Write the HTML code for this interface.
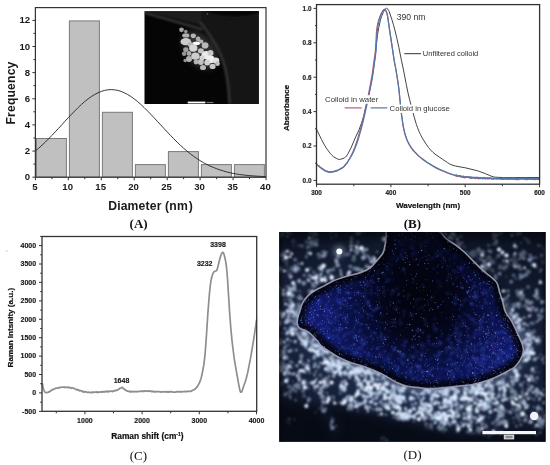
<!DOCTYPE html>
<html><head><meta charset="utf-8"><title>Figure</title>
<style>
html,body{margin:0;padding:0;background:#fff;width:550px;height:465px;overflow:hidden}
svg{display:block}
filter{color-interpolation-filters:sRGB}
.ta{font-family:'Liberation Sans', Arial, sans-serif;font-weight:bold;font-size:9.6px;fill:#1a1a1a}
.tA{font-family:'Liberation Sans', Arial, sans-serif;font-weight:bold;font-size:12.2px;fill:#1a1a1a;letter-spacing:0.15px}
.tb{font-family:'Liberation Sans', Arial, sans-serif;font-weight:bold;font-size:6.4px;fill:#222;stroke:#222;stroke-width:0.15px}
.tB{font-family:'Liberation Sans', Arial, sans-serif;font-weight:bold;font-size:8px;fill:#111;stroke:#111;stroke-width:0.2px}
.tl{font-family:'Liberation Sans', Arial, sans-serif;fill:#333}
.tc{font-family:'Liberation Sans', Arial, sans-serif;font-weight:bold;font-size:7px;fill:#1a1a1a;stroke:#1a1a1a;stroke-width:0.15px}
.tC{font-family:'Liberation Sans', Arial, sans-serif;font-weight:bold;font-size:7.5px;fill:#111;stroke:#111;stroke-width:0.2px}
.lab{font-family:'Liberation Serif', 'Times New Roman', serif;font-size:13px;fill:#111}
</style></head><body>
<svg width="550" height="465" viewBox="0 0 550 465">
<defs>
<filter id="b05" x="-20%" y="-20%" width="140%" height="140%"><feGaussianBlur stdDeviation="0.5"/></filter>
<filter id="b1" x="-20%" y="-20%" width="140%" height="140%"><feGaussianBlur stdDeviation="1"/></filter>
<filter id="b3" x="-50%" y="-50%" width="200%" height="200%"><feGaussianBlur stdDeviation="3"/></filter>
</defs>
<rect width="550" height="465" fill="#fff"/>
<g id="pa">
<rect x="36.4" y="138.5" width="30" height="38.7" fill="#c0c0c0" stroke="#7a7a7a" stroke-width="1"/>
<rect x="69.4" y="20.9" width="30" height="156.3" fill="#c0c0c0" stroke="#7a7a7a" stroke-width="1"/>
<rect x="102.4" y="112.3" width="30" height="64.8" fill="#c0c0c0" stroke="#7a7a7a" stroke-width="1"/>
<rect x="135.4" y="164.6" width="30" height="12.6" fill="#c0c0c0" stroke="#7a7a7a" stroke-width="1"/>
<rect x="168.4" y="151.6" width="30" height="25.6" fill="#c0c0c0" stroke="#7a7a7a" stroke-width="1"/>
<rect x="201.4" y="164.6" width="30" height="12.6" fill="#c0c0c0" stroke="#7a7a7a" stroke-width="1"/>
<rect x="234.4" y="164.6" width="30" height="12.6" fill="#c0c0c0" stroke="#7a7a7a" stroke-width="1"/>
<polyline points="35.4,151 38.7,148.2 42,145.2 45.3,142.1 48.6,138.8 51.9,135.4 55.2,131.9 58.5,128.4 61.8,124.8 65,121.2 68.3,117.7 71.6,114.2 74.9,110.8 78.2,107.5 81.5,104.4 84.8,101.5 88.1,98.9 91.4,96.5 94.7,94.5 98,92.8 101.3,91.4 104.6,90.4 107.9,89.8 111.2,89.6 114.5,89.8 117.8,90.4 121.1,91.4 124.3,92.8 127.6,94.5 130.9,96.5 134.2,98.9 137.5,101.5 140.8,104.4 144.1,107.5 147.4,110.8 150.7,114.2 154,117.7 157.3,121.2 160.6,124.8 163.9,128.4 167.2,131.9 170.5,135.4 173.8,138.8 177.1,142.1 180.3,145.2 183.6,148.2 186.9,151 190.2,153.7 193.5,156.2 196.8,158.5 200.1,160.6 203.4,162.6 206.7,164.4 210,166 213.3,167.4 216.6,168.7 219.9,169.9 223.2,170.9 226.5,171.9 229.8,172.7 233.1,173.4 236.4,174 239.6,174.5 242.9,174.9 246.2,175.3 249.5,175.6 252.8,175.9 256.1,176.1 259.4,176.3 262.7,176.5 266,176.6" fill="none" stroke="#222" stroke-width="0.9"/>
<rect x="35.4" y="7.6" width="230.6" height="169.6" fill="none" stroke="#333" stroke-width="1.2"/>
<line x1="32.4" y1="177.2" x2="35.4" y2="177.2" stroke="#333" stroke-width="1"/>
<text x="30.2" y="180.2" text-anchor="end" class="ta">0</text>
<line x1="33.4" y1="164.1" x2="35.4" y2="164.1" stroke="#333" stroke-width="1"/>
<line x1="32.4" y1="151.1" x2="35.4" y2="151.1" stroke="#333" stroke-width="1"/>
<text x="30.2" y="154.1" text-anchor="end" class="ta">2</text>
<line x1="33.4" y1="138" x2="35.4" y2="138" stroke="#333" stroke-width="1"/>
<line x1="32.4" y1="124.9" x2="35.4" y2="124.9" stroke="#333" stroke-width="1"/>
<text x="30.2" y="127.9" text-anchor="end" class="ta">4</text>
<line x1="33.4" y1="111.8" x2="35.4" y2="111.8" stroke="#333" stroke-width="1"/>
<line x1="32.4" y1="98.8" x2="35.4" y2="98.8" stroke="#333" stroke-width="1"/>
<text x="30.2" y="101.8" text-anchor="end" class="ta">6</text>
<line x1="33.4" y1="85.7" x2="35.4" y2="85.7" stroke="#333" stroke-width="1"/>
<line x1="32.4" y1="72.6" x2="35.4" y2="72.6" stroke="#333" stroke-width="1"/>
<text x="30.2" y="75.6" text-anchor="end" class="ta">8</text>
<line x1="33.4" y1="59.6" x2="35.4" y2="59.6" stroke="#333" stroke-width="1"/>
<line x1="32.4" y1="46.5" x2="35.4" y2="46.5" stroke="#333" stroke-width="1"/>
<text x="30.2" y="49.5" text-anchor="end" class="ta">10</text>
<line x1="33.4" y1="33.4" x2="35.4" y2="33.4" stroke="#333" stroke-width="1"/>
<line x1="32.4" y1="20.4" x2="35.4" y2="20.4" stroke="#333" stroke-width="1"/>
<text x="30.2" y="23.4" text-anchor="end" class="ta">12</text>
<line x1="35.4" y1="177.2" x2="35.4" y2="180.2" stroke="#333" stroke-width="1"/>
<text x="34.8" y="189.9" text-anchor="middle" class="ta">5</text>
<line x1="51.9" y1="177.2" x2="51.9" y2="179.2" stroke="#333" stroke-width="1"/>
<line x1="68.3" y1="177.2" x2="68.3" y2="180.2" stroke="#333" stroke-width="1"/>
<text x="67.7" y="189.9" text-anchor="middle" class="ta">10</text>
<line x1="84.8" y1="177.2" x2="84.8" y2="179.2" stroke="#333" stroke-width="1"/>
<line x1="101.3" y1="177.2" x2="101.3" y2="180.2" stroke="#333" stroke-width="1"/>
<text x="100.7" y="189.9" text-anchor="middle" class="ta">15</text>
<line x1="117.8" y1="177.2" x2="117.8" y2="179.2" stroke="#333" stroke-width="1"/>
<line x1="134.2" y1="177.2" x2="134.2" y2="180.2" stroke="#333" stroke-width="1"/>
<text x="133.6" y="189.9" text-anchor="middle" class="ta">20</text>
<line x1="150.7" y1="177.2" x2="150.7" y2="179.2" stroke="#333" stroke-width="1"/>
<line x1="167.2" y1="177.2" x2="167.2" y2="180.2" stroke="#333" stroke-width="1"/>
<text x="166.6" y="189.9" text-anchor="middle" class="ta">25</text>
<line x1="183.6" y1="177.2" x2="183.6" y2="179.2" stroke="#333" stroke-width="1"/>
<line x1="200.1" y1="177.2" x2="200.1" y2="180.2" stroke="#333" stroke-width="1"/>
<text x="199.5" y="189.9" text-anchor="middle" class="ta">30</text>
<line x1="216.6" y1="177.2" x2="216.6" y2="179.2" stroke="#333" stroke-width="1"/>
<line x1="233.1" y1="177.2" x2="233.1" y2="180.2" stroke="#333" stroke-width="1"/>
<text x="232.5" y="189.9" text-anchor="middle" class="ta">35</text>
<line x1="249.5" y1="177.2" x2="249.5" y2="179.2" stroke="#333" stroke-width="1"/>
<line x1="266" y1="177.2" x2="266" y2="180.2" stroke="#333" stroke-width="1"/>
<text x="265.4" y="189.9" text-anchor="middle" class="ta">40</text>
<text x="108.2" y="210" class="tA">Diameter (nm<tspan dx="0.8">)</tspan></text>
<text transform="translate(15,93) rotate(-90)" text-anchor="middle" class="tA">Frequency</text>
<text x="138.6" y="227.8" text-anchor="middle" class="lab" font-weight="bold">(A)</text>
</g>
<g id="inset">
<rect x="144.5" y="11.2" width="114.3" height="92.8" fill="#050505"/>
<clipPath id="ic"><rect x="144.5" y="11.2" width="114.3" height="92.8"/></clipPath>
<g clip-path="url(#ic)">
<path d="M144.5,11 L210,11 L203,26 Z" fill="#1e1e1e" filter="url(#b1)"/>
<path d="M144.5,12.6 L203,29.5" fill="none" stroke="#383838" stroke-width="2.4" filter="url(#b1)"/>
<path d="M201,11 L258.8,11 L258.8,104 L229.5,104 C229,90 227.5,77 224.5,66 C221.5,55 214,40 201,23 Z" fill="#151515"/>
<path d="M200,22 C214,40 221.5,55 224.5,66 C227.5,77 229,90 229.5,104" fill="none" stroke="#363636" stroke-width="2.6" filter="url(#b1)"/>
<ellipse cx="233" cy="11" rx="27" ry="7" fill="#060606" filter="url(#b1)"/>
<path d="M206,12.5 C220,19 244,19 258.8,14" fill="none" stroke="#222" stroke-width="1.5" filter="url(#b1)"/>
<circle cx="207.5" cy="14" r="0.8" fill="#666"/>
<g filter="url(#b05)"><ellipse cx="200" cy="50" rx="14" ry="22" transform="rotate(-40 200 50)" fill="#303030" filter="url(#b3)"/><ellipse cx="181.5" cy="29.8" rx="2.4" ry="2.4" fill="rgb(160,160,160)"/><ellipse cx="185.8" cy="31.5" rx="1.8" ry="1.8" fill="rgb(150,150,150)"/><ellipse cx="185.8" cy="35.4" rx="3.6" ry="2.2" fill="rgb(175,175,175)"/><ellipse cx="193.3" cy="35.8" rx="2.6" ry="2.4" fill="rgb(180,180,180)"/><ellipse cx="198.1" cy="39" rx="2.4" ry="2.4" fill="rgb(170,170,170)"/><ellipse cx="185.8" cy="41.7" rx="5.4" ry="3.6" fill="rgb(205,205,205)"/><ellipse cx="190.5" cy="44.5" rx="3" ry="2.4" fill="rgb(180,180,180)"/><ellipse cx="196.5" cy="43.3" rx="3.6" ry="1.9" fill="rgb(255,255,255)"/><ellipse cx="201" cy="41.5" rx="2.4" ry="1.9" fill="rgb(180,180,180)"/><ellipse cx="205.1" cy="45.4" rx="3.4" ry="3.1" fill="rgb(185,185,185)"/><ellipse cx="193.3" cy="48.1" rx="4.2" ry="3.6" fill="rgb(215,215,215)"/><ellipse cx="185.8" cy="49.7" rx="2.6" ry="2.4" fill="rgb(160,160,160)"/><ellipse cx="200.8" cy="50.8" rx="3" ry="2.6" fill="rgb(195,195,195)"/><ellipse cx="184.1" cy="53.8" rx="2.2" ry="2.2" fill="rgb(150,150,150)"/><ellipse cx="189" cy="53.5" rx="2.4" ry="2.4" fill="rgb(170,170,170)"/><ellipse cx="195.4" cy="56.2" rx="4.2" ry="3.6" fill="rgb(205,205,205)"/><ellipse cx="206.2" cy="55.1" rx="4.8" ry="4.2" fill="rgb(235,235,235)"/><ellipse cx="210.5" cy="53" rx="3" ry="3" fill="rgb(200,200,200)"/><ellipse cx="189" cy="58.9" rx="3" ry="3" fill="rgb(180,180,180)"/><ellipse cx="185.2" cy="60.5" rx="1.8" ry="1.8" fill="rgb(150,150,150)"/><ellipse cx="210.5" cy="59.4" rx="4.2" ry="3.8" fill="rgb(240,240,240)"/><ellipse cx="215.9" cy="60.5" rx="3.4" ry="3.1" fill="rgb(225,225,225)"/><ellipse cx="200.8" cy="62.1" rx="3" ry="3" fill="rgb(195,195,195)"/><ellipse cx="207.3" cy="62.6" rx="3" ry="3" fill="rgb(210,210,210)"/><ellipse cx="203" cy="67.5" rx="3" ry="2.6" fill="rgb(185,185,185)"/><ellipse cx="212.6" cy="66.4" rx="3" ry="2.6" fill="rgb(200,200,200)"/><ellipse cx="217.5" cy="63.7" rx="2.4" ry="2.4" fill="rgb(190,190,190)"/><ellipse cx="202" cy="58" rx="2.6" ry="2.4" fill="rgb(210,210,210)"/><ellipse cx="196" cy="62" rx="2.4" ry="2.4" fill="rgb(180,180,180)"/></g>
<rect x="187.7" y="101.6" width="17.7" height="1.8" fill="#fff"/>
<rect x="206.5" y="101.9" width="7" height="1.2" fill="#777"/>
</g></g>
<g id="pb">
<polyline points="316.6,129.3 321.5,139.5 324,144.2 326,147.6 327.5,149.8 330.5,153.7 332,155.3 333.5,156.7 336.2,158.3 337.8,159.1 338.9,159.4 339.4,159.4 340.9,159.2 343,158.5 344.5,157.8 345.5,157.1 346.5,156 348,153.7 351,147.9 355.2,138 359,129.8 361.5,123.1 362.5,120 363.6,116.2 369.3,92.5 370.9,84.5 372,78.3 374.2,64.3 374.8,60 376.2,45.2 376.7,40.8 377.8,33.2 378.8,27.4 380.4,20.3 381.5,16.6 382.1,15.1 383.3,12.3 383.9,11.1 385.1,9.3 385.7,8.6 386.3,8.3 386.9,8.4 388,9.3 388.6,10.2 389.2,11.6 391.9,19.6 393.4,24.6 394.9,30.1 396.9,38.4 398.9,47.6 401.4,60.2 403.5,70 406.3,84.6 407.9,92.4 409.5,99.2 411.7,107.7 414.3,117.4 416.4,124.5 417.5,127.6 419,131.4 420.5,134.6 422,137.5 424,140.9 426.5,144.7 428.5,147.5 430.5,149.9 433,152.4 436.1,154.9 442.3,159.1 447.4,162.6 449.5,163.9 451,164.6 453,165.3 455.5,166 459,166.7 465.3,167.8 476.8,170.6 479.9,171.6 485.5,173.7 490.7,175.9 493.3,176.8 495.4,177.2 503.5,177.6 539.4,177.5" fill="none" stroke="#3a3a3a" stroke-width="0.95" stroke-linejoin="round"/>
<polyline points="316.4,164.2 316.9,164.9 317.5,165.2 318.1,165.8 318.7,166.3 319.3,166.2 319.8,166.6 320.4,167.7 320.9,167.5 321.4,167.9 321.9,169 322.4,168.9 322.9,169.6 323.4,169.6 323.9,170.1 324.4,169.9 325,170.6 325.5,171.1 326,171 326.5,171.4 327,171.6 327.5,171.2 328.1,172 328.6,172 329.6,171.6 330.1,172.3 330.6,171.9 331.7,172.2 332.2,171.9 332.7,172 333.2,171.4 333.7,171.7 334.3,171.3 334.8,171.6 335.3,171.4 335.8,170.6 336.3,170.5 336.8,170.4 337.3,170.9 337.9,170.2 338.4,170.1 338.9,169.6 339.4,169.6 340.5,168.9 341,168.7 341.6,168.4 342.2,168.2 342.7,167.6 343.3,167.3 344.4,166.3 345.5,164.4 346,164.3 346.5,163.7 347,162.9 347.6,161.7 348.1,161 348.6,159.7 349.2,159.4 351.9,154 353.1,151.6 355.2,146.2 357.3,140 359,134.2 361.8,124.1 363.4,117.6 365.6,107.6 367.8,97.7 370.4,84.4 372.1,75 374.1,60 375.3,52 376.6,30.1 377.7,23.7 378.9,19.4 380,16.4 381.1,13.8 382.3,11.8 383.4,10.3 383.9,9.6 384.4,9.3 385.1,9.7 385.8,10.5 386.3,11.5 387.4,15.1 387.9,18 389.6,30.1 391.9,45.2 393.6,56.7 394.1,60.2 396,70 398,82.5 399,90 400.5,105.5 401.5,114.6 402.6,122.5 403.6,128.5 404.7,133 405.8,136.8 406.9,139.8 408,142.3 409.6,145.2 411.1,147.7 412.7,149.8 414.8,152.2 418.4,155.9 422,158.9 424.5,160.7 427.5,162.8 433,166.2 436,167.9 439,169.4 448,173.2 451.5,174.4 455,175.5 456,175.1 456.5,176.3 457,176.6 457.5,175.5 458,176.6 458.5,176.1 459,175.8 459.5,176.1 460,176.8 460.5,177 461,176 461.5,176.8 462,176.1 462.5,177.1 463,176.6 463.5,177.5 464,177.7 464.5,177.1 465,177.8 465.5,176.9 466,176.6 466.5,177.4 467,176.7 468.5,177.7 469,177.1 469.5,177 470,178.2 470.5,177.4 471,178.4 471.5,178.3 472,177.7 473.5,178.1 474.5,178.1 475,178.2 475.5,178.7 476,178.1 476.5,178 477,178.5 477.5,177.8 478,177.9 478.5,178.9 479,178.3 479.5,178.3 480,177.6 480.5,178.2 481,178.4 481.5,177.7 482,178.5 482.5,178.6 483,177.8 483.5,178.6 484,178.4 484.5,178.7 485,178.3 485.5,178.8 486,178.8 486.5,177.8 487,177.9 487.5,178.8 488,179.2 488.5,178.2 489.5,178.7 490,178.3 490.5,178.4 491,178.3 491.5,178.4 492,178.8 492.5,178.4 493,178.5 493.5,179 494,178 494.5,178.8 495,179 495.5,178.4 496,178.3 496.5,179.1 497,178.4 497.5,178.3 498.5,179 499,178.2 499.5,178.5 500,178.5 500.5,179.3 501,178.7 501.5,179.3 502,178.3 502.5,178.6 503.5,179.4 504,178.8 504.5,178.5 505,178.3 505.5,178.9 506,178.4 506.5,179.3 507,179.3 507.5,178.4 508,178.6 508.5,179.3 509,179.1 509.5,179.3 510,178.7 510.5,178.4 511,178.6 511.5,179.3 512,178.6 513,178.8 514.1,178.8 514.6,179.5 515.1,178.5 515.6,178.3 516.1,179.6 516.6,179.5 517.1,179.6 517.6,178.9 518.1,179.6 518.6,179.6 519.1,178.6 519.6,179.3 520.1,179.5 521.7,178.7 522.2,178.8 523.2,178.4 523.7,179.1 524.2,178.7 524.7,179.4 525.2,178.4 525.7,179.6 526.2,179.3 526.7,179.6 527.7,179.6 528.2,179.1 528.8,178.4 529.3,179.4 529.8,178.6 530.3,178.8 530.8,179.3 531.8,178.9 532.3,179.7 533.3,178.8 533.8,178.7 534.3,179.6 534.8,179 535.3,179.5 535.9,178.9 536.4,178.7 537.4,179.5 537.9,178.6 538.4,179.5 538.9,179.7 539.4,179.5" fill="none" stroke="#b85a78" stroke-width="1.2" stroke-linejoin="round"/>
<polyline points="316.6,164.2 317.2,164.5 317.7,165.2 318.9,165.8 320,167.4 321,168 321.5,167.9 322,168.6 322.5,168.7 323.5,169.3 324,169.7 324.5,170.6 326,171.2 326.5,170.9 327,171.2 327.6,171.7 328.6,172.2 329.1,172.3 329.6,171.6 330.1,172.1 330.6,172.1 331.2,171.9 331.7,171.5 332.2,171.7 332.7,171.3 333.2,171.9 333.8,171.8 334.8,171 335.3,171.4 335.8,171 336.4,171.1 336.9,170.9 337.4,170.4 337.9,170.2 338.4,170.1 339.5,169.2 340,169.1 340.5,169.3 341,168.3 341.5,168 342,168.2 342.6,167.5 343.1,167.3 344.1,166.2 344.6,166.3 345.2,165.1 345.7,164.6 346.2,163.7 346.8,163.4 347.4,162.3 347.9,161.5 348.4,161.1 349,159.8 349.5,159.2 352.1,154.7 354.2,150.4 356.4,144.8 358.6,138.2 360.9,130 363,122.1 365.2,112.7 367.4,102.6 371.7,81.5 372.8,75 374.8,60 376,52 377.3,30.1 378.3,23.8 379.3,19.5 380.4,16.5 381.4,13.8 381.9,12.7 382.9,11 383.7,9.9 384.4,9.3 385.1,9.7 385.8,10.5 386.3,11.5 387.4,15.1 387.9,18 389.6,30.1 391.9,45.2 393.6,56.7 394.1,60.2 396,70 398,82.5 399,90 400.5,105.3 401.5,114.3 402.6,122.2 403.6,128.2 404.7,132.7 405.8,136.5 406.9,139.5 408,142 409.6,144.9 411.1,147.4 412.7,149.5 414.8,151.9 418.4,155.6 422,158.6 427,162.2 432.5,165.6 436,167.6 439.5,169.3 448.5,173 452,174.3 455,175.2 455.5,175.9 456,174.9 456.5,174.9 457,175.3 457.5,176.1 458,176 458.5,175.6 459,175.8 459.5,175.6 460,176.1 460.5,175.6 461,176.6 461.5,176.9 462,177.1 462.5,176.8 463,177.2 463.5,176 464,176.4 464.5,177.4 465,177.2 465.5,176.7 466,177.6 466.5,177.2 467,177.5 467.5,176.8 468,176.7 468.5,177.1 469,176.7 469.5,177.1 470,178 470.5,177.2 471,176.8 472,177.1 472.5,178 473,177.4 473.5,177.4 474,177.1 474.5,178.4 475,177.6 476,177.2 476.5,177.2 477,177.4 477.5,178.1 478,177.4 478.5,177.3 479,177.9 479.5,177.6 480,178.7 480.5,177.5 481,178.1 481.5,178.4 482,177.9 482.5,178.8 483,178.1 483.5,177.8 484,178 484.5,177.5 485,178 485.5,177.8 486,178.7 486.5,178.7 487,178.2 487.5,177.6 488,177.9 489.5,177.9 490,178.8 490.5,177.8 491,177.7 491.5,178.9 492,178.4 492.5,179 493,178.2 493.5,178.9 494,178.6 494.5,178.8 495,178.7 495.5,178.4 496,177.8 496.5,178 497,179 498,179 498.5,178.2 499,178.7 499.5,178.9 500,178.7 500.5,178.9 501,178.5 501.5,178.7 502,178.8 502.5,178.2 503,179.1 503.5,179.2 504,177.9 504.5,179.2 505,179.2 505.5,178.8 506,177.9 506.5,179.1 507,178 507.5,179.2 508,178.8 508.5,178 509,178.1 509.5,178.8 510,178.7 511,179.2 511.5,178.2 512,177.9 512.5,179.2 513,177.9 513.5,179.2 514.1,178.1 514.6,179.1 515.1,179 515.6,179.2 516.1,178.7 516.6,179.2 517.1,178.2 517.6,178.9 518.1,178.4 518.6,179.2 519.1,179.1 519.6,178.6 520.1,178.7 520.6,178 521.2,178 521.7,178.8 522.2,178.7 522.7,179.2 523.2,178.9 523.7,178.2 524.2,178.5 524.7,179.1 525.2,178.7 525.7,178 526.2,179.2 526.7,179.2 527.2,178.1 527.7,178.8 528.2,178.6 528.8,179.1 529.3,178.5 529.8,178.4 530.3,178.7 530.8,179.4 531.3,178.2 531.8,178.2 532.3,178.9 532.8,179.3 533.3,178.8 533.8,178.7 534.3,179.3 534.8,179.2 535.3,178.2 535.9,179.3 536.4,178.4 536.9,178.5 537.4,179.3 537.9,178.7 538.4,179.2 538.9,178.3 539.4,179.3" fill="none" stroke="#4a7aaa" stroke-width="1.2" stroke-linejoin="round"/>
<rect x="316.5" y="4.6" width="223.1" height="179.6" fill="none" stroke="#333" stroke-width="1.3"/>
<line x1="313.5" y1="180.4" x2="316.5" y2="180.4" stroke="#333" stroke-width="1"/>
<text x="311.5" y="182.7" text-anchor="end" class="tb">0.0</text>
<line x1="315" y1="163.2" x2="316.5" y2="163.2" stroke="#333" stroke-width="1"/>
<line x1="313.5" y1="146" x2="316.5" y2="146" stroke="#333" stroke-width="1"/>
<text x="311.5" y="148.3" text-anchor="end" class="tb">0.2</text>
<line x1="315" y1="128.8" x2="316.5" y2="128.8" stroke="#333" stroke-width="1"/>
<line x1="313.5" y1="111.6" x2="316.5" y2="111.6" stroke="#333" stroke-width="1"/>
<text x="311.5" y="113.9" text-anchor="end" class="tb">0.4</text>
<line x1="315" y1="94.4" x2="316.5" y2="94.4" stroke="#333" stroke-width="1"/>
<line x1="313.5" y1="77.2" x2="316.5" y2="77.2" stroke="#333" stroke-width="1"/>
<text x="311.5" y="79.5" text-anchor="end" class="tb">0.6</text>
<line x1="315" y1="60" x2="316.5" y2="60" stroke="#333" stroke-width="1"/>
<line x1="313.5" y1="42.8" x2="316.5" y2="42.8" stroke="#333" stroke-width="1"/>
<text x="311.5" y="45.1" text-anchor="end" class="tb">0.8</text>
<line x1="315" y1="25.6" x2="316.5" y2="25.6" stroke="#333" stroke-width="1"/>
<line x1="313.5" y1="8.4" x2="316.5" y2="8.4" stroke="#333" stroke-width="1"/>
<text x="311.5" y="10.7" text-anchor="end" class="tb">1.0</text>
<line x1="316.6" y1="184.2" x2="316.6" y2="187.2" stroke="#333" stroke-width="1"/>
<text x="316.6" y="194.8" text-anchor="middle" class="tb">300</text>
<line x1="353.8" y1="184.2" x2="353.8" y2="186.2" stroke="#333" stroke-width="1"/>
<line x1="390.9" y1="184.2" x2="390.9" y2="187.2" stroke="#333" stroke-width="1"/>
<text x="390.9" y="194.8" text-anchor="middle" class="tb">400</text>
<line x1="428.1" y1="184.2" x2="428.1" y2="186.2" stroke="#333" stroke-width="1"/>
<line x1="465.2" y1="184.2" x2="465.2" y2="187.2" stroke="#333" stroke-width="1"/>
<text x="465.2" y="194.8" text-anchor="middle" class="tb">500</text>
<line x1="502.4" y1="184.2" x2="502.4" y2="186.2" stroke="#333" stroke-width="1"/>
<line x1="539.5" y1="184.2" x2="539.5" y2="187.2" stroke="#333" stroke-width="1"/>
<text x="539.5" y="194.8" text-anchor="middle" class="tb">600</text>
<text x="428" y="208" text-anchor="middle" class="tB">Wavelength (nm)</text>
<text transform="translate(288.6,108) rotate(-90)" text-anchor="middle" class="tB">Absorbance</text>
<text x="396.8" y="19.6" class="tl" font-size="8.6">390 nm</text>
<line x1="404.4" y1="53.7" x2="421" y2="53.7" stroke="#333" stroke-width="1"/>
<text x="422.8" y="56.4" class="tl" font-size="7.5">Unfiltered colloid</text>
<rect x="324.5" y="95.2" width="55" height="8.6" fill="#fff"/>
<rect x="369.8" y="104.6" width="81" height="8.4" fill="#fff"/>
<text x="325" y="101.8" class="tl" font-size="7.8">Colloid in water</text>
<line x1="344.6" y1="107.9" x2="361.6" y2="107.9" stroke="#b85a78" stroke-width="1.2"/>
<line x1="370.6" y1="107.9" x2="387.2" y2="107.9" stroke="#4a7aaa" stroke-width="1.2"/>
<text x="389.6" y="111.2" class="tl" font-size="7.7">Colloid in glucose</text>
<text x="412.3" y="227.8" text-anchor="middle" class="lab" font-weight="bold">(B)</text>
</g>
<g id="pc">
<polyline points="42.3,383.1 42.9,386.4 43.5,389 44.1,390.6 44.7,391.8 45.3,392.4 45.9,392.6 46.5,392.7 47.5,392.5 48.5,391.9 49,392.2 49.6,391.3 50.7,391.2 51.2,390.2 51.8,390.2 52.3,390 52.8,389.4 53.8,389.4 54.3,389 54.8,388.9 55.3,388.3 56.3,388 57.3,388.3 57.8,388 58.3,388 58.8,387.6 59.3,387.8 59.8,387.3 60.3,387.3 60.8,387.5 61.3,387.5 62.3,387 62.8,387.1 63.8,387 64.3,387.4 64.8,387 65.3,387.5 65.9,387.5 66.4,387 66.9,387.3 67.4,387.4 67.9,387.1 68.9,387.9 69.4,387.4 70,387.8 70.5,387.6 71.5,388.3 72,387.9 72.5,387.9 73,388 73.5,388.5 74,388.3 74.5,388.5 75.5,389.5 76,389.3 76.5,389.4 77,389.8 77.5,389.6 78,390.1 78.5,389.9 79.5,390.8 80,390.3 80.5,390.8 81,391 81.5,390.8 82,391.1 82.5,391.7 83,391.8 83.5,391.3 84,391.9 84.5,392.1 85,391.7 85.5,392 86,391.7 87,392.3 87.5,392.3 88,392.5 88.5,392 89,392.3 89.5,392.6 90,392.5 91,392.3 91.5,392.7 92.5,392 93,392.6 93.5,392.2 94,392.3 94.5,392.1 95,392.2 96,392 96.5,392.3 97,391.9 97.5,392.4 98,391.8 98.5,392.3 99,392.3 99.5,392.1 100,392.2 100.5,391.8 101,392.1 102,391.7 102.5,392.2 103,391.7 103.5,391.7 104,392 104.5,391.6 105,391.8 105.5,391.4 106,391.8 106.5,391.4 107,391.2 107.5,391.8 108,391.2 108.5,391.7 109,391.8 109.5,391.5 110,391 111.5,391.2 112.5,391.6 113,391.1 113.5,390.9 114,391.1 114.5,390.7 115,390.6 115.5,390.7 116,390.7 116.5,390.1 117,390.2 117.5,390.1 118,389.8 118.5,389.2 119,389.2 119.5,388.4 120,388.4 121,388 121.5,387.6 122,387.4 122.5,387.6 123,388.3 123.5,388.4 124,389.1 124.5,389.1 125,390.1 125.5,390.1 126,390.3 127,391 127.5,391.2 128.5,391.2 129.5,391.8 130,391.6 130.5,391.8 131,391.2 131.5,391.9 132,391.8 132.5,391.6 133,391.6 133.5,391.6 134,391.9 134.5,391.3 135,391.7 136,391.5 136.5,391.8 137,391.7 137.5,391.3 138,391.7 138.5,391.5 139.5,391.5 140,391.1 140.5,391.4 141,391.2 141.5,391.5 142,391 142.5,391.4 143.5,391.2 144,391.4 144.5,390.8 145,391.2 146,391.2 147,390.8 147.5,390.9 148,391.3 148.5,391 149,390.9 149.5,391.2 150.5,391.3 151,391 151.5,391.6 152,391.3 152.5,391.6 153,391.1 153.5,391.8 154,391.6 154.5,391.9 155,391.9 155.5,391.8 156,391.4 156.5,391.6 157,391.5 157.5,391.9 158,391.5 159.5,391.5 160,392.1 160.5,392.1 161,391.7 161.5,392 162,391.8 162.5,391.9 163,391.8 163.5,391.9 164,391.7 164.5,391.7 165,391.9 165.5,391.7 166,391.8 166.5,392.2 167,391.6 167.5,391.6 168,392.1 168.5,391.6 169,391.7 169.5,392.1 170.5,391.7 171,391.6 171.5,391.7 172,391.8 172.5,392.1 173,392.2 173.5,392.1 176,392.2 176.5,391.6 177,391.7 177.5,391.7 178,391.9 179,391.7 179.5,392 180,391.7 180.5,391.6 182,391.8 183,391.7 183.5,391.5 184,391.6 185,391.4 185.5,391.7 186,391.4 186.5,391.7 187,391.6 187.6,391.2 188.1,391.5 188.6,391.3 190.7,391.4 191.2,391.2 191.7,390.7 192.3,390.7 193.4,389.8 193.9,389.8 194.5,389.4 195,389.3 195.5,388.5 196,388.1 197,386.9 198,385.5 199,383.7 200,381.4 201,378.4 201.5,376.5 202.5,372 203.6,365.9 204.2,362 204.8,356.6 205.4,350 206.4,336 207.9,312.7 209.4,294 210.4,284.5 210.9,280.9 211.5,278.2 212.2,275.5 212.9,273.6 214,271.7 214.5,271.3 215.8,271 216.8,270.5 217.4,268.6 219.4,260.5 220.7,255.8 221.4,254 222,252.9 222.6,252.3 223.1,252.6 223.6,253.3 224.1,254.6 224.6,256.5 225.6,261 226.5,267 227.5,278.7 229.6,312 230.8,328 232,340.6 233.2,350.5 234.2,358.4 235.3,365.1 238.6,383.8 239.9,390.4 240.6,392.2 241.6,392 242.1,391.1 243.2,387.5 245.3,381.5 246.3,378.2 247.8,372.1 250.4,358.9 252.1,349 254.3,335.5 256.6,319.5" fill="none" stroke="#8e8e8e" stroke-width="1.7" stroke-linejoin="round"/>
<rect x="42" y="236.5" width="214.7" height="174.8" fill="none" stroke="#333" stroke-width="1.3"/>
<line x1="39" y1="411.4" x2="42" y2="411.4" stroke="#333" stroke-width="1"/>
<text x="36.1" y="413.7" text-anchor="end" class="tc">-500</text>
<line x1="40.2" y1="402.2" x2="42" y2="402.2" stroke="#333" stroke-width="1"/>
<line x1="39" y1="392.9" x2="42" y2="392.9" stroke="#333" stroke-width="1"/>
<text x="36.1" y="395.2" text-anchor="end" class="tc">0</text>
<line x1="40.2" y1="383.7" x2="42" y2="383.7" stroke="#333" stroke-width="1"/>
<line x1="39" y1="374.5" x2="42" y2="374.5" stroke="#333" stroke-width="1"/>
<text x="36.1" y="376.8" text-anchor="end" class="tc">500</text>
<line x1="40.2" y1="365.3" x2="42" y2="365.3" stroke="#333" stroke-width="1"/>
<line x1="39" y1="356.1" x2="42" y2="356.1" stroke="#333" stroke-width="1"/>
<text x="36.1" y="358.4" text-anchor="end" class="tc">1000</text>
<line x1="40.2" y1="346.9" x2="42" y2="346.9" stroke="#333" stroke-width="1"/>
<line x1="39" y1="337.7" x2="42" y2="337.7" stroke="#333" stroke-width="1"/>
<text x="36.1" y="340" text-anchor="end" class="tc">1500</text>
<line x1="40.2" y1="328.5" x2="42" y2="328.5" stroke="#333" stroke-width="1"/>
<line x1="39" y1="319.3" x2="42" y2="319.3" stroke="#333" stroke-width="1"/>
<text x="36.1" y="321.6" text-anchor="end" class="tc">2000</text>
<line x1="40.2" y1="310.1" x2="42" y2="310.1" stroke="#333" stroke-width="1"/>
<line x1="39" y1="300.9" x2="42" y2="300.9" stroke="#333" stroke-width="1"/>
<text x="36.1" y="303.2" text-anchor="end" class="tc">2500</text>
<line x1="40.2" y1="291.6" x2="42" y2="291.6" stroke="#333" stroke-width="1"/>
<line x1="39" y1="282.4" x2="42" y2="282.4" stroke="#333" stroke-width="1"/>
<text x="36.1" y="284.7" text-anchor="end" class="tc">3000</text>
<line x1="40.2" y1="273.2" x2="42" y2="273.2" stroke="#333" stroke-width="1"/>
<line x1="39" y1="264" x2="42" y2="264" stroke="#333" stroke-width="1"/>
<text x="36.1" y="266.3" text-anchor="end" class="tc">3500</text>
<line x1="40.2" y1="254.8" x2="42" y2="254.8" stroke="#333" stroke-width="1"/>
<line x1="39" y1="245.6" x2="42" y2="245.6" stroke="#333" stroke-width="1"/>
<text x="36.1" y="247.9" text-anchor="end" class="tc">4000</text>
<line x1="40.2" y1="236.4" x2="42" y2="236.4" stroke="#333" stroke-width="1"/>
<line x1="56.3" y1="411.3" x2="56.3" y2="413.3" stroke="#333" stroke-width="1"/>
<line x1="84.9" y1="411.3" x2="84.9" y2="414.3" stroke="#333" stroke-width="1"/>
<text x="84.9" y="422.6" text-anchor="middle" class="tc">1000</text>
<line x1="113.5" y1="411.3" x2="113.5" y2="413.3" stroke="#333" stroke-width="1"/>
<line x1="142.1" y1="411.3" x2="142.1" y2="414.3" stroke="#333" stroke-width="1"/>
<text x="142.1" y="422.6" text-anchor="middle" class="tc">2000</text>
<line x1="170.7" y1="411.3" x2="170.7" y2="413.3" stroke="#333" stroke-width="1"/>
<line x1="199.3" y1="411.3" x2="199.3" y2="414.3" stroke="#333" stroke-width="1"/>
<text x="199.3" y="422.6" text-anchor="middle" class="tc">3000</text>
<line x1="227.9" y1="411.3" x2="227.9" y2="413.3" stroke="#333" stroke-width="1"/>
<line x1="256.5" y1="411.3" x2="256.5" y2="414.3" stroke="#333" stroke-width="1"/>
<text x="256.5" y="422.6" text-anchor="middle" class="tc">4000</text>
<text x="147.4" y="439" text-anchor="middle" class="tC" style="font-size:8.4px">Raman shift (cm<tspan dy="-3" font-size="5">-1</tspan><tspan dy="3">)</tspan></text>
<text transform="translate(13.3,327.6) rotate(-90)" text-anchor="middle" class="tC" style="font-size:8.1px">Raman Intsnity (a.u.)</text>
<text x="121.5" y="383.3" text-anchor="middle" class="tc">1648</text>
<text x="218" y="247.4" text-anchor="middle" class="tc">3398</text>
<text x="204.7" y="265.8" text-anchor="middle" class="tc">3232</text>
<rect x="6.4" y="250.6" width="1" height="1" fill="#999"/>
<text x="138.4" y="459.6" text-anchor="middle" class="lab">(C)</text>
</g>
<g id="pd"><clipPath id="dc"><rect x="279.3" y="232" width="266.2" height="209.8"/></clipPath><filter id="bd1" x="-5%" y="-5%" width="110%" height="110%"><feGaussianBlur stdDeviation="0.95"/></filter><filter id="bd3" x="-10%" y="-10%" width="120%" height="120%"><feGaussianBlur stdDeviation="5"/></filter><filter id="bd04" x="-50%" y="-50%" width="200%" height="200%"><feGaussianBlur stdDeviation="0.45"/></filter><filter id="bd08"><feGaussianBlur stdDeviation="0.8"/></filter><filter id="bd25"><feGaussianBlur stdDeviation="2.5"/></filter><filter id="bd2" x="-100%" y="-100%" width="300%" height="300%"><feGaussianBlur stdDeviation="3"/></filter><radialGradient id="ng" cx="420" cy="298" r="122" gradientUnits="userSpaceOnUse"><stop offset="0" stop-color="#020309"/><stop offset="0.33" stop-color="#04061a"/><stop offset="0.6" stop-color="#0a1148"/><stop offset="0.82" stop-color="#0f1866"/><stop offset="1" stop-color="#131e74"/></radialGradient><linearGradient id="tg" x1="0" y1="0" x2="0" y2="1"><stop offset="0" stop-color="#02030a" stop-opacity="0.75"/><stop offset="0.4" stop-color="#02030a" stop-opacity="0.45"/><stop offset="1" stop-color="#02030a" stop-opacity="0"/></linearGradient><linearGradient id="tg2" x1="0" y1="0" x2="0" y2="1"><stop offset="0" stop-color="#03050c" stop-opacity="0.65"/><stop offset="1" stop-color="#03050c" stop-opacity="0"/></linearGradient><linearGradient id="tg3" x1="0" y1="0" x2="1" y2="0"><stop offset="0" stop-color="#03050c" stop-opacity="0"/><stop offset="1" stop-color="#03050c" stop-opacity="0.8"/></linearGradient><linearGradient id="tg4" x1="1" y1="0" x2="0" y2="0"><stop offset="0" stop-color="#03050c" stop-opacity="0"/><stop offset="1" stop-color="#03050c" stop-opacity="0.7"/></linearGradient><g clip-path="url(#dc)"><rect x="279.3" y="232" width="266.2" height="209.8" fill="#060911"/><g filter="url(#bd3)"><path d="M315.3 412h8v8h-8zM331.3 412h8v8h-8zM339.3 412h8v8h-8zM307.3 420h8v8h-8zM315.3 420h8v8h-8zM339.3 420h8v8h-8zM307.3 428h8v8h-8zM315.3 428h8v8h-8zM323.3 428h8v8h-8zM339.3 428h8v8h-8zM307.3 436h8v8h-8zM315.3 436h8v8h-8zM323.3 436h8v8h-8zM331.3 436h8v8h-8zM339.3 436h8v8h-8zM307.3 444h8v8h-8zM315.3 444h8v8h-8zM323.3 444h8v8h-8zM331.3 444h8v8h-8zM339.3 444h8v8h-8z" fill="#060a14"/><path d="M267.3 404h8v8h-8zM275.3 404h8v8h-8zM283.3 404h8v8h-8zM291.3 404h8v8h-8zM299.3 404h8v8h-8zM307.3 404h8v8h-8zM267.3 412h8v8h-8zM275.3 412h8v8h-8zM283.3 412h8v8h-8zM291.3 412h8v8h-8zM299.3 412h8v8h-8zM307.3 412h8v8h-8zM347.3 412h8v8h-8zM355.3 412h8v8h-8zM363.3 412h8v8h-8zM267.3 420h8v8h-8zM275.3 420h8v8h-8zM283.3 420h8v8h-8zM291.3 420h8v8h-8zM299.3 420h8v8h-8zM347.3 420h8v8h-8zM355.3 420h8v8h-8zM363.3 420h8v8h-8zM371.3 420h8v8h-8zM379.3 420h8v8h-8zM387.3 420h8v8h-8zM395.3 420h8v8h-8zM403.3 420h8v8h-8zM267.3 428h8v8h-8zM275.3 428h8v8h-8zM283.3 428h8v8h-8zM291.3 428h8v8h-8zM299.3 428h8v8h-8zM347.3 428h8v8h-8zM355.3 428h8v8h-8zM363.3 428h8v8h-8zM371.3 428h8v8h-8zM379.3 428h8v8h-8zM387.3 428h8v8h-8zM395.3 428h8v8h-8zM403.3 428h8v8h-8zM411.3 428h8v8h-8zM419.3 428h8v8h-8zM427.3 428h8v8h-8zM435.3 428h8v8h-8zM267.3 436h8v8h-8zM275.3 436h8v8h-8zM283.3 436h8v8h-8zM291.3 436h8v8h-8zM299.3 436h8v8h-8zM347.3 436h8v8h-8zM355.3 436h8v8h-8zM363.3 436h8v8h-8zM371.3 436h8v8h-8zM379.3 436h8v8h-8zM387.3 436h8v8h-8zM395.3 436h8v8h-8zM403.3 436h8v8h-8zM411.3 436h8v8h-8zM419.3 436h8v8h-8zM427.3 436h8v8h-8zM435.3 436h8v8h-8zM443.3 436h8v8h-8zM451.3 436h8v8h-8zM459.3 436h8v8h-8zM467.3 436h8v8h-8zM475.3 436h8v8h-8zM483.3 436h8v8h-8zM491.3 436h8v8h-8zM499.3 436h8v8h-8zM507.3 436h8v8h-8zM515.3 436h8v8h-8zM523.3 436h8v8h-8zM531.3 436h8v8h-8zM539.3 436h8v8h-8zM547.3 436h8v8h-8zM267.3 444h8v8h-8zM275.3 444h8v8h-8zM283.3 444h8v8h-8zM291.3 444h8v8h-8zM299.3 444h8v8h-8zM347.3 444h8v8h-8zM355.3 444h8v8h-8zM363.3 444h8v8h-8zM371.3 444h8v8h-8zM379.3 444h8v8h-8zM387.3 444h8v8h-8zM395.3 444h8v8h-8zM403.3 444h8v8h-8zM411.3 444h8v8h-8zM419.3 444h8v8h-8zM427.3 444h8v8h-8zM435.3 444h8v8h-8zM443.3 444h8v8h-8zM451.3 444h8v8h-8zM459.3 444h8v8h-8zM467.3 444h8v8h-8zM475.3 444h8v8h-8zM483.3 444h8v8h-8zM491.3 444h8v8h-8zM499.3 444h8v8h-8zM507.3 444h8v8h-8zM515.3 444h8v8h-8zM523.3 444h8v8h-8zM531.3 444h8v8h-8zM539.3 444h8v8h-8zM547.3 444h8v8h-8z" fill="#070b16"/><path d="M323.3 404h8v8h-8zM323.3 420h8v8h-8z" fill="#080d19"/><path d="M371.3 412h8v8h-8z" fill="#090f1c"/><path d="M267.3 396h8v8h-8zM275.3 396h8v8h-8zM331.3 404h8v8h-8zM443.3 428h8v8h-8zM507.3 428h8v8h-8zM515.3 428h8v8h-8zM523.3 428h8v8h-8z" fill="#0b101f"/><path d="M267.3 220h8v8h-8zM275.3 220h8v8h-8zM283.3 220h8v8h-8zM459.3 220h8v8h-8zM467.3 220h8v8h-8zM523.3 220h8v8h-8zM531.3 220h8v8h-8zM539.3 220h8v8h-8zM547.3 220h8v8h-8zM267.3 228h8v8h-8zM275.3 228h8v8h-8zM283.3 228h8v8h-8zM459.3 228h8v8h-8zM467.3 228h8v8h-8zM523.3 228h8v8h-8zM531.3 228h8v8h-8zM539.3 228h8v8h-8zM547.3 228h8v8h-8zM267.3 236h8v8h-8zM275.3 236h8v8h-8zM283.3 236h8v8h-8zM523.3 236h8v8h-8zM531.3 236h8v8h-8zM539.3 236h8v8h-8zM547.3 236h8v8h-8zM283.3 396h8v8h-8zM499.3 428h8v8h-8zM531.3 428h8v8h-8zM539.3 428h8v8h-8zM547.3 428h8v8h-8z" fill="#0c1221"/><path d="M291.3 220h8v8h-8zM299.3 220h8v8h-8zM307.3 220h8v8h-8zM315.3 220h8v8h-8zM451.3 220h8v8h-8zM475.3 220h8v8h-8zM483.3 220h8v8h-8zM491.3 220h8v8h-8zM499.3 220h8v8h-8zM507.3 220h8v8h-8zM515.3 220h8v8h-8zM291.3 228h8v8h-8zM299.3 228h8v8h-8zM307.3 228h8v8h-8zM315.3 228h8v8h-8zM451.3 228h8v8h-8zM475.3 228h8v8h-8zM483.3 228h8v8h-8zM491.3 228h8v8h-8zM499.3 228h8v8h-8zM507.3 228h8v8h-8zM515.3 228h8v8h-8zM291.3 236h8v8h-8zM299.3 236h8v8h-8zM307.3 236h8v8h-8zM467.3 236h8v8h-8zM475.3 236h8v8h-8zM483.3 236h8v8h-8zM491.3 236h8v8h-8zM507.3 236h8v8h-8zM515.3 236h8v8h-8zM267.3 244h8v8h-8zM275.3 244h8v8h-8zM283.3 244h8v8h-8zM483.3 244h8v8h-8zM515.3 244h8v8h-8zM523.3 244h8v8h-8zM531.3 244h8v8h-8zM539.3 244h8v8h-8zM547.3 244h8v8h-8zM291.3 396h8v8h-8zM331.3 420h8v8h-8zM411.3 420h8v8h-8zM459.3 428h8v8h-8zM467.3 428h8v8h-8zM475.3 428h8v8h-8zM483.3 428h8v8h-8zM491.3 428h8v8h-8z" fill="#0d1424"/><path d="M323.3 220h8v8h-8zM331.3 220h8v8h-8zM339.3 220h8v8h-8zM347.3 220h8v8h-8zM355.3 220h8v8h-8zM363.3 220h8v8h-8zM403.3 220h8v8h-8zM411.3 220h8v8h-8zM419.3 220h8v8h-8zM427.3 220h8v8h-8zM443.3 220h8v8h-8zM323.3 228h8v8h-8zM331.3 228h8v8h-8zM339.3 228h8v8h-8zM347.3 228h8v8h-8zM355.3 228h8v8h-8zM363.3 228h8v8h-8zM443.3 228h8v8h-8zM315.3 236h8v8h-8zM323.3 236h8v8h-8zM331.3 236h8v8h-8zM339.3 236h8v8h-8zM363.3 236h8v8h-8zM459.3 236h8v8h-8zM499.3 236h8v8h-8zM291.3 244h8v8h-8zM299.3 244h8v8h-8zM307.3 244h8v8h-8zM475.3 244h8v8h-8zM491.3 244h8v8h-8zM499.3 244h8v8h-8zM507.3 244h8v8h-8zM483.3 252h8v8h-8zM491.3 252h8v8h-8zM499.3 252h8v8h-8zM507.3 252h8v8h-8zM515.3 252h8v8h-8zM523.3 252h8v8h-8zM531.3 252h8v8h-8zM539.3 252h8v8h-8zM547.3 252h8v8h-8zM499.3 260h8v8h-8zM523.3 260h8v8h-8zM531.3 260h8v8h-8zM539.3 260h8v8h-8zM547.3 260h8v8h-8zM531.3 268h8v8h-8zM539.3 268h8v8h-8zM547.3 268h8v8h-8zM315.3 404h8v8h-8zM339.3 404h8v8h-8zM379.3 412h8v8h-8zM451.3 428h8v8h-8z" fill="#0e1527"/><path d="M371.3 220h8v8h-8zM395.3 220h8v8h-8zM435.3 220h8v8h-8zM371.3 228h8v8h-8zM347.3 236h8v8h-8zM355.3 236h8v8h-8zM371.3 236h8v8h-8zM451.3 236h8v8h-8zM315.3 244h8v8h-8zM459.3 244h8v8h-8zM467.3 244h8v8h-8zM267.3 252h8v8h-8zM275.3 252h8v8h-8zM475.3 252h8v8h-8zM491.3 260h8v8h-8zM507.3 260h8v8h-8zM515.3 260h8v8h-8zM507.3 268h8v8h-8zM515.3 268h8v8h-8zM523.3 268h8v8h-8zM507.3 276h8v8h-8zM515.3 276h8v8h-8zM523.3 276h8v8h-8zM531.3 276h8v8h-8zM539.3 276h8v8h-8zM547.3 276h8v8h-8zM539.3 284h8v8h-8zM547.3 284h8v8h-8zM331.3 428h8v8h-8z" fill="#10172a"/><path d="M323.3 244h8v8h-8zM331.3 244h8v8h-8zM347.3 244h8v8h-8zM355.3 244h8v8h-8zM363.3 244h8v8h-8zM283.3 252h8v8h-8zM291.3 252h8v8h-8zM299.3 252h8v8h-8zM307.3 252h8v8h-8zM467.3 252h8v8h-8zM267.3 260h8v8h-8zM275.3 260h8v8h-8zM283.3 260h8v8h-8zM291.3 260h8v8h-8zM475.3 260h8v8h-8zM483.3 260h8v8h-8zM491.3 268h8v8h-8zM499.3 268h8v8h-8zM507.3 284h8v8h-8zM515.3 284h8v8h-8zM523.3 284h8v8h-8zM531.3 284h8v8h-8zM515.3 292h8v8h-8zM523.3 292h8v8h-8zM531.3 292h8v8h-8zM539.3 292h8v8h-8zM547.3 292h8v8h-8zM523.3 300h8v8h-8zM283.3 380h8v8h-8zM267.3 388h8v8h-8zM275.3 388h8v8h-8zM283.3 388h8v8h-8zM291.3 388h8v8h-8zM299.3 396h8v8h-8z" fill="#11192c"/><path d="M379.3 220h8v8h-8zM387.3 220h8v8h-8zM379.3 228h8v8h-8zM379.3 236h8v8h-8zM339.3 244h8v8h-8zM371.3 244h8v8h-8zM315.3 252h8v8h-8zM323.3 252h8v8h-8zM331.3 252h8v8h-8zM339.3 252h8v8h-8zM347.3 252h8v8h-8zM355.3 252h8v8h-8zM299.3 260h8v8h-8zM307.3 260h8v8h-8zM315.3 260h8v8h-8zM323.3 260h8v8h-8zM267.3 268h8v8h-8zM275.3 268h8v8h-8zM283.3 268h8v8h-8zM291.3 268h8v8h-8zM483.3 268h8v8h-8zM499.3 276h8v8h-8zM507.3 292h8v8h-8zM515.3 300h8v8h-8zM531.3 300h8v8h-8zM539.3 300h8v8h-8zM547.3 300h8v8h-8zM267.3 380h8v8h-8zM275.3 380h8v8h-8zM291.3 380h8v8h-8zM347.3 404h8v8h-8zM507.3 412h8v8h-8zM515.3 412h8v8h-8zM523.3 412h8v8h-8zM419.3 420h8v8h-8zM507.3 420h8v8h-8zM515.3 420h8v8h-8zM523.3 420h8v8h-8z" fill="#121b2f"/><path d="M379.3 244h8v8h-8zM363.3 252h8v8h-8zM331.3 260h8v8h-8zM339.3 260h8v8h-8zM347.3 260h8v8h-8zM355.3 260h8v8h-8zM299.3 268h8v8h-8zM307.3 268h8v8h-8zM315.3 268h8v8h-8zM491.3 276h8v8h-8zM499.3 284h8v8h-8zM523.3 308h8v8h-8zM531.3 308h8v8h-8zM539.3 308h8v8h-8zM547.3 308h8v8h-8zM531.3 316h8v8h-8zM539.3 316h8v8h-8zM547.3 316h8v8h-8zM531.3 324h8v8h-8zM539.3 324h8v8h-8zM547.3 324h8v8h-8zM515.3 404h8v8h-8zM523.3 404h8v8h-8zM323.3 412h8v8h-8zM387.3 412h8v8h-8zM531.3 412h8v8h-8zM499.3 420h8v8h-8zM531.3 420h8v8h-8zM539.3 420h8v8h-8zM547.3 420h8v8h-8z" fill="#131c32"/><path d="M371.3 252h8v8h-8zM363.3 260h8v8h-8zM267.3 276h8v8h-8zM275.3 276h8v8h-8zM283.3 276h8v8h-8zM291.3 276h8v8h-8zM299.3 276h8v8h-8zM267.3 284h8v8h-8zM275.3 284h8v8h-8zM283.3 284h8v8h-8zM267.3 292h8v8h-8zM275.3 292h8v8h-8zM283.3 292h8v8h-8zM499.3 292h8v8h-8zM267.3 300h8v8h-8zM275.3 300h8v8h-8zM267.3 308h8v8h-8zM275.3 308h8v8h-8zM267.3 316h8v8h-8zM275.3 316h8v8h-8zM523.3 316h8v8h-8zM539.3 332h8v8h-8zM547.3 332h8v8h-8zM539.3 340h8v8h-8zM547.3 340h8v8h-8zM539.3 348h8v8h-8zM547.3 348h8v8h-8zM539.3 356h8v8h-8zM547.3 356h8v8h-8zM267.3 364h8v8h-8zM275.3 364h8v8h-8zM283.3 364h8v8h-8zM531.3 364h8v8h-8zM539.3 364h8v8h-8zM547.3 364h8v8h-8zM267.3 372h8v8h-8zM275.3 372h8v8h-8zM283.3 372h8v8h-8zM291.3 372h8v8h-8zM531.3 372h8v8h-8zM539.3 372h8v8h-8zM547.3 372h8v8h-8zM523.3 380h8v8h-8zM531.3 380h8v8h-8zM539.3 380h8v8h-8zM547.3 380h8v8h-8zM523.3 388h8v8h-8zM531.3 388h8v8h-8zM539.3 388h8v8h-8zM547.3 388h8v8h-8zM307.3 396h8v8h-8zM523.3 396h8v8h-8zM531.3 396h8v8h-8zM539.3 396h8v8h-8zM547.3 396h8v8h-8zM507.3 404h8v8h-8zM531.3 404h8v8h-8zM539.3 404h8v8h-8zM547.3 404h8v8h-8zM499.3 412h8v8h-8zM539.3 412h8v8h-8zM547.3 412h8v8h-8z" fill="#151e35"/><path d="M323.3 268h8v8h-8zM339.3 268h8v8h-8zM347.3 268h8v8h-8zM355.3 268h8v8h-8zM307.3 276h8v8h-8zM315.3 276h8v8h-8zM291.3 284h8v8h-8zM299.3 284h8v8h-8zM507.3 300h8v8h-8zM515.3 308h8v8h-8zM267.3 324h8v8h-8zM275.3 324h8v8h-8zM267.3 332h8v8h-8zM275.3 332h8v8h-8zM531.3 332h8v8h-8zM267.3 340h8v8h-8zM275.3 340h8v8h-8zM283.3 340h8v8h-8zM267.3 348h8v8h-8zM275.3 348h8v8h-8zM283.3 348h8v8h-8zM267.3 356h8v8h-8zM275.3 356h8v8h-8zM283.3 356h8v8h-8zM291.3 356h8v8h-8zM291.3 364h8v8h-8zM299.3 372h8v8h-8zM523.3 372h8v8h-8zM299.3 380h8v8h-8zM307.3 380h8v8h-8zM299.3 388h8v8h-8zM307.3 388h8v8h-8zM315.3 388h8v8h-8zM323.3 388h8v8h-8zM331.3 388h8v8h-8zM315.3 396h8v8h-8zM323.3 396h8v8h-8zM331.3 396h8v8h-8zM515.3 396h8v8h-8zM499.3 404h8v8h-8zM475.3 412h8v8h-8zM491.3 420h8v8h-8z" fill="#162037"/><path d="M331.3 268h8v8h-8zM323.3 276h8v8h-8zM307.3 284h8v8h-8zM291.3 292h8v8h-8zM283.3 300h8v8h-8zM283.3 308h8v8h-8zM523.3 324h8v8h-8zM531.3 340h8v8h-8zM291.3 348h8v8h-8zM531.3 348h8v8h-8zM531.3 356h8v8h-8zM299.3 364h8v8h-8zM307.3 372h8v8h-8zM315.3 380h8v8h-8zM323.3 380h8v8h-8zM515.3 380h8v8h-8zM499.3 388h8v8h-8zM507.3 388h8v8h-8zM515.3 388h8v8h-8zM339.3 396h8v8h-8zM499.3 396h8v8h-8zM507.3 396h8v8h-8zM475.3 404h8v8h-8zM467.3 412h8v8h-8zM483.3 412h8v8h-8zM491.3 412h8v8h-8zM427.3 420h8v8h-8zM467.3 420h8v8h-8zM475.3 420h8v8h-8zM483.3 420h8v8h-8z" fill="#17213a"/><path d="M331.3 276h8v8h-8zM315.3 284h8v8h-8zM299.3 292h8v8h-8zM507.3 308h8v8h-8zM283.3 316h8v8h-8zM515.3 316h8v8h-8zM283.3 332h8v8h-8zM291.3 340h8v8h-8zM299.3 356h8v8h-8zM523.3 364h8v8h-8zM339.3 388h8v8h-8zM491.3 396h8v8h-8zM355.3 404h8v8h-8zM467.3 404h8v8h-8zM483.3 404h8v8h-8zM491.3 404h8v8h-8zM459.3 412h8v8h-8zM459.3 420h8v8h-8z" fill="#18233d"/><path d="M499.3 300h8v8h-8zM283.3 324h8v8h-8zM299.3 348h8v8h-8zM307.3 356h8v8h-8zM307.3 364h8v8h-8zM315.3 372h8v8h-8zM515.3 372h8v8h-8zM331.3 380h8v8h-8zM507.3 380h8v8h-8zM347.3 396h8v8h-8zM435.3 404h8v8h-8zM395.3 412h8v8h-8zM427.3 412h8v8h-8zM435.3 412h8v8h-8zM443.3 412h8v8h-8zM451.3 412h8v8h-8zM435.3 420h8v8h-8zM443.3 420h8v8h-8zM451.3 420h8v8h-8z" fill="#1a2540"/><path d="M291.3 300h8v8h-8zM507.3 316h8v8h-8zM523.3 332h8v8h-8zM315.3 364h8v8h-8zM323.3 372h8v8h-8zM339.3 380h8v8h-8zM491.3 388h8v8h-8zM483.3 396h8v8h-8zM387.3 404h8v8h-8zM395.3 404h8v8h-8zM403.3 404h8v8h-8zM427.3 404h8v8h-8zM443.3 404h8v8h-8zM459.3 404h8v8h-8zM403.3 412h8v8h-8zM419.3 412h8v8h-8z" fill="#1b2742"/><path d="M291.3 308h8v8h-8zM291.3 332h8v8h-8zM299.3 340h8v8h-8zM307.3 348h8v8h-8zM323.3 364h8v8h-8zM331.3 372h8v8h-8zM347.3 380h8v8h-8zM499.3 380h8v8h-8zM347.3 388h8v8h-8zM355.3 396h8v8h-8zM363.3 396h8v8h-8zM475.3 396h8v8h-8zM363.3 404h8v8h-8zM371.3 404h8v8h-8zM451.3 404h8v8h-8zM411.3 412h8v8h-8z" fill="#1c2845"/><path d="M291.3 316h8v8h-8zM315.3 356h8v8h-8zM523.3 356h8v8h-8zM339.3 372h8v8h-8zM355.3 380h8v8h-8zM355.3 388h8v8h-8zM363.3 388h8v8h-8zM371.3 388h8v8h-8zM371.3 396h8v8h-8zM395.3 396h8v8h-8zM459.3 396h8v8h-8zM467.3 396h8v8h-8zM379.3 404h8v8h-8zM411.3 404h8v8h-8zM419.3 404h8v8h-8z" fill="#1d2a48"/><path d="M515.3 324h8v8h-8zM523.3 340h8v8h-8zM331.3 364h8v8h-8zM347.3 372h8v8h-8zM363.3 380h8v8h-8zM483.3 388h8v8h-8zM379.3 396h8v8h-8zM387.3 396h8v8h-8zM403.3 396h8v8h-8zM435.3 396h8v8h-8zM451.3 396h8v8h-8z" fill="#1f2c4b"/><path d="M523.3 348h8v8h-8zM515.3 364h8v8h-8zM507.3 372h8v8h-8zM371.3 380h8v8h-8zM379.3 388h8v8h-8zM411.3 396h8v8h-8zM427.3 396h8v8h-8zM443.3 396h8v8h-8z" fill="#202d4d"/><path d="M299.3 332h8v8h-8zM307.3 340h8v8h-8zM323.3 356h8v8h-8zM355.3 372h8v8h-8zM491.3 380h8v8h-8zM387.3 388h8v8h-8zM475.3 388h8v8h-8zM419.3 396h8v8h-8z" fill="#212f50"/><path d="M291.3 324h8v8h-8zM315.3 348h8v8h-8zM339.3 364h8v8h-8z" fill="#223153"/><path d="M307.3 332h8v8h-8zM515.3 332h8v8h-8zM315.3 340h8v8h-8zM323.3 348h8v8h-8zM331.3 356h8v8h-8zM339.3 356h8v8h-8zM347.3 364h8v8h-8zM355.3 364h8v8h-8zM363.3 364h8v8h-8zM363.3 372h8v8h-8zM371.3 372h8v8h-8zM379.3 372h8v8h-8zM499.3 372h8v8h-8zM379.3 380h8v8h-8zM387.3 380h8v8h-8zM395.3 380h8v8h-8zM475.3 380h8v8h-8zM483.3 380h8v8h-8zM395.3 388h8v8h-8zM403.3 388h8v8h-8zM411.3 388h8v8h-8zM419.3 388h8v8h-8zM427.3 388h8v8h-8zM435.3 388h8v8h-8zM443.3 388h8v8h-8zM451.3 388h8v8h-8zM459.3 388h8v8h-8zM467.3 388h8v8h-8z" fill="#243356"/></g><g filter="url(#bd1)" fill="none" stroke-linecap="round"><path d="M286.4 421.7h0M543.8 436h0" stroke="#28323c" stroke-width="2" stroke-opacity="0.6"/><path d="M536.7 433.4h0" stroke="#46505a" stroke-width="2" stroke-opacity="0.8"/><path d="M542 246.5h0" stroke="#465064" stroke-width="2" stroke-opacity="0.6"/><path d="M468.6 433h0M443.1 430.8h0" stroke="#465064" stroke-width="2" stroke-opacity="0.8"/><path d="M293.7 245.9h0" stroke="#465a6e" stroke-width="2" stroke-opacity="0.6"/><path d="M495.7 258.8h0" stroke="#465a6e" stroke-width="2" stroke-opacity="0.8"/><path d="M521.6 229.4h0" stroke="#465a6e" stroke-width="2"/><path d="M532.1 262.2h0" stroke="#505064" stroke-width="2" stroke-opacity="0.6"/><path d="M285.5 262.4h0" stroke="#505064" stroke-width="2" stroke-opacity="0.8"/><path d="M485.5 255.9h0M276.2 255.2h0" stroke="#505a6e" stroke-width="2" stroke-opacity="0.6"/><path d="M492.6 233.4h0M494.6 237.9h0M537.2 267.8h0M544.3 284h0" stroke="#505a6e" stroke-width="2" stroke-opacity="0.8"/><path d="M336.3 236h0" stroke="#505a6e" stroke-width="2"/><path d="M312.7 240.9h0M519 231.2h0" stroke="#505a78" stroke-width="2" stroke-opacity="0.8"/><path d="M457.4 432h0" stroke="#505a78" stroke-width="2"/><path d="M478.1 248.5h0" stroke="#506478" stroke-width="2" stroke-opacity="0.6"/><path d="M520.5 289.7h0" stroke="#506478" stroke-width="2" stroke-opacity="0.8"/><path d="M312.7 236.1h0" stroke="#506478" stroke-width="2"/><path d="M314 271.3h0" stroke="#5a5a78" stroke-width="2" stroke-opacity="0.6"/><path d="M539.8 432.4h0" stroke="#5a6478" stroke-width="2" stroke-opacity="0.6"/><path d="M485.5 269.4h0M521 242.8h0" stroke="#5a6478" stroke-width="2" stroke-opacity="0.8"/><path d="M477.7 257.8h0M480.9 259.4h0M515.9 417.2h0M497.8 429.5h0" stroke="#5a6482" stroke-width="2" stroke-opacity="0.6"/><path d="M514.5 227.7h0" stroke="#5a6482" stroke-width="2"/><path d="M336.1 426.1h0M501.1 422.4h0M485.3 261.2h0" stroke="#5a6e82" stroke-width="2" stroke-opacity="0.8"/><path d="M332.7 401.3h0" stroke="#5a6e8c" stroke-width="2" stroke-opacity="0.8"/><path d="M285.9 299.9h0M518.3 415.7h0" stroke="#646482" stroke-width="2" stroke-opacity="0.8"/><path d="M484.7 265.3h0M530.7 389.3h0M496.1 418.9h0" stroke="#646e82" stroke-width="2" stroke-opacity="0.6"/><path d="M514.2 243h0M539.1 417.7h0" stroke="#646e82" stroke-width="2" stroke-opacity="0.8"/><path d="M514.4 304.6h0M311.2 243.1h0M506.3 276.7h0M530.1 254.3h0M503.5 420.9h0" stroke="#646e8c" stroke-width="2" stroke-opacity="0.6"/><path d="M500.7 416.4h0M334.2 399.2h0M503.5 255.5h0" stroke="#646e8c" stroke-width="2" stroke-opacity="0.8"/><path d="M500.5 411.1h0M385.4 232.2h0M484.5 416h0M481.1 428.9h0M334.2 397.5h0M303.9 388.4h0M498.8 418.3h0" stroke="#64788c" stroke-width="2" stroke-opacity="0.6"/><path d="M539.4 426.2h0M499.2 255.2h0" stroke="#64788c" stroke-width="2" stroke-opacity="0.8"/><path d="M526.2 421.1h0" stroke="#647896" stroke-width="2" stroke-opacity="0.8"/><path d="M284 299.5h0M310.2 251.8h0" stroke="#6e788c" stroke-width="2" stroke-opacity="0.6"/><path d="M385.3 238.4h0M487 427h0" stroke="#6e788c" stroke-width="2" stroke-opacity="0.8"/><path d="M292.9 381h0M342.1 393.5h0M532.3 422.8h0M490.8 398.7h0M543.2 336.5h0M360.4 226.9h0" stroke="#6e7896" stroke-width="2" stroke-opacity="0.6"/><path d="M305.7 368.7h0M489 417h0" stroke="#6e7896" stroke-width="2" stroke-opacity="0.8"/><path d="M505 409h0" stroke="#6e7896" stroke-width="2"/><path d="M484.9 416.6h0M522.3 400.1h0M330.8 273.9h0" stroke="#6e8296" stroke-width="2" stroke-opacity="0.6"/><path d="M521.5 395.4h0M278.8 268.4h0" stroke="#6e8296" stroke-width="2" stroke-opacity="0.8"/><path d="M324 386.5h0M476.5 430.5h0M320.7 267.8h0" stroke="#6e82a0" stroke-width="2" stroke-opacity="0.6"/><path d="M468.6 430.5h0" stroke="#788296" stroke-width="2" stroke-opacity="0.6"/><path d="M278 351.7h0M320.2 397.5h0" stroke="#7882a0" stroke-width="2" stroke-opacity="0.6"/><path d="M526.6 270.5h0" stroke="#7882a0" stroke-width="2" stroke-opacity="0.8"/><path d="M519.1 401h0" stroke="#7882a0" stroke-width="2"/><path d="M528.2 317.2h0" stroke="#788ca0" stroke-width="2" stroke-opacity="0.6"/><path d="M512.6 403.3h0" stroke="#788ca0" stroke-width="2" stroke-opacity="0.8"/><path d="M283 315h0M524.1 382.1h0" stroke="#788ca0" stroke-width="2"/><path d="M528.7 325.9h0" stroke="#788caa" stroke-width="2" stroke-opacity="0.6"/><path d="M285 315.3h0M290.2 393.3h0" stroke="#788caa" stroke-width="2" stroke-opacity="0.8"/><path d="M372.6 260.8h0" stroke="#828ca0" stroke-width="2" stroke-opacity="0.6"/><path d="M525.2 376.4h0" stroke="#828ca0" stroke-width="2" stroke-opacity="0.8"/><path d="M517.5 394.4h0" stroke="#828ca0" stroke-width="2"/><path d="M283.4 348.5h0M334.3 267h0M375.7 403.9h0" stroke="#828caa" stroke-width="2" stroke-opacity="0.6"/><path d="M356.3 253.5h0M398.4 416.7h0M363 252.3h0M293.9 288.7h0M540.7 354.4h0M306.2 381.1h0M532.1 301.7h0M286.9 393.3h0" stroke="#828caa" stroke-width="2" stroke-opacity="0.8"/><path d="M374.1 394.5h0" stroke="#828caa" stroke-width="2"/><path d="M534.3 338.8h0M326.2 270.7h0M315.2 371.7h0" stroke="#8296aa" stroke-width="2" stroke-opacity="0.6"/><path d="M468.2 427.5h0M363.5 256.4h0M458.8 413.1h0M313.5 367.1h0M328 272.7h0" stroke="#8296aa" stroke-width="2" stroke-opacity="0.8"/><path d="M505.2 290.9h0" stroke="#8296b4" stroke-width="2" stroke-opacity="0.8"/><path d="M535 415.2h0" stroke="#8c8caa" stroke-width="2" stroke-opacity="0.6"/><path d="M461.5 422.6h0" stroke="#8c96aa" stroke-width="2" stroke-opacity="0.8"/><path d="M337.1 276.7h0M324.2 251.8h0" stroke="#8c96b4" stroke-width="2" stroke-opacity="0.6"/><path d="M431.5 415.4h0M288.5 274.7h0M460.9 422.2h0M380.6 408h0M371.9 260.2h0M291.7 293.5h0M345.1 403.7h0" stroke="#8c96b4" stroke-width="2" stroke-opacity="0.8"/><path d="M524.6 406.1h0M325.3 363.3h0M327.1 378.2h0" stroke="#8ca0b4" stroke-width="2" stroke-opacity="0.8"/><path d="M495.9 399.6h0" stroke="#8ca0b4" stroke-width="2"/><path d="M281.8 333.3h0M285.1 290.1h0M467.7 423.9h0M330.8 383.9h0" stroke="#8ca0be" stroke-width="2" stroke-opacity="0.6"/><path d="M287.4 365.4h0M339.1 374.5h0M330.9 275.5h0" stroke="#8ca0be" stroke-width="2" stroke-opacity="0.8"/><path d="M292.3 270.8h0" stroke="#9696b4" stroke-width="2" stroke-opacity="0.6"/><path d="M523.6 410.6h0" stroke="#96a0be" stroke-width="2" stroke-opacity="0.6"/><path d="M495.9 405.1h0M545.4 383.5h0M336.2 403.3h0M483.2 407.5h0M499 383h0M316.5 370.9h0" stroke="#96a0be" stroke-width="2" stroke-opacity="0.8"/><path d="M435 415.4h0" stroke="#96aac8" stroke-width="2" stroke-opacity="0.6"/><path d="M320.6 391.4h0M392.5 393.3h0" stroke="#96aac8" stroke-width="2" stroke-opacity="0.8"/><path d="M276.6 373.4h0" stroke="#96b4c8" stroke-width="2" stroke-opacity="0.8"/><path d="M536.3 417.9h0" stroke="#a0a0be" stroke-width="2" stroke-opacity="0.6"/><path d="M288 318.8h0M377.3 251.8h0M517.2 305.6h0M516.7 381.7h0M518.3 318.5h0M468.2 390.8h0" stroke="#a0aac8" stroke-width="2" stroke-opacity="0.8"/><path d="M363.2 376.6h0" stroke="#a0b4c8" stroke-width="2" stroke-opacity="0.6"/><path d="M530.3 343.3h0M366.3 391.1h0M327.9 273.4h0" stroke="#a0b4c8" stroke-width="2" stroke-opacity="0.8"/><path d="M430.4 401.9h0" stroke="#a0b4c8" stroke-width="2"/><path d="M507.6 382h0M505.9 305.3h0" stroke="#a0b4d2" stroke-width="2" stroke-opacity="0.6"/><path d="M500 421.2h0" stroke="#a0bedc" stroke-width="2" stroke-opacity="0.6"/><path d="M398.5 401.6h0" stroke="#aaaac8" stroke-width="2" stroke-opacity="0.6"/><path d="M522.8 388.6h0" stroke="#aab4c8" stroke-width="2" stroke-opacity="0.6"/><path d="M291 341.1h0" stroke="#aab4c8" stroke-width="2" stroke-opacity="0.8"/><path d="M504.1 420.3h0" stroke="#aab4c8" stroke-width="2"/><path d="M524.7 334.4h0M532.8 348.6h0M506.6 421.8h0M426.4 409.1h0M490 391.4h0M406.3 411.4h0M480.6 400.6h0" stroke="#aab4d2" stroke-width="2" stroke-opacity="0.6"/><path d="M505.7 387.1h0" stroke="#aab4d2" stroke-width="2" stroke-opacity="0.8"/><path d="M301.8 335.5h0" stroke="#aab4d2" stroke-width="2"/><path d="M498.2 396.1h0" stroke="#aabedc" stroke-width="2" stroke-opacity="0.6"/><path d="M501.8 420.4h0M487.3 404.4h0M538.5 425.6h0M286.8 339.9h0" stroke="#aabedc" stroke-width="2" stroke-opacity="0.8"/><path d="M447.1 390h0M547 383.5h0M504.5 392.3h0" stroke="#b4bedc" stroke-width="2" stroke-opacity="0.6"/><path d="M304 381.2h0M321.6 353h0M280.5 339.2h0" stroke="#b4bedc" stroke-width="2" stroke-opacity="0.8"/><path d="M341.7 376.9h0" stroke="#b4c8dc" stroke-width="2" stroke-opacity="0.6"/><path d="M399.9 416.2h0" stroke="#b4c8dc" stroke-width="2" stroke-opacity="0.8"/><path d="M528.2 343.7h0M441.4 418.8h0M352.6 407.1h0" stroke="#b4c8e6" stroke-width="2" stroke-opacity="0.8"/><path d="M436.2 400.6h0" stroke="#b4c8e6" stroke-width="2"/><path d="M527.6 333.5h0M348 373.4h0M486.9 387.1h0M488.1 389.7h0" stroke="#b4d2e6" stroke-width="2" stroke-opacity="0.8"/><path d="M369.9 401.8h0" stroke="#bec8dc" stroke-width="2"/><path d="M485.1 404.6h0M284 363.9h0M401.9 402.1h0M299.8 290.9h0" stroke="#bec8e6" stroke-width="2" stroke-opacity="0.6"/><path d="M317.8 386.2h0M498.3 395.2h0M471.7 426h0" stroke="#bec8e6" stroke-width="2" stroke-opacity="0.8"/><path d="M468.3 411.9h0" stroke="#bed2e6" stroke-width="2" stroke-opacity="0.6"/><path d="M332.8 277.2h0" stroke="#bed2e6" stroke-width="2" stroke-opacity="0.8"/><path d="M442.3 397h0" stroke="#bed2f0" stroke-width="2" stroke-opacity="0.6"/><path d="M395.7 397.1h0" stroke="#bedcf0" stroke-width="2" stroke-opacity="0.6"/><path d="M297.3 316.8h0M401.3 401.3h0" stroke="#bedcf0" stroke-width="2" stroke-opacity="0.8"/><path d="M381.1 400.5h0" stroke="#c8d2f0" stroke-width="2" stroke-opacity="0.8"/><path d="M312.9 284.2h0" stroke="#c8d2f0" stroke-width="2"/><path d="M478.8 403.8h0M492.7 402.6h0M327.3 365.8h0" stroke="#c8dcf0" stroke-width="2" stroke-opacity="0.6"/><path d="M349.8 373.7h0" stroke="#c8dcf0" stroke-width="2" stroke-opacity="0.8"/><path d="M301 343.6h0" stroke="#c8dcfa" stroke-width="2" stroke-opacity="0.8"/><path d="M499.4 393.1h0" stroke="#c8dcff" stroke-width="2" stroke-opacity="0.8"/><path d="M532.1 349.9h0M346.9 400.1h0M353.6 368h0M465.2 395h0" stroke="#c8e6ff" stroke-width="2" stroke-opacity="0.6"/><path d="M294.2 323.4h0M334.8 364.6h0" stroke="#c8e6ff" stroke-width="2" stroke-opacity="0.8"/><path d="M351.7 368.1h0M487.7 402.1h0" stroke="#c8f0ff" stroke-width="2" stroke-opacity="0.6"/><path d="M419.2 410h0" stroke="#c8f0ff" stroke-width="2" stroke-opacity="0.8"/><path d="M450 400.7h0" stroke="#d2dcf0" stroke-width="2" stroke-opacity="0.6"/><path d="M427.8 392.2h0M488.7 382.8h0" stroke="#d2dcf0" stroke-width="2" stroke-opacity="0.8"/><path d="M381.1 379.8h0" stroke="#d2dcfa" stroke-width="2" stroke-opacity="0.6"/><path d="M445.3 405h0" stroke="#d2dcff" stroke-width="2" stroke-opacity="0.8"/><path d="M358.7 394.2h0" stroke="#d2e6fa" stroke-width="2" stroke-opacity="0.8"/><path d="M362.6 366.9h0M357.9 371h0M409.1 418.1h0M433.4 418h0M458.4 390.4h0M335.2 363.4h0M514.9 372.2h0M400.3 400.1h0M400.8 410.9h0" stroke="#d2e6ff" stroke-width="2" stroke-opacity="0.6"/><path d="M342.2 366.2h0M502.9 396.2h0M431.1 394.9h0M394.7 391.1h0M481.5 395.7h0M361.2 394.2h0" stroke="#d2e6ff" stroke-width="2" stroke-opacity="0.8"/><path d="M527.6 334.6h0M370.2 406.8h0M386.5 396.7h0" stroke="#d2e6ff" stroke-width="2"/><path d="M461.1 395.1h0M432.2 388.9h0" stroke="#d2f0ff" stroke-width="2" stroke-opacity="0.6"/><path d="M365.7 396.1h0M498.8 381.7h0M398.9 391h0M523.2 360.8h0" stroke="#d2f0ff" stroke-width="2" stroke-opacity="0.8"/><path d="M304 344.2h0" stroke="#dcdcff" stroke-width="2" stroke-opacity="0.6"/><path d="M363.1 403.2h0" stroke="#dcdcff" stroke-width="2"/><path d="M347 396h0" stroke="#dce6fa" stroke-width="2" stroke-opacity="0.6"/><path d="M333.9 363.3h0M430.4 388.5h0M446.1 401.7h0M289.5 327.9h0M365 373h0" stroke="#dce6ff" stroke-width="2" stroke-opacity="0.6"/><path d="M452.9 400.4h0M293 321h0M387.2 391.6h0M289.9 320.6h0M463.9 391.4h0M463.8 395.3h0M515.8 377.1h0M469.2 400.2h0" stroke="#dce6ff" stroke-width="2" stroke-opacity="0.8"/><path d="M295.8 324h0M355.5 380.7h0M484.2 388.5h0" stroke="#dce6ff" stroke-width="2"/><path d="M351.7 371.7h0M486 397.9h0M301.8 343.6h0M358.6 379.7h0M398.4 407.1h0" stroke="#dcf0ff" stroke-width="2" stroke-opacity="0.6"/><path d="M529.4 346.4h0" stroke="#dcf0ff" stroke-width="2" stroke-opacity="0.8"/><path d="M399 413.4h0M374 392.4h0" stroke="#dcf0ff" stroke-width="2"/><path d="M286.6 334h0M523 276.8h0M296.4 320.3h0M320.8 347.3h0M283.4 254.9h0M462.4 406h0M457.2 412.8h0M355.3 378.1h0M443.8 390.3h0M415 408.4h0M478.5 400.8h0M306.4 344.2h0M394.4 392.2h0M394.3 396.6h0M524.1 258.6h0M338.9 368.4h0M511.9 235.2h0M444.1 388.5h0M424.4 389.6h0M457.3 239.1h0M481.8 424.8h0M415.5 418.3h0M472.6 387.5h0M345.2 364.7h0M440.8 428.4h0M526.7 376.5h0M367.8 410.4h0M456.5 388.4h0M508.5 295.5h0M542.6 359.4h0M316.4 379h0M480.4 387.1h0M431.3 404.8h0M413.9 418.1h0M544.3 363.1h0M358.9 383.1h0M521.5 415.4h0M537.3 393.5h0M455.6 401h0" stroke="#e6f0ff" stroke-width="2"/><path d="M384.6 437.5h0" stroke="#283246" stroke-width="2.5" stroke-opacity="0.8"/><path d="M535.8 433.7h0" stroke="#323c46" stroke-width="2.5" stroke-opacity="0.6"/><path d="M471.5 433.8h0" stroke="#323c50" stroke-width="2.5" stroke-opacity="0.8"/><path d="M495.5 433h0" stroke="#3c465a" stroke-width="2.5" stroke-opacity="0.6"/><path d="M474.5 433.2h0" stroke="#3c465a" stroke-width="2.5"/><path d="M524.2 238.3h0" stroke="#3c4664" stroke-width="2.5" stroke-opacity="0.6"/><path d="M544.7 255.5h0M469.4 432h0" stroke="#465064" stroke-width="2.5" stroke-opacity="0.6"/><path d="M523.2 227h0" stroke="#465064" stroke-width="2.5" stroke-opacity="0.8"/><path d="M542.1 282.3h0M442.8 429.6h0" stroke="#465a6e" stroke-width="2.5" stroke-opacity="0.6"/><path d="M315.4 243.3h0" stroke="#465a6e" stroke-width="2.5" stroke-opacity="0.8"/><path d="M493.5 238.7h0M288.2 231.1h0" stroke="#505064" stroke-width="2.5" stroke-opacity="0.6"/><path d="M520.8 231.7h0" stroke="#505064" stroke-width="2.5"/><path d="M336 233.7h0M358 243.9h0" stroke="#505a6e" stroke-width="2.5" stroke-opacity="0.6"/><path d="M357.8 411h0" stroke="#505a6e" stroke-width="2.5" stroke-opacity="0.8"/><path d="M331.6 237.6h0M461.9 235.8h0M516.7 262.4h0" stroke="#505a78" stroke-width="2.5" stroke-opacity="0.6"/><path d="M482.3 268.9h0M471.2 431.9h0M540.1 280.3h0M524.8 275.5h0" stroke="#505a78" stroke-width="2.5" stroke-opacity="0.8"/><path d="M475.8 254.4h0" stroke="#505a78" stroke-width="2.5"/><path d="M332.1 428.3h0M319.5 408.5h0" stroke="#506478" stroke-width="2.5" stroke-opacity="0.6"/><path d="M290.6 398.2h0" stroke="#506478" stroke-width="2.5" stroke-opacity="0.8"/><path d="M487.2 258.9h0M282.7 232.6h0" stroke="#506478" stroke-width="2.5"/><path d="M294.1 270.4h0M514 422.3h0M306.5 240.8h0" stroke="#5a6478" stroke-width="2.5" stroke-opacity="0.6"/><path d="M536.1 367.4h0M308 402.2h0M519.9 414h0M293.5 390.4h0" stroke="#5a6478" stroke-width="2.5" stroke-opacity="0.8"/><path d="M538.1 372.2h0" stroke="#5a6482" stroke-width="2.5" stroke-opacity="0.6"/><path d="M324.6 403.6h0" stroke="#5a6482" stroke-width="2.5"/><path d="M296.2 389h0" stroke="#5a6e82" stroke-width="2.5" stroke-opacity="0.6"/><path d="M519.1 259.3h0" stroke="#5a6e82" stroke-width="2.5" stroke-opacity="0.8"/><path d="M503.3 266.1h0" stroke="#5a6e8c" stroke-width="2.5" stroke-opacity="0.6"/><path d="M503.5 420.4h0M500.1 265.1h0" stroke="#646482" stroke-width="2.5" stroke-opacity="0.6"/><path d="M461.9 242.7h0M522.3 295h0M520 279.1h0" stroke="#646e82" stroke-width="2.5"/><path d="M506.4 254.6h0M277.6 369.1h0M476 262.3h0" stroke="#646e8c" stroke-width="2.5" stroke-opacity="0.6"/><path d="M523.1 306.6h0M540.1 271.5h0M531.2 398h0M359.3 232h0M280.4 364.4h0" stroke="#646e8c" stroke-width="2.5" stroke-opacity="0.8"/><path d="M314.7 232h0" stroke="#646e8c" stroke-width="2.5"/><path d="M503.1 409.4h0M536 381.9h0M278.9 270.7h0M520.2 266.3h0" stroke="#64788c" stroke-width="2.5" stroke-opacity="0.6"/><path d="M528.6 330.2h0M483.5 416.2h0M308.4 388.2h0M319.3 267.1h0" stroke="#64788c" stroke-width="2.5" stroke-opacity="0.8"/><path d="M339.9 393.3h0M516.6 414h0M324.4 278.4h0" stroke="#64788c" stroke-width="2.5"/><path d="M322.9 399.2h0" stroke="#647896" stroke-width="2.5" stroke-opacity="0.6"/><path d="M533.8 407h0" stroke="#647896" stroke-width="2.5" stroke-opacity="0.8"/><path d="M279.4 272h0" stroke="#6e788c" stroke-width="2.5" stroke-opacity="0.6"/><path d="M542.8 426h0" stroke="#6e788c" stroke-width="2.5" stroke-opacity="0.8"/><path d="M522 268.9h0M485.9 264h0M495.6 426h0" stroke="#6e7896" stroke-width="2.5" stroke-opacity="0.6"/><path d="M517.9 403.4h0M305.3 368h0M526.2 396.5h0M413.9 421.3h0M320.8 281.3h0" stroke="#6e7896" stroke-width="2.5" stroke-opacity="0.8"/><path d="M504.5 410.5h0" stroke="#6e8296" stroke-width="2.5" stroke-opacity="0.6"/><path d="M523.6 298.6h0M534.7 337.5h0M529.9 303.7h0" stroke="#6e8296" stroke-width="2.5" stroke-opacity="0.8"/><path d="M533.8 295.4h0M281.1 315.7h0" stroke="#6e82a0" stroke-width="2.5" stroke-opacity="0.8"/><path d="M321 397.6h0" stroke="#787896" stroke-width="2.5" stroke-opacity="0.8"/><path d="M378.4 414.7h0" stroke="#788296" stroke-width="2.5" stroke-opacity="0.6"/><path d="M532.2 421.6h0M537 414.4h0" stroke="#788296" stroke-width="2.5" stroke-opacity="0.8"/><path d="M354.9 252h0M354.7 245.8h0M476.6 412.7h0M297.4 296.9h0M301.4 369.7h0" stroke="#7882a0" stroke-width="2.5" stroke-opacity="0.6"/><path d="M472.3 420.5h0M508.2 411.2h0M326.9 392.9h0" stroke="#7882a0" stroke-width="2.5" stroke-opacity="0.8"/><path d="M298.7 263.7h0" stroke="#7882a0" stroke-width="2.5"/><path d="M318.9 258.1h0M308.3 400.9h0M314.9 390.2h0M463.4 400.1h0M321.1 281.6h0" stroke="#788ca0" stroke-width="2.5" stroke-opacity="0.6"/><path d="M294 269.2h0M502.4 408.7h0M407.1 415.4h0M360.9 270h0" stroke="#788ca0" stroke-width="2.5" stroke-opacity="0.8"/><path d="M285.1 372.3h0M513.3 418.1h0M301.7 384.2h0" stroke="#788caa" stroke-width="2.5" stroke-opacity="0.6"/><path d="M518.1 296.1h0M321.9 406.5h0M508.2 291.3h0" stroke="#788caa" stroke-width="2.5" stroke-opacity="0.8"/><path d="M335.4 374.5h0" stroke="#828ca0" stroke-width="2.5" stroke-opacity="0.8"/><path d="M396.4 407.8h0M314 273.6h0" stroke="#828caa" stroke-width="2.5" stroke-opacity="0.6"/><path d="M351.8 409.4h0M292.6 374.5h0M335.3 259.5h0" stroke="#828caa" stroke-width="2.5" stroke-opacity="0.8"/><path d="M300 338.4h0" stroke="#828caa" stroke-width="2.5"/><path d="M514.7 410.7h0M529.5 309h0" stroke="#828cb4" stroke-width="2.5" stroke-opacity="0.8"/><path d="M322.9 251.7h0" stroke="#8296aa" stroke-width="2.5" stroke-opacity="0.8"/><path d="M290.6 273.5h0M511.8 394.6h0M389.3 408.8h0" stroke="#8296b4" stroke-width="2.5" stroke-opacity="0.6"/><path d="M518.7 303.5h0M512.5 408.5h0M475.3 418.5h0M289.9 396.3h0M499.7 387.5h0M463.9 396h0" stroke="#8296b4" stroke-width="2.5" stroke-opacity="0.8"/><path d="M537.1 321.4h0" stroke="#8296b4" stroke-width="2.5"/><path d="M438.5 406.8h0M515.4 397.9h0" stroke="#82a0b4" stroke-width="2.5" stroke-opacity="0.6"/><path d="M424.5 420.3h0M471.2 397.9h0" stroke="#82a0b4" stroke-width="2.5" stroke-opacity="0.8"/><path d="M508 290.6h0" stroke="#8c8caa" stroke-width="2.5" stroke-opacity="0.6"/><path d="M367.9 411.5h0" stroke="#8c8cb4" stroke-width="2.5"/><path d="M526.2 416h0" stroke="#8c96aa" stroke-width="2.5" stroke-opacity="0.8"/><path d="M526 418.7h0M460.5 405.2h0M330.5 279.3h0M530.5 389.8h0M511.1 309h0" stroke="#8c96b4" stroke-width="2.5" stroke-opacity="0.6"/><path d="M367.9 255.6h0M337.2 259.3h0M330.8 424.4h0" stroke="#8c96b4" stroke-width="2.5" stroke-opacity="0.8"/><path d="M325.2 387.5h0" stroke="#8c96b4" stroke-width="2.5"/><path d="M456.3 423.2h0" stroke="#8ca0b4" stroke-width="2.5" stroke-opacity="0.6"/><path d="M312.3 286.8h0" stroke="#8ca0b4" stroke-width="2.5" stroke-opacity="0.8"/><path d="M457 429.2h0M300 306.8h0M530.6 342.4h0M283.4 341.5h0" stroke="#8ca0be" stroke-width="2.5" stroke-opacity="0.6"/><path d="M456.3 410.9h0" stroke="#8ca0be" stroke-width="2.5" stroke-opacity="0.8"/><path d="M536.5 395.7h0" stroke="#8ca0be" stroke-width="2.5"/><path d="M528.2 379.3h0M532.2 347.6h0" stroke="#8caabe" stroke-width="2.5" stroke-opacity="0.6"/><path d="M372.7 409.3h0M292.3 362.7h0" stroke="#9696b4" stroke-width="2.5" stroke-opacity="0.8"/><path d="M309.4 281.2h0" stroke="#96a0b4" stroke-width="2.5" stroke-opacity="0.6"/><path d="M376.1 398.8h0M371.5 262.4h0M456.1 395.1h0M362.1 249.3h0M286.8 286.5h0" stroke="#96a0be" stroke-width="2.5" stroke-opacity="0.6"/><path d="M293.1 333.2h0M528.6 344.3h0" stroke="#96a0be" stroke-width="2.5" stroke-opacity="0.8"/><path d="M312.4 283.5h0" stroke="#96a0be" stroke-width="2.5"/><path d="M361.6 371.3h0" stroke="#96aabe" stroke-width="2.5" stroke-opacity="0.6"/><path d="M376.6 403.8h0M290.6 320.4h0M541.3 408.7h0" stroke="#96aabe" stroke-width="2.5" stroke-opacity="0.8"/><path d="M398.6 397.9h0M538.6 406.2h0M289.2 286.3h0" stroke="#96aac8" stroke-width="2.5" stroke-opacity="0.6"/><path d="M469.8 413.5h0" stroke="#96aac8" stroke-width="2.5" stroke-opacity="0.8"/><path d="M290.4 361.4h0" stroke="#a0a0be" stroke-width="2.5" stroke-opacity="0.8"/><path d="M373.5 257.3h0" stroke="#a0a0c8" stroke-width="2.5"/><path d="M392.6 403.3h0M533.2 380.8h0M320.7 392.5h0M295.9 391.4h0M387.8 384.4h0" stroke="#a0aac8" stroke-width="2.5" stroke-opacity="0.6"/><path d="M322.4 387h0M321.7 392h0M374.5 259.5h0" stroke="#a0aac8" stroke-width="2.5" stroke-opacity="0.8"/><path d="M532.6 307.3h0" stroke="#a0aac8" stroke-width="2.5"/><path d="M300 295.2h0M498.5 416.3h0" stroke="#a0b4c8" stroke-width="2.5" stroke-opacity="0.6"/><path d="M447.5 410.9h0" stroke="#a0b4c8" stroke-width="2.5" stroke-opacity="0.8"/><path d="M348.6 405.7h0" stroke="#a0b4c8" stroke-width="2.5"/><path d="M478 427.3h0" stroke="#a0b4d2" stroke-width="2.5" stroke-opacity="0.6"/><path d="M491.1 390.8h0" stroke="#a0b4d2" stroke-width="2.5" stroke-opacity="0.8"/><path d="M426.1 407.3h0" stroke="#a0bed2" stroke-width="2.5" stroke-opacity="0.8"/><path d="M432.1 410h0" stroke="#aab4c8" stroke-width="2.5"/><path d="M538.1 357.4h0M500.4 389.3h0M303.8 342.7h0" stroke="#aab4d2" stroke-width="2.5" stroke-opacity="0.6"/><path d="M303.9 385.9h0" stroke="#aab4d2" stroke-width="2.5"/><path d="M336.2 366h0" stroke="#aab4dc" stroke-width="2.5" stroke-opacity="0.6"/><path d="M309.1 290.2h0" stroke="#aabedc" stroke-width="2.5" stroke-opacity="0.6"/><path d="M284.9 328.6h0M527.7 336.9h0M420.8 393.9h0" stroke="#aabedc" stroke-width="2.5" stroke-opacity="0.8"/><path d="M340.3 402.6h0" stroke="#aac8dc" stroke-width="2.5" stroke-opacity="0.8"/><path d="M294 312.7h0" stroke="#b4b4d2" stroke-width="2.5" stroke-opacity="0.8"/><path d="M485 402.1h0M447.2 402.1h0M422.4 392.9h0M296.2 332.2h0" stroke="#b4bedc" stroke-width="2.5" stroke-opacity="0.8"/><path d="M413.6 407.4h0" stroke="#b4bedc" stroke-width="2.5"/><path d="M287.7 370.5h0" stroke="#b4c8dc" stroke-width="2.5" stroke-opacity="0.8"/><path d="M447.5 420.3h0M542.2 394.5h0" stroke="#b4c8e6" stroke-width="2.5" stroke-opacity="0.6"/><path d="M340.5 270.3h0M423.1 411.4h0" stroke="#b4c8e6" stroke-width="2.5" stroke-opacity="0.8"/><path d="M492.7 423.3h0" stroke="#b4d2e6" stroke-width="2.5" stroke-opacity="0.6"/><path d="M418.3 394.2h0M451.2 403.1h0" stroke="#bec8e6" stroke-width="2.5" stroke-opacity="0.6"/><path d="M325.8 378.1h0M489.1 380.6h0M376.2 396.4h0" stroke="#bec8e6" stroke-width="2.5" stroke-opacity="0.8"/><path d="M350.7 400.6h0M320.3 363.1h0" stroke="#bed2e6" stroke-width="2.5" stroke-opacity="0.8"/><path d="M362.5 270.9h0M401 387.7h0" stroke="#bedcf0" stroke-width="2.5" stroke-opacity="0.6"/><path d="M336.8 364.6h0" stroke="#c8c8f0" stroke-width="2.5" stroke-opacity="0.8"/><path d="M367.4 395.9h0" stroke="#c8d2e6" stroke-width="2.5" stroke-opacity="0.6"/><path d="M439.7 424.8h0" stroke="#c8d2f0" stroke-width="2.5" stroke-opacity="0.6"/><path d="M447.5 416.4h0" stroke="#c8d2f0" stroke-width="2.5" stroke-opacity="0.8"/><path d="M503.3 379.2h0M280.2 322.2h0M390.6 401.6h0" stroke="#c8dcf0" stroke-width="2.5" stroke-opacity="0.6"/><path d="M440.7 388.5h0" stroke="#c8dcf0" stroke-width="2.5" stroke-opacity="0.8"/><path d="M405.4 401.6h0" stroke="#c8dcfa" stroke-width="2.5" stroke-opacity="0.8"/><path d="M470.4 411h0M367.4 391.3h0" stroke="#c8e6fa" stroke-width="2.5" stroke-opacity="0.6"/><path d="M514.8 318.5h0M314.3 366.6h0" stroke="#c8e6fa" stroke-width="2.5" stroke-opacity="0.8"/><path d="M448.4 394.2h0M515 372.4h0M372.6 379.2h0" stroke="#c8e6ff" stroke-width="2.5" stroke-opacity="0.6"/><path d="M348.4 374.3h0M347.6 361.9h0" stroke="#c8e6ff" stroke-width="2.5" stroke-opacity="0.8"/><path d="M355.5 396.4h0M286.9 332.8h0" stroke="#c8e6ff" stroke-width="2.5"/><path d="M519.7 367.6h0M302.9 341.2h0M317.6 351.4h0M367.6 388.7h0" stroke="#c8f0ff" stroke-width="2.5" stroke-opacity="0.8"/><path d="M517.1 327.5h0M329.2 376.2h0" stroke="#d2dcff" stroke-width="2.5" stroke-opacity="0.6"/><path d="M384.2 388.4h0M527.4 335.4h0" stroke="#d2dcff" stroke-width="2.5" stroke-opacity="0.8"/><path d="M490.4 383.8h0M341.9 386.7h0" stroke="#d2e6fa" stroke-width="2.5" stroke-opacity="0.6"/><path d="M530.7 353.9h0" stroke="#d2e6fa" stroke-width="2.5"/><path d="M413.5 399.3h0M334 359.1h0M370.5 393.3h0M308.1 338.1h0M443 412.2h0M413.4 416.8h0M469 398.3h0" stroke="#d2e6ff" stroke-width="2.5" stroke-opacity="0.6"/><path d="M508.1 384.4h0M364.4 401.1h0M365 398.8h0M324.4 279.3h0M400.5 397.2h0M406.2 412.7h0" stroke="#d2e6ff" stroke-width="2.5" stroke-opacity="0.8"/><path d="M482.5 405.3h0M292.1 330h0M377.6 379.5h0" stroke="#d2e6ff" stroke-width="2.5"/><path d="M485.5 398.1h0M486.1 400.6h0M354.7 371.5h0M481.6 392.6h0M311.9 350.4h0" stroke="#d2f0ff" stroke-width="2.5" stroke-opacity="0.6"/><path d="M403.6 413.9h0" stroke="#d2f0ff" stroke-width="2.5" stroke-opacity="0.8"/><path d="M382.6 386.7h0" stroke="#d2f0ff" stroke-width="2.5"/><path d="M451.9 417.1h0" stroke="#dcdcfa" stroke-width="2.5" stroke-opacity="0.6"/><path d="M496.3 398.3h0" stroke="#dce6fa" stroke-width="2.5" stroke-opacity="0.6"/><path d="M305.5 346.9h0M523.4 329.8h0" stroke="#dce6ff" stroke-width="2.5" stroke-opacity="0.6"/><path d="M372 386.2h0M430.6 391.7h0M451.1 402.3h0M519.6 324.7h0M373.4 399h0M290.5 331.5h0M498.8 381.9h0M436.6 396.4h0M358.9 393.8h0" stroke="#dce6ff" stroke-width="2.5" stroke-opacity="0.8"/><path d="M317.4 386h0M421.2 413.4h0M361.4 375.5h0M490 412.2h0" stroke="#dce6ff" stroke-width="2.5"/><path d="M368.5 408.4h0M527.9 354.2h0" stroke="#dcf0ff" stroke-width="2.5" stroke-opacity="0.6"/><path d="M405.9 387.3h0M489.2 384.8h0M400.2 411.3h0" stroke="#dcf0ff" stroke-width="2.5" stroke-opacity="0.8"/><path d="M383.7 389.7h0M419.6 411.4h0" stroke="#dcf0ff" stroke-width="2.5"/><path d="M369.3 385.3h0M448.2 400.5h0M365.6 390.8h0M333.1 355.3h0M403.9 388.7h0M398 412.6h0M396 414.2h0M543.1 423.5h0M532.1 376.6h0M322.9 363.5h0M450.8 416h0M447.4 406.7h0M527.6 356.3h0M351.1 250h0M398.4 413.9h0M367.7 397h0M525.6 407.9h0M365.9 400.9h0M309.3 238h0M296 328.9h0M498.4 411.3h0M540.2 393h0M318.3 349.8h0M304.6 332.2h0M528.3 398.8h0M297.1 376h0M453.7 397.4h0M487.5 380.8h0M536.2 290.6h0M302.1 263.5h0M285.5 303.9h0M309.9 349.9h0M317.6 385.8h0M322.5 382.5h0M515 253.5h0M528.1 348.4h0M481.5 391.8h0M511.6 381.3h0M524.6 267.8h0M521 319.4h0M422.3 410.3h0M455.1 391.7h0M401.5 414.4h0M425.5 417.6h0M471.6 405.6h0M359.2 372.6h0M324.4 254.7h0M471.5 390h0M320.9 274.6h0M440.4 407.1h0M374.6 258.6h0M304.5 343.8h0M497.7 419.2h0M516 404.7h0M502.3 409.2h0M293.6 316.4h0M291.8 253.8h0M290.1 256.7h0M332.7 370h0M300.2 370.2h0M303 340.8h0M392.1 394h0M551.1 409h0M379.6 393h0M317.2 350.9h0M399 406.5h0M421.9 400.5h0M456.9 397.5h0M478.5 393.4h0M284.3 271.1h0M529.6 315.8h0M397 396.8h0M526.4 349.3h0M288.7 365.6h0M352.6 367.2h0M349.1 364.1h0M376.8 387.4h0M492 395.6h0M488.2 392.4h0M432.6 417.2h0" stroke="#e6f0ff" stroke-width="2.5"/><path d="M294.3 419.3h0" stroke="#28323c" stroke-width="3" stroke-opacity="0.6"/><path d="M288.7 423h0M488.8 437.1h0" stroke="#283246" stroke-width="3" stroke-opacity="0.6"/><path d="M536.6 435.2h0M443.8 432.5h0" stroke="#283246" stroke-width="3" stroke-opacity="0.8"/><path d="M381.6 439.1h0" stroke="#323246" stroke-width="3" stroke-opacity="0.6"/><path d="M382.1 438h0" stroke="#323246" stroke-width="3"/><path d="M284.9 393.8h0M531.2 264.8h0" stroke="#465064" stroke-width="3" stroke-opacity="0.8"/><path d="M546.9 251h0" stroke="#465064" stroke-width="3"/><path d="M524.5 254.9h0" stroke="#46506e" stroke-width="3" stroke-opacity="0.8"/><path d="M284.8 395.1h0" stroke="#465a6e" stroke-width="3"/><path d="M290.5 233.4h0" stroke="#50506e" stroke-width="3" stroke-opacity="0.8"/><path d="M522.9 255.4h0" stroke="#50506e" stroke-width="3"/><path d="M482.9 254.7h0M519.5 253.6h0" stroke="#505a6e" stroke-width="3" stroke-opacity="0.6"/><path d="M483.7 260.1h0" stroke="#505a6e" stroke-width="3" stroke-opacity="0.8"/><path d="M455.7 235.4h0M496.1 240.8h0M520 233.8h0M287.2 236h0" stroke="#505a6e" stroke-width="3"/><path d="M479.6 253.7h0M290.5 391.7h0M464.3 247.1h0" stroke="#505a78" stroke-width="3" stroke-opacity="0.6"/><path d="M273.1 256.5h0M521.9 298.7h0" stroke="#506478" stroke-width="3" stroke-opacity="0.6"/><path d="M295.6 399.9h0M541.6 269.4h0M488.5 245.2h0M460.4 236.6h0M495.9 243.6h0" stroke="#506478" stroke-width="3" stroke-opacity="0.8"/><path d="M357.7 242h0" stroke="#5a5a78" stroke-width="3" stroke-opacity="0.8"/><path d="M527.9 302.9h0M313 237.7h0M493.4 243.9h0M472 256h0M309.1 242.6h0" stroke="#5a6478" stroke-width="3" stroke-opacity="0.6"/><path d="M522.8 289.9h0M488.6 265.4h0" stroke="#5a6478" stroke-width="3" stroke-opacity="0.8"/><path d="M519.9 416.6h0" stroke="#5a6482" stroke-width="3" stroke-opacity="0.6"/><path d="M347.9 409.1h0M309.8 242.9h0M306.2 256.5h0" stroke="#5a6482" stroke-width="3" stroke-opacity="0.8"/><path d="M286.9 261.9h0" stroke="#5a6e82" stroke-width="3" stroke-opacity="0.6"/><path d="M323 386.8h0" stroke="#5a6e82" stroke-width="3" stroke-opacity="0.8"/><path d="M486.5 264.4h0" stroke="#5a6e8c" stroke-width="3" stroke-opacity="0.6"/><path d="M517.9 417.3h0" stroke="#646482" stroke-width="3" stroke-opacity="0.8"/><path d="M513.2 265.1h0M311.3 231.3h0M530.9 315.1h0" stroke="#646e82" stroke-width="3" stroke-opacity="0.6"/><path d="M358.9 233.4h0" stroke="#646e82" stroke-width="3" stroke-opacity="0.8"/><path d="M489.2 265.8h0" stroke="#646e82" stroke-width="3"/><path d="M498.1 418.3h0M501.7 416.8h0M547.7 410.7h0M515.7 278.2h0" stroke="#646e8c" stroke-width="3" stroke-opacity="0.6"/><path d="M488.2 266.1h0M358.1 269.4h0M505.5 254.5h0M547 412.3h0" stroke="#646e8c" stroke-width="3" stroke-opacity="0.8"/><path d="M385.8 414.4h0" stroke="#646e8c" stroke-width="3"/><path d="M537.9 424.7h0M284.8 350.1h0M532.2 411.9h0M308.8 382.9h0" stroke="#64788c" stroke-width="3" stroke-opacity="0.6"/><path d="M521.1 257.9h0M542.7 421.5h0M516.4 426.2h0M495.7 421.1h0M531.3 323.3h0" stroke="#64788c" stroke-width="3" stroke-opacity="0.8"/><path d="M310.4 268.3h0" stroke="#647896" stroke-width="3" stroke-opacity="0.6"/><path d="M319.4 389.2h0" stroke="#6e788c" stroke-width="3" stroke-opacity="0.8"/><path d="M285.2 367.2h0M285.1 354.7h0M296.1 373.3h0M529.3 272h0M494.4 422h0M303.6 391.8h0M530.8 322.9h0" stroke="#6e7896" stroke-width="3" stroke-opacity="0.6"/><path d="M500 412.4h0M515.5 399.2h0M541.1 310.9h0" stroke="#6e7896" stroke-width="3" stroke-opacity="0.8"/><path d="M281.8 350.9h0M523.8 398.9h0M537.7 339.1h0M520.8 424.7h0" stroke="#6e8296" stroke-width="3" stroke-opacity="0.8"/><path d="M298.1 383.4h0" stroke="#6e82a0" stroke-width="3" stroke-opacity="0.6"/><path d="M282.9 353.9h0M323.2 256.6h0" stroke="#6e82a0" stroke-width="3"/><path d="M300.4 298.4h0" stroke="#788296" stroke-width="3" stroke-opacity="0.6"/><path d="M304.5 387.6h0M481.4 423.2h0" stroke="#788296" stroke-width="3" stroke-opacity="0.8"/><path d="M535 426.7h0M460.4 410.1h0M520.1 269.2h0M536 257.5h0M530.9 333.2h0M521.8 277.1h0" stroke="#7882a0" stroke-width="3" stroke-opacity="0.6"/><path d="M484.4 270.9h0M537.1 412.6h0M322.1 271.7h0M301.1 360.1h0" stroke="#7882a0" stroke-width="3" stroke-opacity="0.8"/><path d="M294.9 289.1h0M485.3 424.5h0M322.6 410.7h0M530.4 375.7h0M401.6 418.1h0" stroke="#788ca0" stroke-width="3" stroke-opacity="0.6"/><path d="M431.9 409.4h0M360.8 271.9h0M424 418.2h0M308 252.7h0" stroke="#788ca0" stroke-width="3" stroke-opacity="0.8"/><path d="M512.3 391.7h0" stroke="#788ca0" stroke-width="3"/><path d="M464.8 424.2h0" stroke="#788caa" stroke-width="3" stroke-opacity="0.6"/><path d="M544.1 361.7h0" stroke="#788caa" stroke-width="3" stroke-opacity="0.8"/><path d="M333.2 371.2h0" stroke="#828ca0" stroke-width="3" stroke-opacity="0.6"/><path d="M357.7 251.5h0M342.8 372.8h0M329.7 369h0M472.1 408.8h0M519.5 420.2h0" stroke="#828caa" stroke-width="3" stroke-opacity="0.6"/><path d="M502.4 406.7h0M492.2 403.3h0" stroke="#828caa" stroke-width="3" stroke-opacity="0.8"/><path d="M284.8 255.5h0" stroke="#828caa" stroke-width="3"/><path d="M361.9 403.3h0M467.1 395h0" stroke="#8296aa" stroke-width="3" stroke-opacity="0.6"/><path d="M355.6 249.9h0" stroke="#8296aa" stroke-width="3" stroke-opacity="0.8"/><path d="M514.2 397.3h0" stroke="#8296aa" stroke-width="3"/><path d="M283.3 351.7h0M519.5 396.3h0M332.6 372.9h0" stroke="#8296b4" stroke-width="3" stroke-opacity="0.6"/><path d="M301.2 357.4h0" stroke="#8296b4" stroke-width="3" stroke-opacity="0.8"/><path d="M318.4 392.8h0" stroke="#82a0b4" stroke-width="3" stroke-opacity="0.6"/><path d="M495.4 275.3h0" stroke="#8c8caa" stroke-width="3" stroke-opacity="0.6"/><path d="M309.2 275.5h0" stroke="#8c8caa" stroke-width="3" stroke-opacity="0.8"/><path d="M512.8 397.4h0" stroke="#8c96aa" stroke-width="3"/><path d="M288 344.7h0M391.7 402h0M295.9 290.8h0M449.1 414.2h0M403 413.6h0M534.1 399.2h0" stroke="#8c96b4" stroke-width="3" stroke-opacity="0.6"/><path d="M399.8 400.8h0M531 420.5h0M529.5 338.8h0M457.4 397.2h0M522.2 391.8h0M545.2 301.7h0M461.4 426.7h0M295 265.4h0M543.3 422.1h0M480.4 408.2h0" stroke="#8c96b4" stroke-width="3" stroke-opacity="0.8"/><path d="M463.7 400.2h0" stroke="#8c96b4" stroke-width="3"/><path d="M534.3 392.3h0" stroke="#8ca0b4" stroke-width="3" stroke-opacity="0.6"/><path d="M284 351.8h0M506.2 298h0M362.6 251.7h0" stroke="#8ca0b4" stroke-width="3" stroke-opacity="0.8"/><path d="M535.4 296.3h0" stroke="#8ca0b4" stroke-width="3"/><path d="M366.2 399.2h0" stroke="#8ca0be" stroke-width="3" stroke-opacity="0.6"/><path d="M501.8 412.4h0" stroke="#8ca0be" stroke-width="3" stroke-opacity="0.8"/><path d="M282.8 290.1h0" stroke="#8ca0be" stroke-width="3"/><path d="M468.2 419.4h0" stroke="#8caabe" stroke-width="3" stroke-opacity="0.6"/><path d="M527.2 325.1h0M332.4 371.8h0" stroke="#8caabe" stroke-width="3" stroke-opacity="0.8"/><path d="M276.1 342h0M431.7 398.7h0M476.4 422.7h0" stroke="#96a0be" stroke-width="3" stroke-opacity="0.6"/><path d="M314.5 374.8h0M480.2 400.8h0" stroke="#96a0be" stroke-width="3" stroke-opacity="0.8"/><path d="M538.4 417.1h0" stroke="#96aabe" stroke-width="3" stroke-opacity="0.6"/><path d="M463.4 425h0M472.2 417.2h0" stroke="#96aabe" stroke-width="3" stroke-opacity="0.8"/><path d="M331.1 368.1h0" stroke="#96aac8" stroke-width="3" stroke-opacity="0.6"/><path d="M383.5 398.2h0M536.8 388.7h0M341.6 276h0M405.8 417.9h0" stroke="#96aac8" stroke-width="3" stroke-opacity="0.8"/><path d="M318 356h0" stroke="#96b4c8" stroke-width="3" stroke-opacity="0.6"/><path d="M498.5 415.2h0" stroke="#a0a0be" stroke-width="3"/><path d="M545.1 416.3h0M540 397.4h0" stroke="#a0aac8" stroke-width="3" stroke-opacity="0.6"/><path d="M330.1 270h0M545.9 356.7h0" stroke="#a0aac8" stroke-width="3" stroke-opacity="0.8"/><path d="M288.9 351.2h0" stroke="#a0aac8" stroke-width="3"/><path d="M427.6 418h0M286.1 369.9h0M493.4 398.6h0" stroke="#a0b4c8" stroke-width="3" stroke-opacity="0.6"/><path d="M432.4 401.8h0M513.1 308.3h0M301.7 298.5h0" stroke="#a0b4c8" stroke-width="3" stroke-opacity="0.8"/><path d="M468 415.3h0M386.7 408.3h0M447.5 397.1h0M486.6 426.5h0M324.3 380.9h0" stroke="#a0b4d2" stroke-width="3" stroke-opacity="0.6"/><path d="M323.1 386.2h0M350.7 374.8h0" stroke="#a0b4d2" stroke-width="3" stroke-opacity="0.8"/><path d="M532 349.3h0" stroke="#a0bed2" stroke-width="3" stroke-opacity="0.6"/><path d="M279.6 344.2h0M285.1 347.1h0" stroke="#a0bed2" stroke-width="3" stroke-opacity="0.8"/><path d="M309 293h0" stroke="#aaaac8" stroke-width="3" stroke-opacity="0.6"/><path d="M398.1 416.7h0M525.9 375.5h0M320.3 275.4h0" stroke="#aab4d2" stroke-width="3" stroke-opacity="0.6"/><path d="M306.4 387.1h0M436.4 401.7h0" stroke="#aab4d2" stroke-width="3" stroke-opacity="0.8"/><path d="M289.2 367h0" stroke="#aab4d2" stroke-width="3"/><path d="M362.6 269.6h0M385.1 380.1h0M424.4 389.7h0M498.1 403.6h0" stroke="#aabed2" stroke-width="3" stroke-opacity="0.6"/><path d="M336.1 366.6h0" stroke="#aabed2" stroke-width="3" stroke-opacity="0.8"/><path d="M365.9 376.7h0" stroke="#aabedc" stroke-width="3" stroke-opacity="0.6"/><path d="M341 273.3h0M287.7 365.9h0" stroke="#aabedc" stroke-width="3" stroke-opacity="0.8"/><path d="M458.3 426h0" stroke="#aac8dc" stroke-width="3" stroke-opacity="0.6"/><path d="M398.7 412.3h0" stroke="#aac8dc" stroke-width="3" stroke-opacity="0.8"/><path d="M410.3 413.9h0" stroke="#b4bedc" stroke-width="3" stroke-opacity="0.6"/><path d="M492.9 388.8h0M279.9 342.1h0M515.2 394.8h0" stroke="#b4bedc" stroke-width="3" stroke-opacity="0.8"/><path d="M412 404.2h0M524.1 317.4h0" stroke="#b4c8dc" stroke-width="3" stroke-opacity="0.6"/><path d="M364.5 371.7h0M448.5 422.9h0M398.2 407.5h0M457.3 416.6h0" stroke="#b4c8dc" stroke-width="3" stroke-opacity="0.8"/><path d="M457.6 402.9h0M490.2 399.5h0M306 347.3h0" stroke="#b4c8e6" stroke-width="3" stroke-opacity="0.6"/><path d="M458.5 427.6h0M284.1 342.2h0M299.6 337.9h0" stroke="#b4c8e6" stroke-width="3" stroke-opacity="0.8"/><path d="M398.1 413h0" stroke="#b4d2e6" stroke-width="3" stroke-opacity="0.6"/><path d="M286.8 368.1h0M442.3 418.6h0M515 377.3h0M494 398.8h0" stroke="#b4d2e6" stroke-width="3" stroke-opacity="0.8"/><path d="M530.3 350h0" stroke="#bebedc" stroke-width="3" stroke-opacity="0.6"/><path d="M443 415.5h0" stroke="#bec8dc" stroke-width="3"/><path d="M437.9 414.9h0M296.3 350.1h0M501.9 423.2h0M450 425h0" stroke="#bec8e6" stroke-width="3" stroke-opacity="0.6"/><path d="M371.7 401.2h0M303.4 340.3h0" stroke="#bec8e6" stroke-width="3" stroke-opacity="0.8"/><path d="M490.1 386.9h0" stroke="#bec8e6" stroke-width="3"/><path d="M358.4 369.3h0" stroke="#bec8f0" stroke-width="3" stroke-opacity="0.6"/><path d="M366.1 387.6h0M442.9 427.2h0M510.8 313h0" stroke="#bed2e6" stroke-width="3" stroke-opacity="0.6"/><path d="M389.6 409h0M527.2 407.3h0M480.3 392.4h0" stroke="#bed2e6" stroke-width="3" stroke-opacity="0.8"/><path d="M358.2 392.5h0" stroke="#bed2f0" stroke-width="3" stroke-opacity="0.8"/><path d="M532.1 353.5h0M468.5 401.8h0" stroke="#bedcf0" stroke-width="3" stroke-opacity="0.6"/><path d="M423.9 409.5h0" stroke="#bedcf0" stroke-width="3" stroke-opacity="0.8"/><path d="M351.7 407h0" stroke="#c8c8e6" stroke-width="3" stroke-opacity="0.6"/><path d="M308.9 349.6h0" stroke="#c8d2e6" stroke-width="3" stroke-opacity="0.8"/><path d="M405.8 409.4h0M314.9 286.5h0M539.3 399.4h0M294.7 288.2h0" stroke="#c8d2f0" stroke-width="3" stroke-opacity="0.6"/><path d="M431 398.5h0M471.2 422.5h0M299.5 380h0" stroke="#c8d2f0" stroke-width="3" stroke-opacity="0.8"/><path d="M295.2 341.4h0" stroke="#c8d2f0" stroke-width="3"/><path d="M452.5 417.7h0M320.1 382.2h0M366.5 408h0" stroke="#c8dcf0" stroke-width="3" stroke-opacity="0.8"/><path d="M311.4 383.1h0M324.8 359h0" stroke="#c8dcfa" stroke-width="3" stroke-opacity="0.6"/><path d="M356.6 393.6h0" stroke="#c8dcfa" stroke-width="3" stroke-opacity="0.8"/><path d="M435.3 422.5h0" stroke="#c8dcfa" stroke-width="3"/><path d="M467.6 388.4h0" stroke="#c8dcff" stroke-width="3" stroke-opacity="0.8"/><path d="M343.8 399.6h0M375.9 404h0" stroke="#c8e6fa" stroke-width="3" stroke-opacity="0.6"/><path d="M418.6 397.6h0" stroke="#c8e6ff" stroke-width="3" stroke-opacity="0.6"/><path d="M318.6 350.1h0M331.9 361h0" stroke="#c8e6ff" stroke-width="3" stroke-opacity="0.8"/><path d="M488.9 399.1h0M475.7 411.6h0" stroke="#c8f0ff" stroke-width="3" stroke-opacity="0.6"/><path d="M434.7 392.9h0" stroke="#c8f0ff" stroke-width="3" stroke-opacity="0.8"/><path d="M305.1 372.1h0" stroke="#d2d2f0" stroke-width="3" stroke-opacity="0.6"/><path d="M424.9 410h0M419.6 407.7h0M487.9 404.2h0M293.5 373.8h0" stroke="#d2dcf0" stroke-width="3" stroke-opacity="0.8"/><path d="M374.1 379.7h0M493.9 393.9h0" stroke="#d2dcff" stroke-width="3" stroke-opacity="0.6"/><path d="M424.6 410.4h0" stroke="#d2dcff" stroke-width="3" stroke-opacity="0.8"/><path d="M285.3 322.6h0M341.7 382.2h0" stroke="#d2e6fa" stroke-width="3" stroke-opacity="0.6"/><path d="M302.8 332.8h0" stroke="#d2e6fa" stroke-width="3" stroke-opacity="0.8"/><path d="M450.2 401.6h0M404.8 414.7h0M399.6 392h0M513.1 318.4h0M517.8 322.9h0M288.4 333h0" stroke="#d2e6ff" stroke-width="3" stroke-opacity="0.6"/><path d="M384.5 386.8h0M343.9 373.1h0M377.7 384.3h0M335.9 365.4h0M372.7 393.4h0M519.1 320.4h0M416.5 394.1h0M354 400.4h0M390.2 397.5h0M363.8 381.1h0M436.2 396h0" stroke="#d2e6ff" stroke-width="3" stroke-opacity="0.8"/><path d="M331.6 277h0M414.3 415.6h0M361 383.3h0" stroke="#d2e6ff" stroke-width="3"/><path d="M432.1 389.3h0M396.4 397.4h0M451.4 399.1h0M445.4 419.8h0M288.1 317.6h0" stroke="#d2f0ff" stroke-width="3" stroke-opacity="0.6"/><path d="M317.7 352.7h0M429.8 411.6h0" stroke="#d2f0ff" stroke-width="3" stroke-opacity="0.8"/><path d="M460.7 399.4h0" stroke="#dcdcfa" stroke-width="3" stroke-opacity="0.8"/><path d="M380.2 402.3h0M444.5 389.3h0" stroke="#dcdcff" stroke-width="3" stroke-opacity="0.6"/><path d="M392.1 385.5h0M450 402.8h0M333.6 376.2h0" stroke="#dcdcff" stroke-width="3" stroke-opacity="0.8"/><path d="M353.5 371.4h0M298.9 379h0" stroke="#dce6fa" stroke-width="3" stroke-opacity="0.6"/><path d="M475.6 394.8h0M371.8 402.2h0M320.7 382.3h0M481.9 382.4h0M503.7 386.9h0M400.6 399.8h0M358.5 373.7h0M303.9 335.9h0M448.6 410.8h0M511.4 320.7h0M320.1 345.3h0M479 385.6h0M494.4 403.5h0" stroke="#dce6ff" stroke-width="3" stroke-opacity="0.6"/><path d="M318.6 345.5h0M403.3 391.3h0M416.4 414h0M354.9 369h0M443.2 394.8h0M319.1 351.1h0M393.4 403.7h0M345.6 364.7h0" stroke="#dce6ff" stroke-width="3" stroke-opacity="0.8"/><path d="M403.5 396.4h0M471.9 386.4h0M321.7 347.2h0" stroke="#dce6ff" stroke-width="3"/><path d="M357.3 367.6h0M522.8 354.8h0M452.8 398.6h0" stroke="#dcf0ff" stroke-width="3" stroke-opacity="0.6"/><path d="M369 381.6h0M284.2 312.9h0M405.5 408.3h0" stroke="#dcf0ff" stroke-width="3" stroke-opacity="0.8"/><path d="M443.9 401.4h0M354.5 369.5h0M357.1 370.9h0M431.6 408h0M396.9 397.6h0M518.5 318.9h0M438.9 403h0M463.5 425h0M422.4 408.2h0M337.4 366.4h0M532.6 368.8h0M445.2 420.6h0M491.6 379.8h0M287.2 251.3h0M411.3 397.2h0M294.4 268.7h0M524.3 401.5h0M380.1 383.9h0M516.7 371.1h0M451.6 411.3h0M324.8 384.3h0M326.6 350.9h0M378.8 385.4h0M378.3 386.9h0M349.6 271.8h0M278 321.5h0M361.2 367h0M482.6 389.3h0M386.2 397.1h0M381.5 414.1h0M385.1 406.5h0M362 385.4h0M525.6 339.8h0M487.2 407.5h0M536.7 425h0M299.4 371.5h0M400.8 413.9h0M464 418.2h0M340.3 374.4h0M476.3 408.7h0M334.6 403.1h0M443.1 391h0M310.5 253.4h0M538.9 340.6h0M543.8 423.4h0M450.8 402.4h0M537 293.3h0M412.7 392.1h0M482.2 428.6h0M365.4 380.1h0M391.3 394.9h0M314.9 381.4h0M469.5 406.4h0M450.9 396.9h0M454.9 421.2h0M356.7 247h0M512 401.2h0M506.7 385.3h0M436.8 395.7h0M449.7 237.4h0M421.6 393.6h0M301.7 340.1h0M421.5 403.8h0M313.7 339.3h0M305 333.9h0M503.3 291.1h0M317.9 345.6h0M529.8 339.8h0M389.8 398h0M540.2 282.5h0M540.3 282.3h0M445.5 416.6h0M465.2 387.7h0M503.2 387.3h0M323.2 349.4h0M477.2 393.5h0M464.5 398.9h0M425.1 408h0M334.7 372.8h0M423 416.3h0M458.9 415.7h0M503.4 382.1h0M538 408.8h0M438.4 395.8h0M526.6 393.8h0M495.2 409.8h0M512.6 310.6h0M306.1 345.1h0M403.6 419.6h0M497.4 402h0M300 362h0M430.8 414.8h0M507.2 261.1h0" stroke="#e6f0ff" stroke-width="3"/><path d="M315.6 412.4h0" stroke="#28323c" stroke-width="3.5" stroke-opacity="0.6"/><path d="M289 419h0" stroke="#28323c" stroke-width="3.5"/><path d="M489.3 436.1h0" stroke="#283246" stroke-width="3.5" stroke-opacity="0.6"/><path d="M484.2 434.8h0" stroke="#283c46" stroke-width="3.5" stroke-opacity="0.8"/><path d="M386.6 440.5h0" stroke="#283c46" stroke-width="3.5"/><path d="M525.8 238.3h0" stroke="#3c465a" stroke-width="3.5" stroke-opacity="0.6"/><path d="M529.1 242.5h0M540.2 432.4h0" stroke="#3c465a" stroke-width="3.5" stroke-opacity="0.8"/><path d="M538.7 245.4h0" stroke="#464664" stroke-width="3.5" stroke-opacity="0.8"/><path d="M431.9 428.3h0M518.4 232.3h0M512.8 231.1h0M456 230.1h0M545.1 249.5h0" stroke="#465064" stroke-width="3.5" stroke-opacity="0.8"/><path d="M440.1 429.9h0" stroke="#465064" stroke-width="3.5"/><path d="M451 233.7h0M287 265.7h0" stroke="#46506e" stroke-width="3.5" stroke-opacity="0.6"/><path d="M330.9 232.4h0" stroke="#46506e" stroke-width="3.5" stroke-opacity="0.8"/><path d="M454.1 234.7h0" stroke="#505064" stroke-width="3.5" stroke-opacity="0.8"/><path d="M298.9 245.5h0" stroke="#50506e" stroke-width="3.5" stroke-opacity="0.6"/><path d="M496.5 242.4h0" stroke="#505a6e" stroke-width="3.5" stroke-opacity="0.6"/><path d="M430.5 427.2h0M518.4 232.3h0M284.2 255.9h0" stroke="#505a6e" stroke-width="3.5" stroke-opacity="0.8"/><path d="M279.7 235.9h0" stroke="#505a6e" stroke-width="3.5"/><path d="M336.3 227.1h0" stroke="#505a78" stroke-width="3.5" stroke-opacity="0.6"/><path d="M517 234.2h0M306.5 242.1h0" stroke="#505a78" stroke-width="3.5" stroke-opacity="0.8"/><path d="M313.6 272h0" stroke="#505a78" stroke-width="3.5"/><path d="M525.6 306h0M521.5 274.5h0" stroke="#506478" stroke-width="3.5" stroke-opacity="0.6"/><path d="M492.7 261.9h0M285.8 394.3h0" stroke="#506478" stroke-width="3.5" stroke-opacity="0.8"/><path d="M459.5 246.1h0" stroke="#5a5a78" stroke-width="3.5"/><path d="M279.4 361.8h0" stroke="#5a6478" stroke-width="3.5" stroke-opacity="0.6"/><path d="M314.7 234h0M316.8 234.5h0M288.5 386.2h0M467.5 431.9h0" stroke="#5a6478" stroke-width="3.5" stroke-opacity="0.8"/><path d="M452.3 238.2h0" stroke="#5a6478" stroke-width="3.5"/><path d="M287.6 381.6h0M280.8 351.3h0M508.3 263.9h0M515.3 259.4h0" stroke="#5a6482" stroke-width="3.5" stroke-opacity="0.6"/><path d="M302.1 245.9h0" stroke="#5a6482" stroke-width="3.5" stroke-opacity="0.8"/><path d="M322.4 391.6h0" stroke="#5a6e82" stroke-width="3.5" stroke-opacity="0.8"/><path d="M542.4 427.8h0" stroke="#5a6e8c" stroke-width="3.5" stroke-opacity="0.6"/><path d="M511.5 259.8h0" stroke="#646482" stroke-width="3.5" stroke-opacity="0.8"/><path d="M445.6 234.1h0" stroke="#646482" stroke-width="3.5"/><path d="M473.5 255.9h0" stroke="#646e82" stroke-width="3.5" stroke-opacity="0.6"/><path d="M351.5 237.9h0M525.6 305h0" stroke="#646e82" stroke-width="3.5" stroke-opacity="0.8"/><path d="M306.4 256.9h0M532.1 342.1h0M305 388.5h0M291 302h0M457.7 431.5h0M282.2 269.8h0" stroke="#646e8c" stroke-width="3.5" stroke-opacity="0.6"/><path d="M513.1 305.1h0M394.2 417.3h0M482.5 423.3h0" stroke="#646e8c" stroke-width="3.5" stroke-opacity="0.8"/><path d="M284.5 255.3h0M287.3 296.3h0M310.6 242h0M528.4 384.4h0M323.6 383h0M289.2 372.6h0M281.9 366.1h0M282.7 362.1h0" stroke="#64788c" stroke-width="3.5" stroke-opacity="0.6"/><path d="M445.6 429.6h0M514.6 306.4h0M288 373.1h0M513.5 275.2h0" stroke="#64788c" stroke-width="3.5" stroke-opacity="0.8"/><path d="M523.5 295.5h0" stroke="#647896" stroke-width="3.5" stroke-opacity="0.8"/><path d="M539.5 319.3h0" stroke="#648296" stroke-width="3.5"/><path d="M499.9 421.9h0M283.7 352.7h0M521.3 253.7h0M310.1 233h0" stroke="#6e788c" stroke-width="3.5" stroke-opacity="0.6"/><path d="M351.3 242h0" stroke="#6e788c" stroke-width="3.5" stroke-opacity="0.8"/><path d="M537.5 408.8h0M491.1 251.8h0M501.4 253.5h0M279.6 368.3h0" stroke="#6e7896" stroke-width="3.5" stroke-opacity="0.6"/><path d="M537.1 289.9h0M518.3 294.7h0" stroke="#6e7896" stroke-width="3.5" stroke-opacity="0.8"/><path d="M305.2 384h0" stroke="#6e7896" stroke-width="3.5"/><path d="M322.8 379.4h0M299.1 384.4h0" stroke="#6e8296" stroke-width="3.5" stroke-opacity="0.6"/><path d="M354.1 256.4h0M484.5 266.9h0M303.1 364.4h0" stroke="#6e8296" stroke-width="3.5" stroke-opacity="0.8"/><path d="M545 422.7h0" stroke="#6e8296" stroke-width="3.5"/><path d="M346.1 254.8h0M299.4 373.1h0" stroke="#6e82a0" stroke-width="3.5" stroke-opacity="0.6"/><path d="M482.1 420h0" stroke="#6e82a0" stroke-width="3.5" stroke-opacity="0.8"/><path d="M498 417h0M403.7 419.5h0M303.5 363.3h0" stroke="#787896" stroke-width="3.5" stroke-opacity="0.6"/><path d="M533 379.3h0M321.6 392h0" stroke="#788296" stroke-width="3.5" stroke-opacity="0.8"/><path d="M530.4 376.8h0" stroke="#788296" stroke-width="3.5"/><path d="M441.7 427.9h0M521 299.1h0M281.1 318.2h0M530.2 255.6h0M321.6 389.4h0M533.4 414.5h0" stroke="#7882a0" stroke-width="3.5" stroke-opacity="0.6"/><path d="M532.4 258h0M520.5 276.8h0" stroke="#7882a0" stroke-width="3.5" stroke-opacity="0.8"/><path d="M299 373.5h0M499.7 273.7h0M534.9 266.3h0" stroke="#7882a0" stroke-width="3.5"/><path d="M322.7 409.7h0M489.3 256.9h0M283.2 259.4h0M309.6 372.5h0" stroke="#788ca0" stroke-width="3.5" stroke-opacity="0.6"/><path d="M310 275.6h0M389.6 405h0" stroke="#788ca0" stroke-width="3.5" stroke-opacity="0.8"/><path d="M285.1 374.1h0" stroke="#788ca0" stroke-width="3.5"/><path d="M357.5 253h0" stroke="#788caa" stroke-width="3.5" stroke-opacity="0.8"/><path d="M291.5 367.6h0" stroke="#828ca0" stroke-width="3.5" stroke-opacity="0.6"/><path d="M462.1 407.2h0" stroke="#828ca0" stroke-width="3.5" stroke-opacity="0.8"/><path d="M549.4 304.6h0M548.3 302.5h0" stroke="#828caa" stroke-width="3.5" stroke-opacity="0.6"/><path d="M323.9 380.3h0M537 377.9h0M292.7 388.9h0M549.1 300.8h0" stroke="#828caa" stroke-width="3.5" stroke-opacity="0.8"/><path d="M290.4 311.7h0" stroke="#828caa" stroke-width="3.5"/><path d="M537.6 343.4h0" stroke="#8296aa" stroke-width="3.5" stroke-opacity="0.6"/><path d="M518.8 307h0" stroke="#8296aa" stroke-width="3.5" stroke-opacity="0.8"/><path d="M296.9 365.8h0" stroke="#8296aa" stroke-width="3.5"/><path d="M459.6 407.6h0M501.8 413.9h0" stroke="#8296b4" stroke-width="3.5" stroke-opacity="0.6"/><path d="M298.6 268.6h0" stroke="#8296b4" stroke-width="3.5" stroke-opacity="0.8"/><path d="M521.4 401.7h0" stroke="#82a0b4" stroke-width="3.5" stroke-opacity="0.6"/><path d="M321 266.2h0M333.1 396.9h0M543.9 357.2h0M483.5 417.2h0" stroke="#8c96b4" stroke-width="3.5" stroke-opacity="0.6"/><path d="M376.5 397.5h0M504.4 422.9h0M516.8 408.3h0M294 314.4h0M517.8 410.1h0M531.2 310.3h0" stroke="#8c96b4" stroke-width="3.5" stroke-opacity="0.8"/><path d="M298.7 304.6h0" stroke="#8ca0b4" stroke-width="3.5" stroke-opacity="0.6"/><path d="M461 405.6h0M350.3 266.6h0M294.6 285h0M538 407.4h0M521.5 412.4h0M506.7 422.9h0" stroke="#8ca0b4" stroke-width="3.5" stroke-opacity="0.8"/><path d="M288.7 366h0" stroke="#8ca0b4" stroke-width="3.5"/><path d="M502.5 380.5h0" stroke="#8ca0be" stroke-width="3.5" stroke-opacity="0.6"/><path d="M287.3 319.2h0M369.6 257.9h0M332.1 421.7h0" stroke="#8ca0be" stroke-width="3.5" stroke-opacity="0.8"/><path d="M487.3 404.8h0" stroke="#8caabe" stroke-width="3.5" stroke-opacity="0.6"/><path d="M431.2 409.8h0" stroke="#8caabe" stroke-width="3.5" stroke-opacity="0.8"/><path d="M327.8 270.9h0" stroke="#8caac8" stroke-width="3.5" stroke-opacity="0.8"/><path d="M512.9 384.2h0" stroke="#8caac8" stroke-width="3.5"/><path d="M289.2 316.6h0" stroke="#96a0b4" stroke-width="3.5" stroke-opacity="0.8"/><path d="M325.9 252.5h0" stroke="#96a0be" stroke-width="3.5" stroke-opacity="0.6"/><path d="M366.7 249.4h0M288.2 292.3h0" stroke="#96a0be" stroke-width="3.5" stroke-opacity="0.8"/><path d="M396.7 407.9h0M327.7 385.6h0M322 395.7h0" stroke="#96a0be" stroke-width="3.5"/><path d="M444.9 402.9h0M519.7 375.4h0" stroke="#96aabe" stroke-width="3.5" stroke-opacity="0.6"/><path d="M469.3 415.8h0M515.8 316.6h0M323.6 356.9h0M531.4 350.7h0" stroke="#96aac8" stroke-width="3.5" stroke-opacity="0.6"/><path d="M297.6 311.3h0" stroke="#96aac8" stroke-width="3.5" stroke-opacity="0.8"/><path d="M281.4 313.3h0" stroke="#a0aac8" stroke-width="3.5" stroke-opacity="0.6"/><path d="M327.8 367.2h0M476.6 398.7h0M376.7 398.3h0" stroke="#a0aac8" stroke-width="3.5" stroke-opacity="0.8"/><path d="M424.1 418.4h0" stroke="#a0aac8" stroke-width="3.5"/><path d="M528 334.9h0" stroke="#a0b4c8" stroke-width="3.5" stroke-opacity="0.6"/><path d="M285.1 372.4h0M475 417.6h0" stroke="#a0b4c8" stroke-width="3.5" stroke-opacity="0.8"/><path d="M432.6 398.4h0M393.1 395h0M328.8 397.3h0" stroke="#a0b4c8" stroke-width="3.5"/><path d="M420.6 401.1h0M517.6 377.5h0M539 426.2h0M511.1 391.4h0M500.3 412.1h0M403.4 417.6h0" stroke="#a0b4d2" stroke-width="3.5" stroke-opacity="0.6"/><path d="M293.8 329.5h0" stroke="#a0b4d2" stroke-width="3.5" stroke-opacity="0.8"/><path d="M333.1 269.8h0" stroke="#a0bed2" stroke-width="3.5" stroke-opacity="0.6"/><path d="M492.5 390.1h0" stroke="#a0bed2" stroke-width="3.5" stroke-opacity="0.8"/><path d="M345.6 401.3h0" stroke="#aab4c8" stroke-width="3.5" stroke-opacity="0.6"/><path d="M527.5 405.5h0M490.9 398.5h0" stroke="#aab4c8" stroke-width="3.5" stroke-opacity="0.8"/><path d="M510.7 397.8h0" stroke="#aab4d2" stroke-width="3.5" stroke-opacity="0.6"/><path d="M541 393.2h0M339 368.8h0M355.9 373.7h0M498.4 407.9h0" stroke="#aab4d2" stroke-width="3.5" stroke-opacity="0.8"/><path d="M413.7 398.4h0M445.1 421.7h0M465.1 418.2h0" stroke="#aab4d2" stroke-width="3.5"/><path d="M341.1 389.6h0" stroke="#aab4dc" stroke-width="3.5" stroke-opacity="0.6"/><path d="M544.3 389.7h0" stroke="#aabed2" stroke-width="3.5" stroke-opacity="0.6"/><path d="M371 395.6h0M304.1 371.5h0" stroke="#aabed2" stroke-width="3.5" stroke-opacity="0.8"/><path d="M286.9 357.7h0M387.3 398.9h0" stroke="#aabedc" stroke-width="3.5" stroke-opacity="0.6"/><path d="M330.6 276.9h0M325.2 277.2h0" stroke="#aabedc" stroke-width="3.5" stroke-opacity="0.8"/><path d="M505.4 398.9h0M468.8 426.7h0" stroke="#aabedc" stroke-width="3.5"/><path d="M351.6 373.6h0" stroke="#aac8dc" stroke-width="3.5" stroke-opacity="0.8"/><path d="M365.7 377.1h0" stroke="#b4bedc" stroke-width="3.5" stroke-opacity="0.6"/><path d="M350.7 400.5h0M343.3 389.9h0M308.6 360.8h0" stroke="#b4c8dc" stroke-width="3.5" stroke-opacity="0.6"/><path d="M514.4 380.7h0M319.7 393.3h0M297.9 334.4h0" stroke="#b4c8dc" stroke-width="3.5" stroke-opacity="0.8"/><path d="M370.7 391.6h0" stroke="#b4c8dc" stroke-width="3.5"/><path d="M293.8 312.3h0" stroke="#b4c8e6" stroke-width="3.5"/><path d="M414.1 391.8h0M507.1 399.3h0" stroke="#b4d2e6" stroke-width="3.5" stroke-opacity="0.6"/><path d="M533.1 392.5h0" stroke="#bec8dc" stroke-width="3.5" stroke-opacity="0.6"/><path d="M471.2 414.6h0M289.5 373.6h0M424.4 407.1h0" stroke="#bec8e6" stroke-width="3.5" stroke-opacity="0.6"/><path d="M395.4 405.5h0M294 288.4h0" stroke="#bec8e6" stroke-width="3.5" stroke-opacity="0.8"/><path d="M348.1 275.6h0" stroke="#bed2e6" stroke-width="3.5" stroke-opacity="0.8"/><path d="M397.2 399.6h0M295.3 314.2h0M422.3 414.4h0M510.8 314.4h0M380.4 392.7h0" stroke="#bed2f0" stroke-width="3.5" stroke-opacity="0.6"/><path d="M441.4 415h0" stroke="#bed2f0" stroke-width="3.5" stroke-opacity="0.8"/><path d="M451.4 406.4h0" stroke="#bed2f0" stroke-width="3.5"/><path d="M292.2 303.1h0" stroke="#bedcf0" stroke-width="3.5" stroke-opacity="0.6"/><path d="M324.5 381.8h0" stroke="#c8d2e6" stroke-width="3.5" stroke-opacity="0.6"/><path d="M306.3 332.9h0M445.5 414.5h0" stroke="#c8d2f0" stroke-width="3.5" stroke-opacity="0.8"/><path d="M360.1 404.1h0M292.3 329.4h0" stroke="#c8d2f0" stroke-width="3.5"/><path d="M504.7 396h0" stroke="#c8dcf0" stroke-width="3.5" stroke-opacity="0.6"/><path d="M428.5 392.4h0M370.8 396.4h0M489.8 406.7h0M394.9 389h0M504.9 389.5h0M390.2 402.3h0" stroke="#c8dcf0" stroke-width="3.5" stroke-opacity="0.8"/><path d="M340.9 386.5h0" stroke="#c8dcfa" stroke-width="3.5" stroke-opacity="0.6"/><path d="M509.3 387h0" stroke="#c8e6f0" stroke-width="3.5" stroke-opacity="0.6"/><path d="M479.1 382.9h0" stroke="#c8e6ff" stroke-width="3.5" stroke-opacity="0.6"/><path d="M368.6 392h0" stroke="#c8e6ff" stroke-width="3.5" stroke-opacity="0.8"/><path d="M428.9 391.2h0M387.9 392h0" stroke="#c8e6ff" stroke-width="3.5"/><path d="M361.3 387.7h0" stroke="#c8f0ff" stroke-width="3.5" stroke-opacity="0.8"/><path d="M336 371.7h0" stroke="#c8f0ff" stroke-width="3.5"/><path d="M380.8 409.7h0" stroke="#d2dcf0" stroke-width="3.5" stroke-opacity="0.8"/><path d="M452.1 404.6h0" stroke="#d2dcfa" stroke-width="3.5" stroke-opacity="0.6"/><path d="M296.7 314h0" stroke="#d2e6fa" stroke-width="3.5" stroke-opacity="0.6"/><path d="M479.3 404.8h0M529 358.7h0" stroke="#d2e6fa" stroke-width="3.5" stroke-opacity="0.8"/><path d="M414 409.3h0" stroke="#d2e6fa" stroke-width="3.5"/><path d="M359 372.1h0M419.6 412.7h0M375 403.8h0M447.9 391.6h0" stroke="#d2e6ff" stroke-width="3.5" stroke-opacity="0.6"/><path d="M484.7 393.2h0M421.5 413.2h0M330.3 366h0M395 394.5h0M397.3 401.8h0M423.8 404.7h0" stroke="#d2e6ff" stroke-width="3.5" stroke-opacity="0.8"/><path d="M475.1 402.9h0" stroke="#d2e6ff" stroke-width="3.5"/><path d="M415.7 403.6h0M526.5 340.1h0" stroke="#d2f0ff" stroke-width="3.5" stroke-opacity="0.6"/><path d="M313.7 345.1h0M464.5 396.7h0" stroke="#d2f0ff" stroke-width="3.5" stroke-opacity="0.8"/><path d="M449.3 402.5h0" stroke="#dcdcfa" stroke-width="3.5" stroke-opacity="0.8"/><path d="M462.4 397.7h0M311.3 350.8h0M423.5 398.1h0M292 330.3h0" stroke="#dcdcff" stroke-width="3.5" stroke-opacity="0.8"/><path d="M338.6 368.3h0M355.5 373.3h0M527 353.1h0M346.5 398.2h0M382.9 386h0M518.3 326.9h0M511.5 377.2h0M527.7 350.4h0M431.6 418.5h0" stroke="#dce6ff" stroke-width="3.5" stroke-opacity="0.6"/><path d="M397.3 396.6h0M450 400.4h0M384.7 383.5h0M359 368.1h0M410.5 399.2h0M488.4 382.2h0M367.2 370.3h0M371.8 381.4h0M450.1 401.7h0" stroke="#dce6ff" stroke-width="3.5" stroke-opacity="0.8"/><path d="M486.8 398.3h0M428.3 389.4h0M328.5 362.6h0M480.3 387.5h0" stroke="#dce6ff" stroke-width="3.5"/><path d="M441.1 408.6h0" stroke="#dcf0fa" stroke-width="3.5" stroke-opacity="0.6"/><path d="M356.4 368.2h0M419.9 417.7h0" stroke="#dcf0ff" stroke-width="3.5" stroke-opacity="0.6"/><path d="M399.2 389.1h0M417.8 412.4h0M309.5 349.4h0M358 393.5h0" stroke="#dcf0ff" stroke-width="3.5" stroke-opacity="0.8"/><path d="M332.7 364.6h0M329.1 363.5h0M369.9 267.7h0M384.7 398.6h0M519 405.5h0M339.1 368.9h0M381.9 388.4h0M327.3 402.1h0M334.7 364.8h0M438.7 412.5h0M330.8 358h0M482.2 255h0M453.4 413.4h0M324.3 351.3h0M320.1 382.4h0M444.2 407.1h0M523.6 355.3h0M514.9 246.1h0M491.3 386.3h0M520.1 397h0M477.5 411.2h0M384.3 239.7h0M348 367.7h0M452.5 233.5h0M324.4 381.6h0M384.4 394.8h0M318.5 354.7h0M446.3 394.5h0M434.9 395h0M439.7 391.4h0M481.8 418.1h0M278.8 268.4h0M448.6 415.7h0M280.2 370.3h0M346.3 383.9h0M312.7 277.7h0M315.9 278.7h0M315.2 351.4h0M313.6 349.9h0M529.5 344.6h0M544.7 402.8h0M435.1 403.4h0M430.1 410.8h0M475.9 393.5h0M475.7 391.3h0M371.9 377.7h0M544.4 420.2h0M516 322.3h0M516.3 399h0M458.3 391.6h0M502.3 299.9h0M325.5 280.6h0M461.7 398.8h0M325.6 368.9h0M545.7 416.1h0M478.3 385.4h0M400.1 395.8h0M502.5 252.2h0M451.4 410.2h0M292 311.4h0M278 366.6h0M316.2 346.4h0M303.1 332.7h0M470.5 429.8h0M342.8 403.5h0M466 397.7h0M338.3 365.3h0M316 345.1h0M481.4 400.9h0M283.9 357.7h0M400.6 402.6h0M531.8 387.1h0M468.7 425.2h0M358.7 379.9h0M356.6 377.3h0M302.6 370.8h0M308.4 369h0M536.5 340.6h0M472.4 385.6h0M297.9 316.6h0M355.9 406.5h0M332 277h0M485.8 394.3h0M519.1 326.9h0M400 408.5h0M468.7 398.4h0M515.1 266.4h0M289.3 366.3h0M351.9 371.6h0M358.1 390.8h0M426.6 404.3h0M338.2 366.3h0" stroke="#e6f0ff" stroke-width="3.5"/><path d="M384.7 442.4h0" stroke="#283246" stroke-width="4" stroke-opacity="0.8"/><path d="M490.7 434.3h0" stroke="#323c46" stroke-width="4" stroke-opacity="0.6"/><path d="M427 427.3h0" stroke="#3c465a" stroke-width="4" stroke-opacity="0.6"/><path d="M527.5 240.6h0" stroke="#3c5064" stroke-width="4" stroke-opacity="0.6"/><path d="M494 262.8h0M491.2 259.6h0" stroke="#465064" stroke-width="4" stroke-opacity="0.6"/><path d="M311.4 245.8h0M451.2 237.9h0" stroke="#465064" stroke-width="4" stroke-opacity="0.8"/><path d="M490.9 261.2h0" stroke="#46506e" stroke-width="4" stroke-opacity="0.6"/><path d="M477.3 251.6h0M280.5 231.9h0M287.6 271h0" stroke="#505a6e" stroke-width="4" stroke-opacity="0.6"/><path d="M289.9 391.8h0M517.1 291h0M493.7 231.3h0M451.3 233.5h0" stroke="#505a6e" stroke-width="4" stroke-opacity="0.8"/><path d="M291.9 268.6h0" stroke="#505a6e" stroke-width="4"/><path d="M312.7 230h0M525.5 252.9h0" stroke="#505a78" stroke-width="4" stroke-opacity="0.6"/><path d="M500.8 232.8h0M479.4 432.5h0" stroke="#505a78" stroke-width="4" stroke-opacity="0.8"/><path d="M313.1 229.4h0M528.2 287h0M523.4 251.7h0" stroke="#505a78" stroke-width="4"/><path d="M298.5 270.1h0" stroke="#506478" stroke-width="4" stroke-opacity="0.6"/><path d="M496.3 241h0M473.4 251.8h0" stroke="#506478" stroke-width="4" stroke-opacity="0.8"/><path d="M281 383.4h0" stroke="#5a5a78" stroke-width="4" stroke-opacity="0.6"/><path d="M517.7 417.1h0M470.5 253.6h0" stroke="#5a6478" stroke-width="4" stroke-opacity="0.8"/><path d="M280.8 255.2h0M496.4 235.1h0" stroke="#5a6478" stroke-width="4"/><path d="M280.1 267.8h0M540.5 417.2h0M279.6 363.3h0M543.7 412.1h0M332.4 418.9h0" stroke="#5a6482" stroke-width="4" stroke-opacity="0.6"/><path d="M364.4 254.6h0M531.5 388.3h0M316.8 274.5h0" stroke="#5a6482" stroke-width="4" stroke-opacity="0.8"/><path d="M311.7 241.7h0" stroke="#5a6482" stroke-width="4"/><path d="M546.1 424h0M516.1 247.2h0M528.4 395.8h0M465.8 252.4h0" stroke="#5a6e82" stroke-width="4" stroke-opacity="0.6"/><path d="M504 268.6h0M506.2 266.8h0" stroke="#5a6e82" stroke-width="4" stroke-opacity="0.8"/><path d="M515 266.1h0" stroke="#646482" stroke-width="4" stroke-opacity="0.6"/><path d="M289.2 252h0" stroke="#646e82" stroke-width="4" stroke-opacity="0.6"/><path d="M489.2 250.9h0" stroke="#646e82" stroke-width="4" stroke-opacity="0.8"/><path d="M540.9 423.4h0M522.5 402.1h0M365.8 256.5h0M480.6 259.2h0" stroke="#646e8c" stroke-width="4" stroke-opacity="0.6"/><path d="M325.4 409h0" stroke="#646e8c" stroke-width="4" stroke-opacity="0.8"/><path d="M303.7 380.7h0M282.9 367h0" stroke="#646e8c" stroke-width="4"/><path d="M514.4 263.1h0M292.4 290.1h0M361.1 229.2h0M302.7 390.9h0" stroke="#64788c" stroke-width="4" stroke-opacity="0.6"/><path d="M484 261.4h0" stroke="#64788c" stroke-width="4" stroke-opacity="0.8"/><path d="M304.1 396h0" stroke="#647896" stroke-width="4" stroke-opacity="0.6"/><path d="M525.5 275h0M543.1 309.4h0M520.4 275.4h0" stroke="#647896" stroke-width="4" stroke-opacity="0.8"/><path d="M361.8 230.2h0M484.6 427.3h0M520.7 255.7h0M545.5 401.9h0M538.2 338.3h0M487.6 431.9h0" stroke="#6e788c" stroke-width="4" stroke-opacity="0.6"/><path d="M349 408.4h0" stroke="#6e788c" stroke-width="4"/><path d="M538.7 424.2h0M295.2 259.8h0" stroke="#6e7896" stroke-width="4" stroke-opacity="0.8"/><path d="M514.3 255.4h0" stroke="#6e8296" stroke-width="4" stroke-opacity="0.6"/><path d="M526.6 274.3h0" stroke="#6e82a0" stroke-width="4" stroke-opacity="0.6"/><path d="M542.3 316.7h0M547.3 310.6h0" stroke="#6e82a0" stroke-width="4" stroke-opacity="0.8"/><path d="M533.2 323.3h0" stroke="#788296" stroke-width="4" stroke-opacity="0.6"/><path d="M426.1 424h0M551.5 301.5h0M531.9 302.5h0M539.7 341.3h0" stroke="#7882a0" stroke-width="4" stroke-opacity="0.6"/><path d="M322.1 255.9h0M279.4 355.4h0M478.8 420.8h0M397.8 417.3h0M511.2 281.7h0M287.4 378.9h0" stroke="#7882a0" stroke-width="4" stroke-opacity="0.8"/><path d="M467.9 404.3h0M320.2 375.2h0M534 371.8h0M465.3 404.5h0M304.4 275.3h0M542.3 311.3h0M519.9 304h0M403.1 419.5h0" stroke="#788ca0" stroke-width="4" stroke-opacity="0.6"/><path d="M316.4 244.8h0M538.7 315.2h0M511.9 390.4h0M512.3 388.9h0M358.8 249.5h0M292.9 295.8h0" stroke="#788ca0" stroke-width="4" stroke-opacity="0.8"/><path d="M538.3 338.1h0" stroke="#788caa" stroke-width="4" stroke-opacity="0.6"/><path d="M523.4 329.3h0" stroke="#788caa" stroke-width="4" stroke-opacity="0.8"/><path d="M464.6 423.5h0" stroke="#7896aa" stroke-width="4" stroke-opacity="0.6"/><path d="M438.8 427.5h0" stroke="#7896aa" stroke-width="4" stroke-opacity="0.8"/><path d="M376.3 395.4h0" stroke="#828ca0" stroke-width="4" stroke-opacity="0.6"/><path d="M281.1 369.9h0" stroke="#828ca0" stroke-width="4" stroke-opacity="0.8"/><path d="M379.1 395.2h0M327.6 383.1h0M479.2 408.8h0M478.7 406.8h0M538.6 392.6h0" stroke="#828caa" stroke-width="4" stroke-opacity="0.6"/><path d="M287.2 366h0M351.1 246.2h0M536.5 294h0M408.5 411.4h0M324 411.3h0" stroke="#828caa" stroke-width="4" stroke-opacity="0.8"/><path d="M324.4 255.3h0" stroke="#828cb4" stroke-width="4"/><path d="M500.6 415.2h0" stroke="#8296aa" stroke-width="4" stroke-opacity="0.6"/><path d="M432.4 405.1h0" stroke="#8296aa" stroke-width="4" stroke-opacity="0.8"/><path d="M525 404.9h0M431.3 424.8h0M412.5 408.7h0M498.8 411.7h0" stroke="#8296b4" stroke-width="4" stroke-opacity="0.6"/><path d="M301.5 355.5h0" stroke="#8296b4" stroke-width="4" stroke-opacity="0.8"/><path d="M320.6 268.2h0M297 268.1h0" stroke="#8296b4" stroke-width="4"/><path d="M294.3 287.2h0" stroke="#82a0b4" stroke-width="4" stroke-opacity="0.8"/><path d="M398 404.8h0M341.3 388.7h0M531.9 370.6h0M335.8 367.2h0M530.6 378h0" stroke="#8c96b4" stroke-width="4" stroke-opacity="0.6"/><path d="M433 418.8h0M492.2 396.5h0M514.9 391.9h0M315.1 363.9h0M338.2 255.8h0M533 338.3h0" stroke="#8c96b4" stroke-width="4" stroke-opacity="0.8"/><path d="M332.2 278.8h0M542.3 301.9h0" stroke="#8c96b4" stroke-width="4"/><path d="M467.1 424.2h0M318.6 254.5h0M428.2 407.1h0" stroke="#8ca0b4" stroke-width="4" stroke-opacity="0.6"/><path d="M510.5 412.3h0M469 408.6h0" stroke="#8ca0b4" stroke-width="4" stroke-opacity="0.8"/><path d="M446.7 420.7h0" stroke="#8ca0be" stroke-width="4" stroke-opacity="0.6"/><path d="M530.8 342.8h0M314.1 358h0M517.5 304h0" stroke="#8ca0be" stroke-width="4" stroke-opacity="0.8"/><path d="M470.9 409.9h0M488.9 402.3h0" stroke="#8caabe" stroke-width="4" stroke-opacity="0.6"/><path d="M527.9 308.2h0" stroke="#8caabe" stroke-width="4" stroke-opacity="0.8"/><path d="M436.8 412.7h0M363.9 396.4h0M289.1 289.3h0" stroke="#96a0be" stroke-width="4" stroke-opacity="0.6"/><path d="M468.1 412.6h0M424.8 409.9h0" stroke="#96a0be" stroke-width="4" stroke-opacity="0.8"/><path d="M530.3 422.1h0M290.7 276.7h0" stroke="#96a0be" stroke-width="4"/><path d="M321.1 388.5h0M314.8 356.3h0" stroke="#96aabe" stroke-width="4" stroke-opacity="0.8"/><path d="M485.6 406.6h0M392 390.2h0" stroke="#96aac8" stroke-width="4" stroke-opacity="0.6"/><path d="M499.7 416.1h0M537.5 418.6h0" stroke="#96aac8" stroke-width="4" stroke-opacity="0.8"/><path d="M443.7 403.3h0M539.6 419h0" stroke="#96aac8" stroke-width="4"/><path d="M291 350.4h0" stroke="#96b4c8" stroke-width="4" stroke-opacity="0.6"/><path d="M408.7 415.9h0" stroke="#96b4c8" stroke-width="4" stroke-opacity="0.8"/><path d="M477.7 420.8h0M535 358.8h0" stroke="#a0aac8" stroke-width="4" stroke-opacity="0.6"/><path d="M537.1 418.6h0" stroke="#a0aac8" stroke-width="4" stroke-opacity="0.8"/><path d="M291.8 295.3h0" stroke="#a0aac8" stroke-width="4"/><path d="M313 383h0" stroke="#a0b4c8" stroke-width="4" stroke-opacity="0.6"/><path d="M492.7 385.7h0M520 407.7h0" stroke="#a0b4c8" stroke-width="4" stroke-opacity="0.8"/><path d="M522.6 402.8h0M457.4 425.5h0" stroke="#a0b4d2" stroke-width="4" stroke-opacity="0.6"/><path d="M525.3 419.9h0M375.8 261.3h0" stroke="#a0b4d2" stroke-width="4" stroke-opacity="0.8"/><path d="M288.5 331.2h0" stroke="#a0bed2" stroke-width="4" stroke-opacity="0.6"/><path d="M364 372.2h0" stroke="#a0bed2" stroke-width="4" stroke-opacity="0.8"/><path d="M323.2 401.9h0" stroke="#aaaac8" stroke-width="4" stroke-opacity="0.8"/><path d="M287.8 321.5h0" stroke="#aab4d2" stroke-width="4" stroke-opacity="0.6"/><path d="M489.8 400.6h0M278.9 324.6h0M517 379.8h0" stroke="#aab4d2" stroke-width="4" stroke-opacity="0.8"/><path d="M481.9 428.8h0" stroke="#aab4d2" stroke-width="4"/><path d="M534.6 359.5h0" stroke="#aabed2" stroke-width="4" stroke-opacity="0.6"/><path d="M318.4 366.8h0M287.7 339.2h0" stroke="#aabedc" stroke-width="4" stroke-opacity="0.6"/><path d="M461.7 406.8h0M533.4 337.5h0M336.5 261.8h0" stroke="#aabedc" stroke-width="4" stroke-opacity="0.8"/><path d="M424.5 409.2h0" stroke="#aac8dc" stroke-width="4" stroke-opacity="0.8"/><path d="M442.7 393.1h0" stroke="#aac8dc" stroke-width="4"/><path d="M299.1 377h0" stroke="#b4b4d2" stroke-width="4" stroke-opacity="0.6"/><path d="M453.1 417.8h0M295.6 270.8h0" stroke="#b4b4d2" stroke-width="4" stroke-opacity="0.8"/><path d="M299.9 337.4h0" stroke="#b4bed2" stroke-width="4" stroke-opacity="0.8"/><path d="M355.3 396.3h0" stroke="#b4bedc" stroke-width="4" stroke-opacity="0.6"/><path d="M505 372.8h0M549.9 384.6h0M472.8 392.1h0" stroke="#b4bedc" stroke-width="4" stroke-opacity="0.8"/><path d="M524.7 403.9h0M308.4 280h0" stroke="#b4c8dc" stroke-width="4" stroke-opacity="0.8"/><path d="M469.7 411.8h0M442.8 415.4h0" stroke="#b4c8e6" stroke-width="4" stroke-opacity="0.6"/><path d="M492 396.7h0" stroke="#b4c8e6" stroke-width="4" stroke-opacity="0.8"/><path d="M423.5 393.2h0" stroke="#b4c8e6" stroke-width="4"/><path d="M303.8 344.3h0" stroke="#b4d2e6" stroke-width="4" stroke-opacity="0.8"/><path d="M306.6 342.8h0" stroke="#b4d2f0" stroke-width="4" stroke-opacity="0.8"/><path d="M529 345.5h0" stroke="#bed2f0" stroke-width="4" stroke-opacity="0.6"/><path d="M380.7 391.8h0" stroke="#bed2f0" stroke-width="4" stroke-opacity="0.8"/><path d="M335.1 365.7h0M312.3 382.4h0" stroke="#bedcf0" stroke-width="4" stroke-opacity="0.6"/><path d="M544.3 395h0" stroke="#bedcf0" stroke-width="4" stroke-opacity="0.8"/><path d="M526.4 344.1h0" stroke="#c8d2e6" stroke-width="4" stroke-opacity="0.8"/><path d="M313 383.2h0M397.7 386.6h0M305.5 334.3h0" stroke="#c8d2f0" stroke-width="4" stroke-opacity="0.6"/><path d="M315 387h0M360.7 371.3h0M357.3 406h0M497.5 383.8h0" stroke="#c8d2f0" stroke-width="4" stroke-opacity="0.8"/><path d="M287.7 310.9h0" stroke="#c8d2f0" stroke-width="4"/><path d="M480 415.9h0" stroke="#c8dcf0" stroke-width="4" stroke-opacity="0.6"/><path d="M393.7 406.7h0M452.9 422.3h0M304.5 342.4h0" stroke="#c8dcf0" stroke-width="4" stroke-opacity="0.8"/><path d="M370.5 402h0" stroke="#c8dcfa" stroke-width="4" stroke-opacity="0.6"/><path d="M501 405.9h0" stroke="#c8dcfa" stroke-width="4" stroke-opacity="0.8"/><path d="M357 368.9h0M488.7 393.2h0" stroke="#c8dcff" stroke-width="4" stroke-opacity="0.8"/><path d="M440.2 414.1h0" stroke="#c8e6fa" stroke-width="4" stroke-opacity="0.6"/><path d="M292.2 328.2h0M304.9 341.8h0M502.8 400.3h0" stroke="#c8e6fa" stroke-width="4" stroke-opacity="0.8"/><path d="M326 359.6h0M444.4 391.1h0M455.9 390.1h0M364.7 402.9h0" stroke="#c8e6ff" stroke-width="4" stroke-opacity="0.6"/><path d="M357 369.3h0M399.1 397.9h0" stroke="#c8e6ff" stroke-width="4" stroke-opacity="0.8"/><path d="M455.9 404.7h0" stroke="#d2d2f0" stroke-width="4" stroke-opacity="0.8"/><path d="M403.8 413.7h0" stroke="#d2dcf0" stroke-width="4" stroke-opacity="0.8"/><path d="M500.1 382.6h0" stroke="#d2dcf0" stroke-width="4"/><path d="M370.6 393.5h0" stroke="#d2dcfa" stroke-width="4" stroke-opacity="0.8"/><path d="M328.7 365.2h0" stroke="#d2e6fa" stroke-width="4" stroke-opacity="0.6"/><path d="M387.1 406.1h0" stroke="#d2e6fa" stroke-width="4"/><path d="M354.4 374h0M322.1 354h0M389.8 391.7h0M529.1 356.7h0M344.7 381.3h0M332 366.7h0M465.1 389.2h0M431.6 398.9h0M328.4 370.7h0M437.4 396h0M397.9 405.9h0M349.8 365.6h0M441.5 421.9h0M435 413.9h0" stroke="#d2e6ff" stroke-width="4" stroke-opacity="0.6"/><path d="M345.3 372.1h0M411.1 416.5h0M452.8 415.6h0M455.4 399.7h0M473.7 387.9h0M341.4 385.7h0M499.8 388.9h0M321.3 348.2h0M454 388.2h0M476 388.4h0M432.7 395.3h0M496.4 402.7h0M403.2 414h0" stroke="#d2e6ff" stroke-width="4" stroke-opacity="0.8"/><path d="M484.3 403.4h0M425.5 389.8h0" stroke="#d2e6ff" stroke-width="4"/><path d="M355.6 370.4h0M316.9 353.2h0" stroke="#d2f0ff" stroke-width="4" stroke-opacity="0.6"/><path d="M347.4 363.1h0M401.9 391h0M473.8 387.4h0M383.5 377.2h0M365.7 373.3h0" stroke="#d2f0ff" stroke-width="4" stroke-opacity="0.8"/><path d="M477.3 391.4h0M371.1 373.8h0" stroke="#d2f0ff" stroke-width="4"/><path d="M452.6 388.5h0" stroke="#dcdcfa" stroke-width="4" stroke-opacity="0.6"/><path d="M348.7 273.2h0" stroke="#dcdcff" stroke-width="4" stroke-opacity="0.8"/><path d="M350.5 400.2h0" stroke="#dce6fa" stroke-width="4" stroke-opacity="0.8"/><path d="M385.5 397.3h0M441.4 416.8h0M445.2 401.9h0M447.8 403.5h0M344.7 390.2h0" stroke="#dce6ff" stroke-width="4" stroke-opacity="0.6"/><path d="M358.4 371.4h0M445.2 393h0M338 360.8h0M492.4 394.1h0M479 384.1h0M389.9 397.9h0M523 342.2h0M340.4 372.6h0" stroke="#dce6ff" stroke-width="4" stroke-opacity="0.8"/><path d="M484.7 393.6h0M514 316.4h0" stroke="#dce6ff" stroke-width="4"/><path d="M349.6 377.1h0M527.2 334.1h0M341.1 386h0M504 394h0M524 323.8h0M407.6 414.8h0" stroke="#dcf0ff" stroke-width="4" stroke-opacity="0.6"/><path d="M374.7 372.3h0M504.7 390.6h0" stroke="#dcf0ff" stroke-width="4" stroke-opacity="0.8"/><path d="M516.8 374.4h0M304.1 343.4h0" stroke="#dcf0ff" stroke-width="4"/><path d="M304.7 387.6h0M469 417.2h0M351.8 372.1h0M482.1 266.8h0M526.2 352.5h0M351.1 372h0M331.8 277.4h0M465.2 393.1h0M401.4 417h0M458.3 429.3h0M486 385.3h0M356.2 369.2h0M384.5 238.4h0M357.1 394.2h0M398.1 400.9h0M517.3 375.3h0M519.3 329.1h0M326.7 351.8h0M327.7 351.9h0M397.1 407.5h0M392.9 412.4h0M364.5 389.2h0M453.6 412.9h0M454.7 395.2h0M506.3 426.1h0M444.3 413.6h0M340.7 367.2h0M532.3 417.1h0M393.4 386.3h0M303.5 382.5h0M479.2 419.9h0M429.5 405.4h0M485.3 395.1h0M479.3 388.5h0M403.7 387.6h0M358.7 370h0M418.9 419.3h0M378.5 374.2h0M359.6 371h0M307.1 269.9h0M533.4 353.2h0M367.8 383h0M529 379.7h0M351.5 398.1h0M489.2 263.9h0M343.4 363h0M445 399.6h0M328.5 399.5h0M306.3 405.9h0M469.7 409.1h0M316.2 276.9h0M331.7 382.6h0M548 331.6h0M293.1 305.3h0M513.2 403.6h0M530.2 352.4h0M534.2 265.1h0M506.6 255.4h0M501.8 407.8h0M287.4 230.4h0M410.1 411.1h0M480 404.6h0M451.6 388.1h0M286.2 257.5h0M362.7 369.7h0M368.9 370.1h0M307 367.5h0M286 380.9h0M422.6 414.8h0M437.1 418.5h0M520.8 292.9h0M466.9 398.6h0M366.4 372.4h0M477.9 383.6h0M499 249.4h0M377.9 388.6h0M493.5 431.4h0M481.9 392.9h0M293.2 283h0M321.5 268.6h0" stroke="#e6f0ff" stroke-width="4"/><path d="M500.3 432.7h0" stroke="#3c4650" stroke-width="4.5" stroke-opacity="0.8"/><path d="M293.3 241.2h0M548.5 247.8h0M543.6 262.3h0" stroke="#465064" stroke-width="4.5" stroke-opacity="0.6"/><path d="M546.9 262.2h0" stroke="#505064" stroke-width="4.5" stroke-opacity="0.8"/><path d="M491.3 262h0" stroke="#50506e" stroke-width="4.5"/><path d="M542 255.4h0M443.4 232h0" stroke="#505a6e" stroke-width="4.5" stroke-opacity="0.6"/><path d="M494.2 235.8h0" stroke="#505a6e" stroke-width="4.5" stroke-opacity="0.8"/><path d="M478.7 249.5h0" stroke="#505a6e" stroke-width="4.5"/><path d="M501.3 432.5h0M458.1 242.9h0" stroke="#505a78" stroke-width="4.5" stroke-opacity="0.8"/><path d="M292 268.3h0M307.9 247.3h0" stroke="#506478" stroke-width="4.5" stroke-opacity="0.8"/><path d="M492.5 270.5h0M488.3 267.9h0M524.5 420.2h0" stroke="#5a6478" stroke-width="4.5" stroke-opacity="0.6"/><path d="M484.2 268.2h0M289.6 386.8h0M281.8 234.3h0" stroke="#5a6478" stroke-width="4.5" stroke-opacity="0.8"/><path d="M504.1 261h0" stroke="#5a6482" stroke-width="4.5" stroke-opacity="0.8"/><path d="M512.4 228.4h0M319.7 277.6h0" stroke="#5a6e82" stroke-width="4.5" stroke-opacity="0.8"/><path d="M283.7 253.1h0M348.7 254.1h0M359.2 231.5h0" stroke="#646e8c" stroke-width="4.5" stroke-opacity="0.6"/><path d="M357.3 232.5h0M514.4 305.1h0M546.8 326.3h0M517.8 292.7h0" stroke="#646e8c" stroke-width="4.5" stroke-opacity="0.8"/><path d="M531.7 333h0" stroke="#646e8c" stroke-width="4.5"/><path d="M528.5 271.5h0M383 238.7h0M316.5 240.2h0M364.6 229.5h0M548.8 412.1h0" stroke="#64788c" stroke-width="4.5" stroke-opacity="0.6"/><path d="M504 411.2h0" stroke="#64788c" stroke-width="4.5" stroke-opacity="0.8"/><path d="M540 421.8h0M484.6 265h0" stroke="#647896" stroke-width="4.5" stroke-opacity="0.6"/><path d="M498.4 256h0" stroke="#6e6e8c" stroke-width="4.5" stroke-opacity="0.6"/><path d="M294.7 385.7h0M313.9 243.5h0M500 267.4h0" stroke="#6e788c" stroke-width="4.5" stroke-opacity="0.6"/><path d="M281.1 368.6h0" stroke="#6e788c" stroke-width="4.5" stroke-opacity="0.8"/><path d="M534.1 331.5h0M540.6 420.6h0M327.6 379.9h0" stroke="#6e7896" stroke-width="4.5" stroke-opacity="0.6"/><path d="M521.6 295.2h0M537.7 298.1h0" stroke="#6e7896" stroke-width="4.5" stroke-opacity="0.8"/><path d="M499.9 408.2h0" stroke="#6e8296" stroke-width="4.5" stroke-opacity="0.6"/><path d="M532.3 379.8h0M298.9 387.6h0" stroke="#6e8296" stroke-width="4.5" stroke-opacity="0.8"/><path d="M271.3 356.6h0" stroke="#6e82a0" stroke-width="4.5" stroke-opacity="0.6"/><path d="M382.4 404h0M276.7 357.5h0" stroke="#6e82a0" stroke-width="4.5" stroke-opacity="0.8"/><path d="M332.4 427.8h0" stroke="#6e82a0" stroke-width="4.5"/><path d="M482.5 252.2h0M398.4 418.5h0" stroke="#788296" stroke-width="4.5" stroke-opacity="0.8"/><path d="M523.2 395h0" stroke="#7882a0" stroke-width="4.5" stroke-opacity="0.6"/><path d="M518.4 266.4h0M323.6 397.4h0" stroke="#7882a0" stroke-width="4.5" stroke-opacity="0.8"/><path d="M353.7 259.6h0" stroke="#788ca0" stroke-width="4.5" stroke-opacity="0.6"/><path d="M539.7 421h0M292.9 308.7h0M354.7 268.4h0" stroke="#788ca0" stroke-width="4.5" stroke-opacity="0.8"/><path d="M529.6 259.8h0" stroke="#788caa" stroke-width="4.5"/><path d="M530.6 376.7h0" stroke="#828ca0" stroke-width="4.5" stroke-opacity="0.6"/><path d="M464.2 414h0M366.7 266.5h0" stroke="#828ca0" stroke-width="4.5" stroke-opacity="0.8"/><path d="M495.6 278.1h0M533.2 415.6h0M529.6 389h0" stroke="#828caa" stroke-width="4.5" stroke-opacity="0.6"/><path d="M526.8 300.9h0M290.8 292.6h0" stroke="#828caa" stroke-width="4.5" stroke-opacity="0.8"/><path d="M502.4 415.2h0M289 314.8h0" stroke="#828caa" stroke-width="4.5"/><path d="M478.1 429.9h0" stroke="#8296aa" stroke-width="4.5" stroke-opacity="0.6"/><path d="M363.7 250.2h0M536.1 309.8h0" stroke="#8296b4" stroke-width="4.5" stroke-opacity="0.8"/><path d="M500 385.3h0" stroke="#8c96b4" stroke-width="4.5" stroke-opacity="0.6"/><path d="M531.1 337.8h0" stroke="#8c96b4" stroke-width="4.5" stroke-opacity="0.8"/><path d="M319.7 268.5h0M529.8 302.8h0" stroke="#8ca0b4" stroke-width="4.5" stroke-opacity="0.6"/><path d="M363.2 389.5h0" stroke="#8ca0b4" stroke-width="4.5" stroke-opacity="0.8"/><path d="M299 308.3h0" stroke="#8ca0be" stroke-width="4.5" stroke-opacity="0.6"/><path d="M303.2 343.5h0M505.3 421.7h0M358 269.3h0" stroke="#8ca0be" stroke-width="4.5" stroke-opacity="0.8"/><path d="M363.3 257.8h0" stroke="#8ca0be" stroke-width="4.5"/><path d="M537.1 390.5h0" stroke="#8caabe" stroke-width="4.5" stroke-opacity="0.8"/><path d="M529.2 309.2h0" stroke="#9696b4" stroke-width="4.5"/><path d="M498.6 424.1h0" stroke="#96a0b4" stroke-width="4.5" stroke-opacity="0.6"/><path d="M299.4 298h0M296.4 385.4h0" stroke="#96a0be" stroke-width="4.5" stroke-opacity="0.6"/><path d="M385.9 404.3h0M278.6 312.6h0M285.7 357.6h0" stroke="#96a0be" stroke-width="4.5" stroke-opacity="0.8"/><path d="M519.3 329.9h0" stroke="#96a0c8" stroke-width="4.5" stroke-opacity="0.8"/><path d="M290.1 299.7h0M517.2 379.2h0M536.1 390.6h0" stroke="#96aabe" stroke-width="4.5" stroke-opacity="0.6"/><path d="M373.5 261.7h0" stroke="#96aabe" stroke-width="4.5" stroke-opacity="0.8"/><path d="M393.7 389.5h0" stroke="#96aabe" stroke-width="4.5"/><path d="M308.9 399.2h0M528.5 390.8h0" stroke="#96aac8" stroke-width="4.5" stroke-opacity="0.6"/><path d="M503.1 383.2h0" stroke="#96aac8" stroke-width="4.5"/><path d="M489.8 393.7h0M283.2 294.1h0" stroke="#a0a0be" stroke-width="4.5" stroke-opacity="0.8"/><path d="M395.4 399.8h0M469.4 419.4h0" stroke="#a0aabe" stroke-width="4.5" stroke-opacity="0.6"/><path d="M292.7 289.1h0M328.7 366.7h0" stroke="#a0aac8" stroke-width="4.5" stroke-opacity="0.6"/><path d="M441.6 420.9h0M371.5 261.6h0M303.8 283.2h0" stroke="#a0aac8" stroke-width="4.5" stroke-opacity="0.8"/><path d="M290.3 289.2h0" stroke="#a0b4c8" stroke-width="4.5" stroke-opacity="0.8"/><path d="M400.6 417.9h0M456.9 409.3h0M483.3 409.2h0M289.1 305.3h0" stroke="#a0b4d2" stroke-width="4.5" stroke-opacity="0.6"/><path d="M446.2 388.4h0" stroke="#a0b4d2" stroke-width="4.5" stroke-opacity="0.8"/><path d="M456.8 416.2h0" stroke="#a0bed2" stroke-width="4.5" stroke-opacity="0.6"/><path d="M521 384.8h0" stroke="#aab4d2" stroke-width="4.5" stroke-opacity="0.6"/><path d="M284.5 373.4h0M299.2 280.9h0M516.5 314.9h0" stroke="#aab4d2" stroke-width="4.5" stroke-opacity="0.8"/><path d="M306.4 337h0" stroke="#aabed2" stroke-width="4.5" stroke-opacity="0.6"/><path d="M499.1 396.3h0M450.4 387.1h0M472.9 397.1h0" stroke="#aabedc" stroke-width="4.5" stroke-opacity="0.6"/><path d="M307.4 365.7h0M277.5 286.9h0" stroke="#aabedc" stroke-width="4.5" stroke-opacity="0.8"/><path d="M377.4 393.2h0" stroke="#aac8dc" stroke-width="4.5" stroke-opacity="0.8"/><path d="M444.5 423.7h0" stroke="#aac8dc" stroke-width="4.5"/><path d="M527.6 346.9h0" stroke="#b4b4d2" stroke-width="4.5" stroke-opacity="0.6"/><path d="M387 407.6h0" stroke="#b4bedc" stroke-width="4.5" stroke-opacity="0.6"/><path d="M446.7 388.5h0M425 404.2h0" stroke="#b4bedc" stroke-width="4.5" stroke-opacity="0.8"/><path d="M455.9 393.3h0" stroke="#b4c8dc" stroke-width="4.5" stroke-opacity="0.8"/><path d="M330.6 367.5h0" stroke="#b4c8e6" stroke-width="4.5" stroke-opacity="0.6"/><path d="M351.1 404.4h0" stroke="#b4c8e6" stroke-width="4.5" stroke-opacity="0.8"/><path d="M349.6 397.1h0" stroke="#b4d2e6" stroke-width="4.5" stroke-opacity="0.6"/><path d="M428.2 411h0" stroke="#b4d2e6" stroke-width="4.5" stroke-opacity="0.8"/><path d="M345.3 373.8h0" stroke="#bec8dc" stroke-width="4.5" stroke-opacity="0.8"/><path d="M518.9 321.7h0" stroke="#bec8e6" stroke-width="4.5" stroke-opacity="0.6"/><path d="M490.4 411.4h0M366.5 406.9h0" stroke="#bec8e6" stroke-width="4.5" stroke-opacity="0.8"/><path d="M337.8 265.2h0" stroke="#bed2e6" stroke-width="4.5" stroke-opacity="0.6"/><path d="M529 335h0M485.3 408.4h0" stroke="#bed2e6" stroke-width="4.5" stroke-opacity="0.8"/><path d="M449.9 400.2h0M393.3 397.9h0" stroke="#bed2f0" stroke-width="4.5" stroke-opacity="0.6"/><path d="M316.6 282.6h0" stroke="#c8c8e6" stroke-width="4.5" stroke-opacity="0.8"/><path d="M407.5 418.7h0" stroke="#c8d2f0" stroke-width="4.5" stroke-opacity="0.6"/><path d="M398.6 399.9h0" stroke="#c8d2f0" stroke-width="4.5"/><path d="M396.9 399.2h0M420.1 408.1h0" stroke="#c8dcf0" stroke-width="4.5" stroke-opacity="0.8"/><path d="M404.7 417.3h0M290.8 307.7h0" stroke="#c8dcfa" stroke-width="4.5" stroke-opacity="0.8"/><path d="M311.7 342.2h0" stroke="#c8dcff" stroke-width="4.5" stroke-opacity="0.6"/><path d="M282.4 315.7h0M356 402.7h0" stroke="#c8e6fa" stroke-width="4.5" stroke-opacity="0.6"/><path d="M470.4 392.3h0" stroke="#c8e6fa" stroke-width="4.5" stroke-opacity="0.8"/><path d="M338.9 368.8h0" stroke="#c8e6ff" stroke-width="4.5" stroke-opacity="0.6"/><path d="M454.3 397.4h0" stroke="#c8e6ff" stroke-width="4.5" stroke-opacity="0.8"/><path d="M436 390.6h0" stroke="#c8f0ff" stroke-width="4.5" stroke-opacity="0.6"/><path d="M435.7 417h0" stroke="#c8f0ff" stroke-width="4.5" stroke-opacity="0.8"/><path d="M286.8 321.8h0" stroke="#d2dcfa" stroke-width="4.5" stroke-opacity="0.6"/><path d="M327.1 362.3h0M440.1 416.9h0" stroke="#d2e6fa" stroke-width="4.5" stroke-opacity="0.8"/><path d="M410.7 398h0M406.7 416.4h0" stroke="#d2e6ff" stroke-width="4.5" stroke-opacity="0.6"/><path d="M523.2 353h0M406.8 416.9h0M484.7 405.1h0M358.5 384.6h0M305.6 343.3h0M471.4 399.9h0M479.8 384.4h0" stroke="#d2e6ff" stroke-width="4.5" stroke-opacity="0.8"/><path d="M403.4 398.3h0M514.6 369.9h0M370 372.8h0" stroke="#d2e6ff" stroke-width="4.5"/><path d="M387.2 392h0M311.4 346.9h0M377.2 409.2h0" stroke="#d2f0ff" stroke-width="4.5" stroke-opacity="0.6"/><path d="M386.1 389.9h0M344.4 387.6h0" stroke="#d2f0ff" stroke-width="4.5" stroke-opacity="0.8"/><path d="M427.8 413.5h0" stroke="#dcdcff" stroke-width="4.5" stroke-opacity="0.6"/><path d="M350.7 372.1h0" stroke="#dce6fa" stroke-width="4.5" stroke-opacity="0.6"/><path d="M478.4 405.6h0M339.2 371.2h0M403.3 388.8h0M515.8 371.4h0M363.5 395.8h0M307 340.2h0" stroke="#dce6ff" stroke-width="4.5" stroke-opacity="0.6"/><path d="M340.2 363.7h0M333.2 361.5h0" stroke="#dce6ff" stroke-width="4.5" stroke-opacity="0.8"/><path d="M486.8 398.9h0" stroke="#dcf0ff" stroke-width="4.5" stroke-opacity="0.6"/><path d="M387.9 407.9h0M472.7 388.2h0" stroke="#dcf0ff" stroke-width="4.5" stroke-opacity="0.8"/><path d="M367.4 387.5h0M327.3 362.3h0M375.1 384.7h0M526 360.1h0M323.6 265.8h0M325.2 362.3h0M467.7 408.7h0M312.8 292h0M446 419.1h0M338.6 361.6h0M387.1 383.6h0M371.2 387.9h0M438.7 418.4h0M454.8 396.9h0M344.5 401.7h0M522.8 413.9h0M292.6 333.8h0M361.5 248.1h0M447.2 390.2h0M288.7 293.7h0M322 279.7h0" stroke="#e6f0ff" stroke-width="4.5"/></g><path d="M302.6,302.9C302.1,304.4 300.4,309.1 299.5,312C298.6,314.9 297.7,317.8 297.4,320C297.1,322.2 297.1,324 297.6,325.5C298.1,327 299.2,328 300.5,328.8C301.8,329.6 303.9,329.6 305.6,330.5C307.3,331.4 309.1,332.6 310.8,334C312.5,335.4 314,337.1 315.7,339C317.4,340.9 319.2,343.8 321,345.5C322.8,347.2 324.6,348.2 326.5,349.5C328.4,350.8 330.4,352.2 332.5,353.5C334.6,354.8 335.8,355.9 339,357.5C342.2,359.1 347.4,361.3 351.7,362.9C355.9,364.4 360,365.2 364.5,366.8C369,368.4 374.9,370.7 378.8,372.5C382.8,374.3 385.1,375.9 388.2,377.6C391.3,379.3 394.3,381.3 397.3,382.7C400.3,384.1 403.4,385.2 406.4,386C409.4,386.8 412.5,386.9 415.5,387.3C418.5,387.7 421.5,388 424.5,388.2C427.5,388.4 430.6,388.6 433.6,388.5C436.6,388.4 439.7,388.1 442.7,387.8C445.7,387.5 448.8,387 451.8,386.7C454.8,386.4 457.9,386.1 460.9,385.8C463.9,385.5 466.4,385.6 470,385C473.6,384.4 478.2,383.2 482.4,382C486.6,380.8 491.2,379.2 495.1,377.5C499,375.8 502.7,373.8 506,372C509.3,370.2 512.7,368.6 515.1,366.5C517.5,364.4 519.1,361.7 520.5,359.3C521.9,356.9 523,354.4 523.3,352C523.6,349.6 523.5,348 522.4,344.7C521.3,341.4 518.7,335.9 516.9,332C515.1,328.1 513.4,324.4 511.5,321.1C509.6,317.8 507,315.3 505.5,312C504,308.7 502.9,302.9 502.4,301.1" fill="none" stroke="#8a9cc4" stroke-width="11" stroke-opacity="0.4" filter="url(#bd25)"/><clipPath id="nc"><path d="M386.4,230C386.3,231.7 386.1,237 385.8,240C385.5,243 385,245.8 384.5,248C384,250.2 383.9,251.5 382.7,253.5C381.5,255.5 379.6,257.6 377.5,260C375.4,262.4 372.8,265.9 370,268C367.2,270.1 364.1,271.3 361,272.5C357.9,273.7 354.8,274.2 351.7,275C348.6,275.8 345.6,276.6 342.6,277.5C339.6,278.4 336.5,279.3 333.5,280.7C330.5,282.1 327.5,284 324.5,285.6C321.5,287.2 318.1,288.5 315.4,290.2C312.7,291.9 310.2,293.5 308.1,295.6C306,297.7 304,300.2 302.6,302.9C301.2,305.6 300.4,309.1 299.5,312C298.6,314.9 297.7,317.8 297.4,320C297.1,322.2 297.1,324 297.6,325.5C298.1,327 299.2,328 300.5,328.8C301.8,329.6 303.9,329.6 305.6,330.5C307.3,331.4 309.1,332.6 310.8,334C312.5,335.4 314,337.1 315.7,339C317.4,340.9 319.2,343.8 321,345.5C322.8,347.2 324.6,348.2 326.5,349.5C328.4,350.8 330.4,352.2 332.5,353.5C334.6,354.8 335.8,355.9 339,357.5C342.2,359.1 347.4,361.3 351.7,362.9C355.9,364.4 360,365.2 364.5,366.8C369,368.4 374.9,370.7 378.8,372.5C382.8,374.3 385.1,375.9 388.2,377.6C391.3,379.3 394.3,381.3 397.3,382.7C400.3,384.1 403.4,385.2 406.4,386C409.4,386.8 412.5,386.9 415.5,387.3C418.5,387.7 421.5,388 424.5,388.2C427.5,388.4 430.6,388.6 433.6,388.5C436.6,388.4 439.7,388.1 442.7,387.8C445.7,387.5 448.8,387 451.8,386.7C454.8,386.4 457.9,386.1 460.9,385.8C463.9,385.5 466.4,385.6 470,385C473.6,384.4 478.2,383.2 482.4,382C486.6,380.8 491.2,379.2 495.1,377.5C499,375.8 502.7,373.8 506,372C509.3,370.2 512.7,368.6 515.1,366.5C517.5,364.4 519.1,361.7 520.5,359.3C521.9,356.9 523,354.4 523.3,352C523.6,349.6 523.5,348 522.4,344.7C521.3,341.4 518.7,335.9 516.9,332C515.1,328.1 513.4,324.4 511.5,321.1C509.6,317.8 507,315.3 505.5,312C504,308.7 503.4,304.4 502.4,301.1C501.4,297.8 500.5,295 499.6,292C498.7,289 498.2,285.3 496.9,282.9C495.5,280.5 493.9,279.6 491.5,277.5C489.1,275.4 485.4,272.9 482.4,270.2C479.4,267.5 476.3,264.1 473.3,261.1C470.3,258.1 467.2,254.7 464.2,252C461.2,249.3 458.1,246.9 455.1,244.7C452.1,242.4 448.7,240.9 446,238.5C443.3,236.1 440.2,231.4 439.1,230L439,220L386,220Z"/></clipPath><path d="M386.4,230C386.3,231.7 386.1,237 385.8,240C385.5,243 385,245.8 384.5,248C384,250.2 383.9,251.5 382.7,253.5C381.5,255.5 379.6,257.6 377.5,260C375.4,262.4 372.8,265.9 370,268C367.2,270.1 364.1,271.3 361,272.5C357.9,273.7 354.8,274.2 351.7,275C348.6,275.8 345.6,276.6 342.6,277.5C339.6,278.4 336.5,279.3 333.5,280.7C330.5,282.1 327.5,284 324.5,285.6C321.5,287.2 318.1,288.5 315.4,290.2C312.7,291.9 310.2,293.5 308.1,295.6C306,297.7 304,300.2 302.6,302.9C301.2,305.6 300.4,309.1 299.5,312C298.6,314.9 297.7,317.8 297.4,320C297.1,322.2 297.1,324 297.6,325.5C298.1,327 299.2,328 300.5,328.8C301.8,329.6 303.9,329.6 305.6,330.5C307.3,331.4 309.1,332.6 310.8,334C312.5,335.4 314,337.1 315.7,339C317.4,340.9 319.2,343.8 321,345.5C322.8,347.2 324.6,348.2 326.5,349.5C328.4,350.8 330.4,352.2 332.5,353.5C334.6,354.8 335.8,355.9 339,357.5C342.2,359.1 347.4,361.3 351.7,362.9C355.9,364.4 360,365.2 364.5,366.8C369,368.4 374.9,370.7 378.8,372.5C382.8,374.3 385.1,375.9 388.2,377.6C391.3,379.3 394.3,381.3 397.3,382.7C400.3,384.1 403.4,385.2 406.4,386C409.4,386.8 412.5,386.9 415.5,387.3C418.5,387.7 421.5,388 424.5,388.2C427.5,388.4 430.6,388.6 433.6,388.5C436.6,388.4 439.7,388.1 442.7,387.8C445.7,387.5 448.8,387 451.8,386.7C454.8,386.4 457.9,386.1 460.9,385.8C463.9,385.5 466.4,385.6 470,385C473.6,384.4 478.2,383.2 482.4,382C486.6,380.8 491.2,379.2 495.1,377.5C499,375.8 502.7,373.8 506,372C509.3,370.2 512.7,368.6 515.1,366.5C517.5,364.4 519.1,361.7 520.5,359.3C521.9,356.9 523,354.4 523.3,352C523.6,349.6 523.5,348 522.4,344.7C521.3,341.4 518.7,335.9 516.9,332C515.1,328.1 513.4,324.4 511.5,321.1C509.6,317.8 507,315.3 505.5,312C504,308.7 503.4,304.4 502.4,301.1C501.4,297.8 500.5,295 499.6,292C498.7,289 498.2,285.3 496.9,282.9C495.5,280.5 493.9,279.6 491.5,277.5C489.1,275.4 485.4,272.9 482.4,270.2C479.4,267.5 476.3,264.1 473.3,261.1C470.3,258.1 467.2,254.7 464.2,252C461.2,249.3 458.1,246.9 455.1,244.7C452.1,242.4 448.7,240.9 446,238.5C443.3,236.1 440.2,231.4 439.1,230L439,220L386,220Z" fill="url(#ng)"/><g clip-path="url(#nc)"><g filter="url(#bd08)" fill="none" stroke-linecap="round"><path d="M455.4 280.1h0M407.1 374.8h0M440.3 246.1h0M398 372.2h0" stroke="#283caa" stroke-width="2" stroke-opacity="0.4"/><path d="M496.7 361.9h0M394.7 291.8h0M513.1 326.8h0" stroke="#283cb4" stroke-width="2" stroke-opacity="0.4"/><path d="M481.6 349.3h0" stroke="#283cbe" stroke-width="2" stroke-opacity="0.2"/><path d="M440.8 242.2h0M339.2 308.1h0M479.8 267.7h0M490.3 321.8h0" stroke="#283cbe" stroke-width="2" stroke-opacity="0.4"/><path d="M475.4 335.2h0M353.4 355.2h0M483.4 351.8h0M346.7 293.1h0" stroke="#283cc8" stroke-width="2" stroke-opacity="0.4"/><path d="M372.7 316.4h0M439.9 239.9h0" stroke="#283cd2" stroke-width="2" stroke-opacity="0.4"/><path d="M398.2 367.8h0M481.9 358.3h0M506.3 351.9h0" stroke="#283cdc" stroke-width="2" stroke-opacity="0.4"/><path d="M403.5 368.5h0" stroke="#283ce6" stroke-width="2" stroke-opacity="0.2"/><path d="M497.9 295.1h0" stroke="#283ce6" stroke-width="2" stroke-opacity="0.4"/><path d="M476.9 365.1h0M471.7 345.4h0" stroke="#2846aa" stroke-width="2" stroke-opacity="0.4"/><path d="M420.3 344.3h0M497.2 298.7h0" stroke="#2846be" stroke-width="2" stroke-opacity="0.4"/><path d="M341.3 354.8h0" stroke="#2846c8" stroke-width="2" stroke-opacity="0.2"/><path d="M439 236.1h0M424.4 250h0M328.8 311.2h0" stroke="#2846c8" stroke-width="2" stroke-opacity="0.4"/><path d="M492.9 357.3h0" stroke="#2846d2" stroke-width="2" stroke-opacity="0.2"/><path d="M334.4 342.4h0" stroke="#2846d2" stroke-width="2" stroke-opacity="0.4"/><path d="M396.2 347.2h0" stroke="#2846dc" stroke-width="2" stroke-opacity="0.4"/><path d="M466.4 257.9h0" stroke="#2846e6" stroke-width="2" stroke-opacity="0.2"/><path d="M389.3 331.1h0M399.1 294.1h0M343.9 349.2h0" stroke="#2850b4" stroke-width="2" stroke-opacity="0.4"/><path d="M437.1 341.8h0" stroke="#2850be" stroke-width="2" stroke-opacity="0.2"/><path d="M371.6 354.9h0M499.4 351.5h0M452.1 343.6h0" stroke="#2850be" stroke-width="2" stroke-opacity="0.4"/><path d="M424.1 344.2h0M362.1 316.3h0M400 360.2h0M327.9 327.1h0M305.3 303.1h0" stroke="#2850c8" stroke-width="2" stroke-opacity="0.4"/><path d="M426 366.2h0M401.5 245.3h0M365.1 351.7h0" stroke="#2850d2" stroke-width="2" stroke-opacity="0.4"/><path d="M376.8 348.8h0" stroke="#2850dc" stroke-width="2" stroke-opacity="0.4"/><path d="M515.9 335h0" stroke="#2850e6" stroke-width="2" stroke-opacity="0.2"/><path d="M367.8 284.4h0" stroke="#2850e6" stroke-width="2" stroke-opacity="0.4"/><path d="M436 292.5h0" stroke="#285ab4" stroke-width="2" stroke-opacity="0.2"/><path d="M498.5 354.6h0M422.4 250.8h0M520.7 358.8h0" stroke="#285ab4" stroke-width="2" stroke-opacity="0.4"/><path d="M346 333.8h0" stroke="#285abe" stroke-width="2" stroke-opacity="0.2"/><path d="M489.1 354.3h0M483.4 366.3h0M379.8 327.5h0" stroke="#285abe" stroke-width="2" stroke-opacity="0.4"/><path d="M409.1 383h0M398.3 301.4h0" stroke="#285ac8" stroke-width="2" stroke-opacity="0.4"/><path d="M317.5 299h0" stroke="#285ad2" stroke-width="2" stroke-opacity="0.2"/><path d="M387.2 362h0M302.7 309.1h0" stroke="#285ad2" stroke-width="2" stroke-opacity="0.4"/><path d="M334.7 300h0" stroke="#285adc" stroke-width="2" stroke-opacity="0.2"/><path d="M400.1 319.5h0M301.8 316.8h0M459.9 343.3h0M416.4 366h0M419.4 380.5h0" stroke="#285adc" stroke-width="2" stroke-opacity="0.4"/><path d="M512.5 364.7h0" stroke="#285ae6" stroke-width="2" stroke-opacity="0.2"/><path d="M348.9 286.9h0" stroke="#285ae6" stroke-width="2" stroke-opacity="0.4"/><path d="M365 366.8h0" stroke="#2864aa" stroke-width="2" stroke-opacity="0.2"/><path d="M382.1 315.2h0" stroke="#2864aa" stroke-width="2" stroke-opacity="0.4"/><path d="M336 345h0" stroke="#2864be" stroke-width="2" stroke-opacity="0.2"/><path d="M447.5 267.7h0M451.8 242.5h0M367.2 356.2h0M361.6 337.9h0M430.8 386.4h0" stroke="#323cb4" stroke-width="2" stroke-opacity="0.4"/><path d="M406.5 267.2h0" stroke="#323cbe" stroke-width="2" stroke-opacity="0.2"/><path d="M362.2 316.8h0M521.5 345.5h0" stroke="#323cbe" stroke-width="2" stroke-opacity="0.4"/><path d="M332.6 317.4h0M507.9 334.4h0" stroke="#323cc8" stroke-width="2" stroke-opacity="0.4"/><path d="M444.1 262h0M397.4 358.8h0M305.7 311.9h0M392.9 280h0" stroke="#323cdc" stroke-width="2" stroke-opacity="0.4"/><path d="M390.4 377.7h0" stroke="#323ce6" stroke-width="2" stroke-opacity="0.4"/><path d="M346.3 302.3h0" stroke="#3246b4" stroke-width="2" stroke-opacity="0.2"/><path d="M398.1 366.2h0" stroke="#3246b4" stroke-width="2" stroke-opacity="0.4"/><path d="M363.8 352.5h0" stroke="#3246be" stroke-width="2" stroke-opacity="0.2"/><path d="M512.8 335.7h0" stroke="#3246be" stroke-width="2" stroke-opacity="0.4"/><path d="M476.1 270.5h0" stroke="#3246c8" stroke-width="2" stroke-opacity="0.2"/><path d="M502.6 315.6h0M328.1 346.7h0M318.9 295.1h0" stroke="#3246c8" stroke-width="2" stroke-opacity="0.4"/><path d="M436.7 358.2h0M305.3 319.8h0" stroke="#3246d2" stroke-width="2" stroke-opacity="0.4"/><path d="M462.3 312h0" stroke="#3246dc" stroke-width="2" stroke-opacity="0.2"/><path d="M406.4 341.1h0M378.8 322.2h0M355.6 320.2h0" stroke="#3246dc" stroke-width="2" stroke-opacity="0.4"/><path d="M352.8 355.6h0" stroke="#3246e6" stroke-width="2" stroke-opacity="0.2"/><path d="M386.2 278.4h0" stroke="#3246e6" stroke-width="2" stroke-opacity="0.4"/><path d="M387 308.2h0" stroke="#3250aa" stroke-width="2" stroke-opacity="0.4"/><path d="M483.1 316.1h0" stroke="#3250b4" stroke-width="2" stroke-opacity="0.2"/><path d="M326.5 337.9h0M509.1 355.2h0" stroke="#3250b4" stroke-width="2" stroke-opacity="0.4"/><path d="M300.9 328.5h0M482.3 370.6h0M521.2 347h0M358.9 340.8h0" stroke="#3250be" stroke-width="2" stroke-opacity="0.2"/><path d="M440.7 336.8h0M417.8 376h0M479.2 325h0M404.1 316.1h0M341.8 346.7h0" stroke="#3250c8" stroke-width="2" stroke-opacity="0.4"/><path d="M433.3 297.1h0M326.8 330.1h0M389.9 378h0M442.4 334.1h0M378.7 271.3h0" stroke="#3250d2" stroke-width="2" stroke-opacity="0.4"/><path d="M456.8 355.6h0M513.5 360.9h0M399.5 301.6h0" stroke="#3250dc" stroke-width="2" stroke-opacity="0.2"/><path d="M512.3 335h0" stroke="#3250dc" stroke-width="2" stroke-opacity="0.4"/><path d="M438.4 386h0" stroke="#3250e6" stroke-width="2" stroke-opacity="0.2"/><path d="M443.4 237.3h0" stroke="#3250e6" stroke-width="2" stroke-opacity="0.4"/><path d="M391.9 376.3h0" stroke="#325ab4" stroke-width="2" stroke-opacity="0.2"/><path d="M336.4 336.1h0M508.4 368h0M342.3 314.5h0M330.8 301h0M480.9 342.8h0M490.8 365.1h0M316.9 295h0" stroke="#325ab4" stroke-width="2" stroke-opacity="0.4"/><path d="M341 328.4h0" stroke="#325abe" stroke-width="2" stroke-opacity="0.2"/><path d="M335.4 321.6h0" stroke="#325abe" stroke-width="2" stroke-opacity="0.4"/><path d="M473.9 336.8h0" stroke="#325ac8" stroke-width="2" stroke-opacity="0.4"/><path d="M327.1 294.6h0M491.8 366.1h0M310.7 294.9h0M343.1 281.2h0M509.9 326.3h0" stroke="#325ad2" stroke-width="2" stroke-opacity="0.4"/><path d="M381.7 308.2h0M336.1 342h0" stroke="#325adc" stroke-width="2" stroke-opacity="0.2"/><path d="M477.3 379.2h0M373.2 347.3h0M486.9 295.1h0" stroke="#325adc" stroke-width="2" stroke-opacity="0.4"/><path d="M452.1 373.7h0M448.3 358.9h0" stroke="#325ae6" stroke-width="2" stroke-opacity="0.4"/><path d="M442.3 259.9h0" stroke="#3264be" stroke-width="2" stroke-opacity="0.4"/><path d="M367.5 326.1h0" stroke="#3264dc" stroke-width="2" stroke-opacity="0.2"/><path d="M347.6 323.3h0M404 241h0" stroke="#3c3caa" stroke-width="2" stroke-opacity="0.4"/><path d="M359.4 313.7h0" stroke="#3c3cb4" stroke-width="2" stroke-opacity="0.2"/><path d="M514 342.5h0M491 311.5h0M310 333h0M464.6 359.7h0" stroke="#3c3cb4" stroke-width="2" stroke-opacity="0.4"/><path d="M389.1 273.7h0" stroke="#3c3cbe" stroke-width="2" stroke-opacity="0.2"/><path d="M484.9 316.9h0" stroke="#3c3cbe" stroke-width="2" stroke-opacity="0.4"/><path d="M479.6 339.2h0" stroke="#3c3cc8" stroke-width="2" stroke-opacity="0.2"/><path d="M468.9 299.6h0M496.4 367.3h0M420.5 247.8h0" stroke="#3c3cc8" stroke-width="2" stroke-opacity="0.4"/><path d="M456.4 330h0" stroke="#3c3cd2" stroke-width="2" stroke-opacity="0.4"/><path d="M422.6 385.8h0M458.8 268.6h0" stroke="#3c3cdc" stroke-width="2" stroke-opacity="0.2"/><path d="M466.5 260.6h0" stroke="#3c3cdc" stroke-width="2" stroke-opacity="0.4"/><path d="M484.5 375.9h0M482.5 293.1h0" stroke="#3c3ce6" stroke-width="2" stroke-opacity="0.4"/><path d="M482.4 293.7h0" stroke="#3c46aa" stroke-width="2" stroke-opacity="0.4"/><path d="M323.9 309.4h0" stroke="#3c46b4" stroke-width="2" stroke-opacity="0.2"/><path d="M473.3 304h0M328.1 296.4h0" stroke="#3c46b4" stroke-width="2" stroke-opacity="0.4"/><path d="M509.4 339.7h0M455.1 258.4h0M487.4 296.9h0" stroke="#3c46be" stroke-width="2" stroke-opacity="0.4"/><path d="M486.5 291.4h0" stroke="#3c46c8" stroke-width="2" stroke-opacity="0.2"/><path d="M430.6 385.8h0" stroke="#3c46c8" stroke-width="2" stroke-opacity="0.4"/><path d="M326.2 296.5h0" stroke="#3c46d2" stroke-width="2" stroke-opacity="0.4"/><path d="M459.5 357.6h0" stroke="#3c46dc" stroke-width="2" stroke-opacity="0.2"/><path d="M488.4 341.5h0M502.1 316.5h0" stroke="#3c46dc" stroke-width="2" stroke-opacity="0.4"/><path d="M398.3 289.2h0" stroke="#3c50b4" stroke-width="2" stroke-opacity="0.2"/><path d="M414.4 250.1h0M437.5 346h0M519.9 349.6h0" stroke="#3c50b4" stroke-width="2" stroke-opacity="0.4"/><path d="M383.9 294.4h0" stroke="#3c50be" stroke-width="2" stroke-opacity="0.4"/><path d="M426.9 280.2h0" stroke="#3c50c8" stroke-width="2" stroke-opacity="0.2"/><path d="M404.2 355.9h0M474.5 359.7h0M335.3 286.3h0" stroke="#3c50c8" stroke-width="2" stroke-opacity="0.4"/><path d="M449.4 260.2h0M405.7 352.4h0" stroke="#3c50d2" stroke-width="2" stroke-opacity="0.2"/><path d="M329 299.2h0M382.9 356.4h0M318 302.6h0" stroke="#3c50d2" stroke-width="2" stroke-opacity="0.4"/><path d="M371.6 280.1h0M461.4 375.7h0" stroke="#3c50dc" stroke-width="2" stroke-opacity="0.4"/><path d="M402.5 269.7h0M475.4 373.9h0" stroke="#3c50e6" stroke-width="2" stroke-opacity="0.4"/><path d="M341.2 279.9h0" stroke="#3c5aaa" stroke-width="2" stroke-opacity="0.2"/><path d="M426.3 252.1h0" stroke="#3c5aaa" stroke-width="2" stroke-opacity="0.4"/><path d="M421.9 342.3h0" stroke="#3c5ab4" stroke-width="2" stroke-opacity="0.2"/><path d="M451.7 384.4h0" stroke="#3c5ab4" stroke-width="2" stroke-opacity="0.4"/><path d="M306 330.5h0M462.9 267.2h0M412 376.5h0M485.9 277.8h0" stroke="#3c5abe" stroke-width="2" stroke-opacity="0.4"/><path d="M365.1 298.3h0" stroke="#3c5ac8" stroke-width="2" stroke-opacity="0.2"/><path d="M458.5 268.2h0M506.1 313.9h0" stroke="#3c5ac8" stroke-width="2" stroke-opacity="0.4"/><path d="M340 343h0M377.5 274h0M449.7 259.1h0" stroke="#3c5ad2" stroke-width="2" stroke-opacity="0.4"/><path d="M505.8 339.4h0M460.2 335.3h0" stroke="#3c5adc" stroke-width="2" stroke-opacity="0.4"/><path d="M355.4 325.3h0" stroke="#3c5ae6" stroke-width="2" stroke-opacity="0.2"/><path d="M391.5 378.3h0" stroke="#463cb4" stroke-width="2" stroke-opacity="0.2"/><path d="M508.2 325.9h0" stroke="#463cb4" stroke-width="2" stroke-opacity="0.4"/><path d="M327.7 328h0" stroke="#463cbe" stroke-width="2" stroke-opacity="0.4"/><path d="M371.4 305h0M463.3 384.2h0" stroke="#463cdc" stroke-width="2" stroke-opacity="0.2"/><path d="M437.2 280.8h0M481.2 318.9h0" stroke="#463cdc" stroke-width="2" stroke-opacity="0.4"/><path d="M510.1 349.5h0" stroke="#463ce6" stroke-width="2" stroke-opacity="0.2"/><path d="M458.8 336.9h0" stroke="#463ce6" stroke-width="2" stroke-opacity="0.4"/><path d="M322.3 342.7h0" stroke="#4646aa" stroke-width="2" stroke-opacity="0.2"/><path d="M475.3 357.7h0M343.8 359.1h0" stroke="#4646aa" stroke-width="2" stroke-opacity="0.4"/><path d="M497.7 365h0" stroke="#4646b4" stroke-width="2" stroke-opacity="0.4"/><path d="M410.1 235.4h0" stroke="#4646d2" stroke-width="2" stroke-opacity="0.4"/><path d="M438.5 242.7h0" stroke="#4646dc" stroke-width="2" stroke-opacity="0.4"/><path d="M495.9 353.4h0" stroke="#4650b4" stroke-width="2" stroke-opacity="0.4"/><path d="M468.7 384.4h0" stroke="#4650be" stroke-width="2" stroke-opacity="0.2"/><path d="M442.3 368.8h0M465.5 298.7h0M447.8 270.9h0" stroke="#4650be" stroke-width="2" stroke-opacity="0.4"/><path d="M390.4 259.4h0M470.6 338.6h0" stroke="#4650c8" stroke-width="2" stroke-opacity="0.4"/><path d="M496 356.3h0" stroke="#4650d2" stroke-width="2" stroke-opacity="0.2"/><path d="M363.3 334.9h0" stroke="#4650d2" stroke-width="2" stroke-opacity="0.4"/><path d="M342.5 299.4h0M349.1 298h0M313.7 312.1h0" stroke="#4650dc" stroke-width="2" stroke-opacity="0.4"/><path d="M443.3 251.1h0" stroke="#465aaa" stroke-width="2" stroke-opacity="0.4"/><path d="M427.8 235.2h0" stroke="#465ab4" stroke-width="2" stroke-opacity="0.2"/><path d="M501 355.9h0M354 279h0M415.6 352.4h0" stroke="#465ab4" stroke-width="2" stroke-opacity="0.4"/><path d="M359.8 337.2h0M343.7 356.9h0" stroke="#465abe" stroke-width="2" stroke-opacity="0.4"/><path d="M307.4 306.7h0" stroke="#465ac8" stroke-width="2" stroke-opacity="0.4"/><path d="M359.5 285h0" stroke="#465ad2" stroke-width="2" stroke-opacity="0.2"/><path d="M488.5 328.5h0M461 324.5h0M493.6 343.5h0M478.2 362.5h0" stroke="#283caa" stroke-width="2.5" stroke-opacity="0.4"/><path d="M343.3 315.3h0" stroke="#283cb4" stroke-width="2.5" stroke-opacity="0.2"/><path d="M492.5 323.8h0M456.4 276.9h0" stroke="#283cb4" stroke-width="2.5" stroke-opacity="0.4"/><path d="M398.9 308.2h0" stroke="#283cbe" stroke-width="2.5" stroke-opacity="0.2"/><path d="M353.9 328.7h0M442.2 387.8h0M398.2 372.5h0M509.6 320h0M482.1 293h0" stroke="#283cbe" stroke-width="2.5" stroke-opacity="0.4"/><path d="M451.3 243.3h0" stroke="#283cc8" stroke-width="2.5" stroke-opacity="0.4"/><path d="M437.8 351.8h0" stroke="#283cd2" stroke-width="2.5" stroke-opacity="0.2"/><path d="M430.8 358.4h0M311.9 293.8h0M362.4 346.6h0" stroke="#283cd2" stroke-width="2.5" stroke-opacity="0.4"/><path d="M383.4 371.7h0" stroke="#283cdc" stroke-width="2.5" stroke-opacity="0.2"/><path d="M317.8 305.6h0M343.5 300.3h0M312.5 313.7h0M449.3 336.9h0" stroke="#283cdc" stroke-width="2.5" stroke-opacity="0.4"/><path d="M326.6 308.8h0" stroke="#283ce6" stroke-width="2.5" stroke-opacity="0.2"/><path d="M464.2 362.3h0M371.8 331.9h0M299.7 315.7h0" stroke="#283ce6" stroke-width="2.5" stroke-opacity="0.4"/><path d="M334.2 350.8h0M365.9 342.4h0M384 286.6h0" stroke="#2846aa" stroke-width="2.5" stroke-opacity="0.4"/><path d="M468 337.1h0" stroke="#2846b4" stroke-width="2.5" stroke-opacity="0.2"/><path d="M352.6 357h0" stroke="#2846b4" stroke-width="2.5" stroke-opacity="0.4"/><path d="M334.3 305.1h0" stroke="#2846be" stroke-width="2.5" stroke-opacity="0.2"/><path d="M467.3 328.4h0M489.8 370.3h0M313.3 293.2h0M400.4 243.2h0" stroke="#2846be" stroke-width="2.5" stroke-opacity="0.4"/><path d="M421 330.8h0" stroke="#2846c8" stroke-width="2.5" stroke-opacity="0.2"/><path d="M328.6 315.3h0" stroke="#2846c8" stroke-width="2.5" stroke-opacity="0.4"/><path d="M412.6 253.9h0M497.5 344.7h0" stroke="#2846d2" stroke-width="2.5" stroke-opacity="0.4"/><path d="M375.1 271.6h0M493.6 296.5h0M336.2 297h0" stroke="#2846dc" stroke-width="2.5" stroke-opacity="0.2"/><path d="M451.8 381.3h0" stroke="#2846dc" stroke-width="2.5" stroke-opacity="0.4"/><path d="M454.6 375.1h0" stroke="#2846e6" stroke-width="2.5" stroke-opacity="0.4"/><path d="M476.7 268h0" stroke="#2850aa" stroke-width="2.5" stroke-opacity="0.2"/><path d="M455.4 352.6h0M463.9 364.3h0" stroke="#2850b4" stroke-width="2.5" stroke-opacity="0.2"/><path d="M460.4 332.4h0M346.8 322.5h0" stroke="#2850b4" stroke-width="2.5" stroke-opacity="0.4"/><path d="M401.3 359.5h0M343.3 282.7h0M486.7 358.3h0" stroke="#2850be" stroke-width="2.5" stroke-opacity="0.4"/><path d="M335.2 313.2h0M350.6 293.4h0M343.5 337h0M391 239.4h0M441.4 360.7h0M386.6 244.3h0" stroke="#2850c8" stroke-width="2.5" stroke-opacity="0.4"/><path d="M330.5 336.5h0" stroke="#2850d2" stroke-width="2.5" stroke-opacity="0.4"/><path d="M326 287.9h0" stroke="#2850dc" stroke-width="2.5" stroke-opacity="0.2"/><path d="M425.1 384.5h0M440.3 351.9h0M451.5 365.4h0" stroke="#2850dc" stroke-width="2.5" stroke-opacity="0.4"/><path d="M491.8 303.5h0" stroke="#2850e6" stroke-width="2.5" stroke-opacity="0.2"/><path d="M331.2 307h0" stroke="#285aaa" stroke-width="2.5" stroke-opacity="0.4"/><path d="M483.6 348.3h0" stroke="#285ab4" stroke-width="2.5" stroke-opacity="0.4"/><path d="M446.8 361.7h0M458.4 250.6h0M446.9 385.9h0M480 350.9h0M334.5 311h0" stroke="#285abe" stroke-width="2.5" stroke-opacity="0.4"/><path d="M433.1 384h0" stroke="#285ac8" stroke-width="2.5" stroke-opacity="0.2"/><path d="M462 287.2h0M438.8 341.8h0M451.6 247.1h0M408.8 295.2h0" stroke="#285ac8" stroke-width="2.5" stroke-opacity="0.4"/><path d="M422 244.2h0" stroke="#285ad2" stroke-width="2.5" stroke-opacity="0.4"/><path d="M507.3 357h0M328.4 288.7h0M465 314.2h0M323.5 314.8h0M378.4 348.3h0M413.2 241.4h0" stroke="#285adc" stroke-width="2.5" stroke-opacity="0.4"/><path d="M407.9 383h0M395.9 308.3h0" stroke="#323cb4" stroke-width="2.5" stroke-opacity="0.4"/><path d="M480.4 360.1h0M344.1 318.1h0" stroke="#323cbe" stroke-width="2.5" stroke-opacity="0.2"/><path d="M440.1 373.6h0M396.4 288.1h0" stroke="#323cbe" stroke-width="2.5" stroke-opacity="0.4"/><path d="M475.2 350.3h0M450.6 374.6h0M367.9 354.3h0M315.3 303.3h0M350.9 307.4h0" stroke="#323cc8" stroke-width="2.5" stroke-opacity="0.4"/><path d="M420.3 344.9h0M445.3 349.7h0M415.6 364.2h0" stroke="#323cd2" stroke-width="2.5" stroke-opacity="0.4"/><path d="M323 328.2h0M460.9 270.6h0M321.7 294.8h0" stroke="#323cdc" stroke-width="2.5" stroke-opacity="0.4"/><path d="M451.7 360.7h0" stroke="#323ce6" stroke-width="2.5" stroke-opacity="0.2"/><path d="M500 332.3h0M429.8 344.6h0" stroke="#323ce6" stroke-width="2.5" stroke-opacity="0.4"/><path d="M347.3 345.8h0" stroke="#3246aa" stroke-width="2.5" stroke-opacity="0.2"/><path d="M432.3 231.4h0" stroke="#3246aa" stroke-width="2.5" stroke-opacity="0.4"/><path d="M487.5 370.3h0M491.8 366.3h0" stroke="#3246b4" stroke-width="2.5" stroke-opacity="0.4"/><path d="M501.8 342.9h0" stroke="#3246be" stroke-width="2.5" stroke-opacity="0.2"/><path d="M392.2 376.3h0M480.6 284.7h0M420.7 299.1h0M514.3 350.2h0" stroke="#3246be" stroke-width="2.5" stroke-opacity="0.4"/><path d="M468.5 372.8h0M411.4 247.5h0M474.3 324.1h0" stroke="#3246c8" stroke-width="2.5" stroke-opacity="0.4"/><path d="M350.7 313.5h0" stroke="#3246d2" stroke-width="2.5" stroke-opacity="0.2"/><path d="M388 256.6h0" stroke="#3246d2" stroke-width="2.5" stroke-opacity="0.4"/><path d="M360.8 324.4h0" stroke="#3246dc" stroke-width="2.5" stroke-opacity="0.4"/><path d="M477.9 269.1h0" stroke="#3246e6" stroke-width="2.5" stroke-opacity="0.4"/><path d="M486 302.7h0M401.8 252.9h0M412.4 246.2h0M318 316.3h0M350.4 283.7h0" stroke="#3250b4" stroke-width="2.5" stroke-opacity="0.4"/><path d="M325.2 322.4h0" stroke="#3250be" stroke-width="2.5" stroke-opacity="0.2"/><path d="M355.8 353.7h0M483 352.3h0" stroke="#3250be" stroke-width="2.5" stroke-opacity="0.4"/><path d="M449.9 377.7h0" stroke="#3250c8" stroke-width="2.5" stroke-opacity="0.2"/><path d="M392.6 290.8h0M352.6 345.5h0" stroke="#3250c8" stroke-width="2.5" stroke-opacity="0.4"/><path d="M433.4 383.4h0M425.4 381.9h0" stroke="#3250d2" stroke-width="2.5" stroke-opacity="0.2"/><path d="M453.5 352.6h0" stroke="#3250dc" stroke-width="2.5" stroke-opacity="0.2"/><path d="M496.1 366.9h0" stroke="#3250dc" stroke-width="2.5" stroke-opacity="0.4"/><path d="M366.3 361.9h0" stroke="#3250e6" stroke-width="2.5" stroke-opacity="0.2"/><path d="M398.7 235.5h0" stroke="#3250e6" stroke-width="2.5" stroke-opacity="0.4"/><path d="M394.4 308.2h0" stroke="#325aaa" stroke-width="2.5" stroke-opacity="0.2"/><path d="M445.4 249.9h0M357.2 282.1h0" stroke="#325aaa" stroke-width="2.5" stroke-opacity="0.4"/><path d="M391.7 264.8h0M503.3 369.6h0" stroke="#325ab4" stroke-width="2.5" stroke-opacity="0.4"/><path d="M356.6 275h0M413.3 345.3h0" stroke="#325abe" stroke-width="2.5" stroke-opacity="0.2"/><path d="M379 344.1h0" stroke="#325ac8" stroke-width="2.5" stroke-opacity="0.2"/><path d="M417.3 299.4h0" stroke="#325ac8" stroke-width="2.5" stroke-opacity="0.4"/><path d="M426 351.7h0" stroke="#325ad2" stroke-width="2.5" stroke-opacity="0.2"/><path d="M469.4 291.4h0M484.2 289.7h0M316.6 333.8h0" stroke="#325ad2" stroke-width="2.5" stroke-opacity="0.4"/><path d="M418.3 308.9h0" stroke="#325adc" stroke-width="2.5" stroke-opacity="0.2"/><path d="M478.6 377.7h0M337.1 336.1h0M500.8 297.8h0" stroke="#325ae6" stroke-width="2.5" stroke-opacity="0.4"/><path d="M333.9 337.1h0" stroke="#3264c8" stroke-width="2.5" stroke-opacity="0.2"/><path d="M358.1 333.1h0M410.7 356.2h0" stroke="#3c3cb4" stroke-width="2.5" stroke-opacity="0.2"/><path d="M367.3 337.6h0M411.8 256h0" stroke="#3c3cb4" stroke-width="2.5" stroke-opacity="0.4"/><path d="M450.7 343.6h0M423.2 372h0M495.6 346.1h0M434.3 258.3h0" stroke="#3c3cbe" stroke-width="2.5" stroke-opacity="0.4"/><path d="M445.5 377.8h0" stroke="#3c3cc8" stroke-width="2.5" stroke-opacity="0.4"/><path d="M389.1 279.1h0" stroke="#3c3cd2" stroke-width="2.5" stroke-opacity="0.2"/><path d="M417.7 369.4h0" stroke="#3c3cd2" stroke-width="2.5" stroke-opacity="0.4"/><path d="M450.3 266.2h0M477.6 345.4h0M501.9 300.6h0M422.9 285h0M422.2 307.6h0M520 351.2h0" stroke="#3c3cdc" stroke-width="2.5" stroke-opacity="0.4"/><path d="M455 257.3h0" stroke="#3c3ce6" stroke-width="2.5" stroke-opacity="0.2"/><path d="M417.3 351.9h0M419.8 259.8h0" stroke="#3c3ce6" stroke-width="2.5" stroke-opacity="0.4"/><path d="M467.3 341.9h0M486.6 277.5h0M375.8 262.7h0" stroke="#3c46aa" stroke-width="2.5" stroke-opacity="0.4"/><path d="M473.7 373.2h0" stroke="#3c46b4" stroke-width="2.5" stroke-opacity="0.2"/><path d="M360.4 364.5h0" stroke="#3c46be" stroke-width="2.5" stroke-opacity="0.2"/><path d="M475.7 374.5h0M490.4 359.5h0M366.1 363.7h0" stroke="#3c46be" stroke-width="2.5" stroke-opacity="0.4"/><path d="M511 346.4h0M499.8 308.2h0M470.2 295.2h0M326.8 310.7h0" stroke="#3c46c8" stroke-width="2.5" stroke-opacity="0.4"/><path d="M365.3 291h0M468.4 279.4h0" stroke="#3c46d2" stroke-width="2.5" stroke-opacity="0.2"/><path d="M452.5 256.1h0" stroke="#3c46dc" stroke-width="2.5" stroke-opacity="0.2"/><path d="M433.9 268.2h0M360.5 309.3h0M439.9 343.7h0" stroke="#3c46dc" stroke-width="2.5" stroke-opacity="0.4"/><path d="M422.5 348.4h0M390.6 250h0M467.4 262h0" stroke="#3c46e6" stroke-width="2.5" stroke-opacity="0.4"/><path d="M371.5 337h0" stroke="#3c50aa" stroke-width="2.5" stroke-opacity="0.4"/><path d="M498.6 289.5h0M458.7 341.6h0" stroke="#3c50b4" stroke-width="2.5" stroke-opacity="0.4"/><path d="M453 371.8h0" stroke="#3c50be" stroke-width="2.5" stroke-opacity="0.2"/><path d="M343.8 354.9h0M391.3 294.5h0" stroke="#3c50be" stroke-width="2.5" stroke-opacity="0.4"/><path d="M475 274.3h0M426.2 230.5h0" stroke="#3c50c8" stroke-width="2.5" stroke-opacity="0.4"/><path d="M421.1 233.7h0M338 310.5h0" stroke="#3c50d2" stroke-width="2.5" stroke-opacity="0.2"/><path d="M309.3 331.2h0" stroke="#3c50d2" stroke-width="2.5" stroke-opacity="0.4"/><path d="M432.5 260.1h0M335.5 347.2h0" stroke="#3c50dc" stroke-width="2.5" stroke-opacity="0.2"/><path d="M373.3 311.1h0" stroke="#3c50dc" stroke-width="2.5" stroke-opacity="0.4"/><path d="M462.6 354.2h0" stroke="#3c50e6" stroke-width="2.5" stroke-opacity="0.2"/><path d="M455.2 385.1h0" stroke="#3c50e6" stroke-width="2.5" stroke-opacity="0.4"/><path d="M499.9 358.2h0M365.1 311.5h0M419.8 243.3h0M344.7 277.1h0" stroke="#3c5aaa" stroke-width="2.5" stroke-opacity="0.4"/><path d="M390.4 322.2h0" stroke="#3c5ab4" stroke-width="2.5" stroke-opacity="0.2"/><path d="M376.9 362.9h0M496.4 334.5h0M401.6 256.8h0M433.8 324.4h0" stroke="#3c5ab4" stroke-width="2.5" stroke-opacity="0.4"/><path d="M307.8 323.1h0M385.5 337.2h0" stroke="#3c5abe" stroke-width="2.5" stroke-opacity="0.4"/><path d="M386.5 370.2h0M393 290.8h0M508.8 356.8h0M522.3 347.2h0M476 293h0M427.5 371h0M366.6 359.4h0" stroke="#3c5ac8" stroke-width="2.5" stroke-opacity="0.4"/><path d="M335.9 316.2h0" stroke="#3c5ad2" stroke-width="2.5" stroke-opacity="0.2"/><path d="M488.6 372.3h0" stroke="#3c5ad2" stroke-width="2.5" stroke-opacity="0.4"/><path d="M467.7 376.2h0" stroke="#3c5adc" stroke-width="2.5" stroke-opacity="0.4"/><path d="M414.8 242.3h0" stroke="#3c5ae6" stroke-width="2.5" stroke-opacity="0.2"/><path d="M494.2 348.9h0" stroke="#3c5ae6" stroke-width="2.5" stroke-opacity="0.4"/><path d="M398.8 375.4h0" stroke="#3c64b4" stroke-width="2.5" stroke-opacity="0.4"/><path d="M510.3 320.6h0" stroke="#3c64be" stroke-width="2.5" stroke-opacity="0.4"/><path d="M463.5 324.9h0M507.8 354.5h0" stroke="#463caa" stroke-width="2.5" stroke-opacity="0.4"/><path d="M431.2 299h0M308.9 307.4h0M490 350h0" stroke="#463cb4" stroke-width="2.5" stroke-opacity="0.4"/><path d="M465.5 253.4h0" stroke="#463cbe" stroke-width="2.5" stroke-opacity="0.2"/><path d="M420.2 370h0M453.3 334.1h0" stroke="#463cbe" stroke-width="2.5" stroke-opacity="0.4"/><path d="M299.8 315.6h0M327.2 309.6h0" stroke="#463cdc" stroke-width="2.5" stroke-opacity="0.4"/><path d="M361.8 280.7h0" stroke="#463ce6" stroke-width="2.5" stroke-opacity="0.4"/><path d="M344.3 347.6h0" stroke="#4646aa" stroke-width="2.5" stroke-opacity="0.2"/><path d="M379.2 354.3h0" stroke="#4646aa" stroke-width="2.5" stroke-opacity="0.4"/><path d="M418.8 365.6h0" stroke="#4646b4" stroke-width="2.5" stroke-opacity="0.4"/><path d="M470.2 364h0" stroke="#4646be" stroke-width="2.5" stroke-opacity="0.4"/><path d="M363.2 293.7h0" stroke="#4646c8" stroke-width="2.5" stroke-opacity="0.4"/><path d="M512 331.7h0" stroke="#4650aa" stroke-width="2.5" stroke-opacity="0.4"/><path d="M439.3 230.3h0M335.8 318.6h0" stroke="#4650b4" stroke-width="2.5" stroke-opacity="0.4"/><path d="M342.3 347.5h0M442 384h0" stroke="#4650be" stroke-width="2.5" stroke-opacity="0.4"/><path d="M399.8 378.6h0M410.9 375.5h0M316.6 301.9h0" stroke="#4650c8" stroke-width="2.5" stroke-opacity="0.2"/><path d="M360.4 342.4h0M364.7 297.2h0" stroke="#4650dc" stroke-width="2.5" stroke-opacity="0.4"/><path d="M335.1 281.4h0" stroke="#4650e6" stroke-width="2.5" stroke-opacity="0.4"/><path d="M381.9 335.1h0M359.1 357.3h0" stroke="#465aaa" stroke-width="2.5" stroke-opacity="0.4"/><path d="M319.5 341.6h0" stroke="#465ab4" stroke-width="2.5" stroke-opacity="0.2"/><path d="M344.4 334.7h0M338.8 283.8h0M457.7 340.9h0M391 375.8h0" stroke="#465ab4" stroke-width="2.5" stroke-opacity="0.4"/><path d="M374.4 362.9h0" stroke="#465abe" stroke-width="2.5" stroke-opacity="0.2"/><path d="M439.3 287.4h0" stroke="#465ac8" stroke-width="2.5" stroke-opacity="0.2"/><path d="M461.5 363.8h0" stroke="#465ac8" stroke-width="2.5" stroke-opacity="0.4"/><path d="M328.8 337.2h0" stroke="#465ad2" stroke-width="2.5" stroke-opacity="0.4"/><path d="M350 281.2h0" stroke="#465ae6" stroke-width="2.5" stroke-opacity="0.2"/><path d="M419.8 386.8h0M417.4 329.6h0" stroke="#465ae6" stroke-width="2.5" stroke-opacity="0.4"/><path d="M366.2 293.6h0" stroke="#4664b4" stroke-width="2.5" stroke-opacity="0.2"/><path d="M387.6 240h0" stroke="#283cb4" stroke-width="3" stroke-opacity="0.2"/><path d="M321.5 338.7h0M303.7 303.8h0" stroke="#283cbe" stroke-width="3" stroke-opacity="0.4"/><path d="M300.6 323.7h0M458 252h0" stroke="#283cc8" stroke-width="3" stroke-opacity="0.4"/><path d="M383.9 361.1h0M301.7 319.2h0M481.4 306.6h0" stroke="#283cd2" stroke-width="3" stroke-opacity="0.4"/><path d="M411.6 371.6h0" stroke="#283cdc" stroke-width="3" stroke-opacity="0.2"/><path d="M436.9 329.1h0M394.2 258.1h0" stroke="#283cdc" stroke-width="3" stroke-opacity="0.4"/><path d="M321.9 332.7h0M426.8 360.4h0M411.7 373.5h0" stroke="#283ce6" stroke-width="3" stroke-opacity="0.4"/><path d="M493.1 318h0M332.9 337.1h0M516.1 357.9h0" stroke="#2846aa" stroke-width="3" stroke-opacity="0.4"/><path d="M437.4 365.9h0" stroke="#2846b4" stroke-width="3" stroke-opacity="0.2"/><path d="M464.3 300.8h0M414.1 356.9h0M482.4 347.6h0M467.8 335.5h0" stroke="#2846b4" stroke-width="3" stroke-opacity="0.4"/><path d="M349.9 349.2h0M414 253.1h0" stroke="#2846be" stroke-width="3" stroke-opacity="0.4"/><path d="M471.7 261.4h0M447.4 281.6h0" stroke="#2846c8" stroke-width="3" stroke-opacity="0.2"/><path d="M331.7 291.8h0M421.6 355.6h0M355.8 360h0M346.2 317.7h0" stroke="#2846c8" stroke-width="3" stroke-opacity="0.4"/><path d="M413.9 347.3h0M350.3 361.5h0M326 306.9h0" stroke="#2846d2" stroke-width="3" stroke-opacity="0.4"/><path d="M429 239.3h0M375.6 367.5h0M299.4 326.1h0" stroke="#2846dc" stroke-width="3" stroke-opacity="0.4"/><path d="M317.6 308.8h0" stroke="#2846e6" stroke-width="3" stroke-opacity="0.4"/><path d="M473.4 286.8h0" stroke="#2850aa" stroke-width="3" stroke-opacity="0.4"/><path d="M448.6 245.5h0" stroke="#2850b4" stroke-width="3" stroke-opacity="0.2"/><path d="M439.4 352.9h0M339.4 349.8h0M453.3 363.3h0M441.4 254.9h0" stroke="#2850b4" stroke-width="3" stroke-opacity="0.4"/><path d="M347 315.3h0M386.3 321.7h0" stroke="#2850be" stroke-width="3" stroke-opacity="0.2"/><path d="M367.7 302.7h0M473.2 297.9h0M492.1 285.6h0M452.2 380.7h0M455.4 363.4h0M485.8 345h0M337.3 300.1h0M326.5 317h0" stroke="#2850d2" stroke-width="3" stroke-opacity="0.4"/><path d="M403 250.8h0M301.2 314.1h0" stroke="#2850dc" stroke-width="3" stroke-opacity="0.4"/><path d="M464.7 345.2h0" stroke="#2850e6" stroke-width="3" stroke-opacity="0.2"/><path d="M335.2 328.7h0" stroke="#285aaa" stroke-width="3" stroke-opacity="0.4"/><path d="M426.1 231.1h0M304.6 306.4h0" stroke="#285ab4" stroke-width="3" stroke-opacity="0.2"/><path d="M406 373.1h0M457.5 369.6h0" stroke="#285ab4" stroke-width="3" stroke-opacity="0.4"/><path d="M497.1 331.9h0M400.7 323.3h0M416.7 377.9h0M392.4 238.2h0" stroke="#285abe" stroke-width="3" stroke-opacity="0.4"/><path d="M488 371.8h0" stroke="#285ac8" stroke-width="3" stroke-opacity="0.2"/><path d="M354.3 344.9h0M300.6 308.9h0" stroke="#285ac8" stroke-width="3" stroke-opacity="0.4"/><path d="M471.8 384.4h0" stroke="#285ad2" stroke-width="3" stroke-opacity="0.4"/><path d="M416.5 365.7h0M360.6 356h0M397.6 369.2h0M509.5 337h0M403.7 363.8h0" stroke="#285adc" stroke-width="3" stroke-opacity="0.4"/><path d="M460 350h0" stroke="#2864aa" stroke-width="3" stroke-opacity="0.2"/><path d="M328.6 320.3h0" stroke="#2864aa" stroke-width="3" stroke-opacity="0.4"/><path d="M404.1 355.8h0" stroke="#2864b4" stroke-width="3" stroke-opacity="0.4"/><path d="M369.8 286.2h0" stroke="#323cb4" stroke-width="3" stroke-opacity="0.2"/><path d="M479.1 343.4h0M450.9 355h0" stroke="#323cb4" stroke-width="3" stroke-opacity="0.4"/><path d="M322.7 344.9h0M404.1 311.2h0" stroke="#323cbe" stroke-width="3" stroke-opacity="0.4"/><path d="M421.9 384.4h0" stroke="#323cc8" stroke-width="3" stroke-opacity="0.2"/><path d="M487 375.7h0M311.1 323.6h0M428.3 341.6h0" stroke="#323cc8" stroke-width="3" stroke-opacity="0.4"/><path d="M367.4 303.7h0M469.1 316.3h0" stroke="#323cd2" stroke-width="3" stroke-opacity="0.4"/><path d="M482.2 358.9h0M448.9 242.6h0M455.4 379.8h0M364.1 352.1h0" stroke="#323cdc" stroke-width="3" stroke-opacity="0.4"/><path d="M479.7 333.6h0M340.2 301.8h0M505.6 340.4h0" stroke="#323ce6" stroke-width="3" stroke-opacity="0.4"/><path d="M455.8 298.4h0" stroke="#3246aa" stroke-width="3" stroke-opacity="0.4"/><path d="M487.6 303h0" stroke="#3246b4" stroke-width="3" stroke-opacity="0.2"/><path d="M489 290.9h0M391 354.5h0M494.1 300.4h0M446.3 352.6h0" stroke="#3246b4" stroke-width="3" stroke-opacity="0.4"/><path d="M428.9 259.4h0M474.4 285.4h0" stroke="#3246d2" stroke-width="3" stroke-opacity="0.4"/><path d="M434.2 328.2h0" stroke="#3246dc" stroke-width="3" stroke-opacity="0.4"/><path d="M475.3 294h0" stroke="#3246e6" stroke-width="3" stroke-opacity="0.2"/><path d="M512.8 330.4h0" stroke="#3246e6" stroke-width="3" stroke-opacity="0.4"/><path d="M501.8 350.2h0" stroke="#3250aa" stroke-width="3" stroke-opacity="0.2"/><path d="M384 274.2h0M405.2 231.1h0" stroke="#3250aa" stroke-width="3" stroke-opacity="0.4"/><path d="M435.4 331.5h0M416.3 304.6h0M330.8 333.1h0" stroke="#3250b4" stroke-width="3" stroke-opacity="0.2"/><path d="M470 261.4h0M484.3 355.2h0M383.8 291h0M447.6 293.2h0" stroke="#3250b4" stroke-width="3" stroke-opacity="0.4"/><path d="M409.2 380.1h0M486.8 356.7h0" stroke="#3250be" stroke-width="3" stroke-opacity="0.2"/><path d="M401.3 354.4h0M450.6 243.8h0M376 362.4h0M488 333.1h0M424.8 319.8h0" stroke="#3250be" stroke-width="3" stroke-opacity="0.4"/><path d="M498.2 356.2h0" stroke="#3250c8" stroke-width="3" stroke-opacity="0.2"/><path d="M493.3 361.2h0" stroke="#3250c8" stroke-width="3" stroke-opacity="0.4"/><path d="M406.3 239.9h0M504 364.3h0" stroke="#3250d2" stroke-width="3" stroke-opacity="0.4"/><path d="M485.5 274.6h0M459.7 316.7h0M447.1 239.4h0M388.4 240.5h0" stroke="#3250e6" stroke-width="3" stroke-opacity="0.4"/><path d="M479.9 363.1h0" stroke="#325aaa" stroke-width="3" stroke-opacity="0.4"/><path d="M368.6 302.1h0M345.2 305.3h0" stroke="#325ab4" stroke-width="3" stroke-opacity="0.4"/><path d="M338.9 330.4h0M427.5 242.8h0" stroke="#325abe" stroke-width="3" stroke-opacity="0.4"/><path d="M474.3 375.3h0M321.5 329.2h0" stroke="#325ac8" stroke-width="3" stroke-opacity="0.4"/><path d="M408.9 368.5h0M456.4 352.1h0" stroke="#325ad2" stroke-width="3" stroke-opacity="0.2"/><path d="M402.2 362.8h0M435.5 356h0M345.3 299.8h0" stroke="#325ad2" stroke-width="3" stroke-opacity="0.4"/><path d="M431.7 367.9h0M492.9 279.6h0M338.7 291.2h0M468.8 364.7h0" stroke="#325adc" stroke-width="3" stroke-opacity="0.4"/><path d="M428.2 375.1h0" stroke="#325ae6" stroke-width="3" stroke-opacity="0.4"/><path d="M343.8 336.5h0" stroke="#3264be" stroke-width="3" stroke-opacity="0.2"/><path d="M496.2 294.1h0" stroke="#3264e6" stroke-width="3" stroke-opacity="0.4"/><path d="M329.7 321.5h0" stroke="#3c3caa" stroke-width="3" stroke-opacity="0.4"/><path d="M352.3 332.3h0" stroke="#3c3cb4" stroke-width="3" stroke-opacity="0.2"/><path d="M384.2 351.1h0M384.9 368.3h0M331.3 344.4h0M470.9 318.8h0" stroke="#3c3cb4" stroke-width="3" stroke-opacity="0.4"/><path d="M492.8 324.4h0M475.9 368.6h0" stroke="#3c3cbe" stroke-width="3" stroke-opacity="0.4"/><path d="M451.4 353.3h0M358.5 348h0" stroke="#3c3cc8" stroke-width="3" stroke-opacity="0.4"/><path d="M447.8 252.6h0M312.8 317.4h0M422.5 345.5h0M425.6 232.2h0" stroke="#3c3cd2" stroke-width="3" stroke-opacity="0.4"/><path d="M463.6 275h0" stroke="#3c3cdc" stroke-width="3" stroke-opacity="0.2"/><path d="M327.9 337.4h0M491.5 289.5h0M452.4 243.8h0M473.6 357.2h0" stroke="#3c3cdc" stroke-width="3" stroke-opacity="0.4"/><path d="M513.8 358.8h0M329.8 311.9h0M388.8 371.3h0" stroke="#3c3ce6" stroke-width="3" stroke-opacity="0.4"/><path d="M440 378.6h0" stroke="#3c46aa" stroke-width="3" stroke-opacity="0.4"/><path d="M471.9 304.6h0" stroke="#3c46b4" stroke-width="3" stroke-opacity="0.4"/><path d="M458.3 247.4h0M480 380.6h0M460.3 267.8h0" stroke="#3c46be" stroke-width="3" stroke-opacity="0.4"/><path d="M499.3 310.9h0" stroke="#3c46c8" stroke-width="3" stroke-opacity="0.2"/><path d="M312.9 321.3h0M476.5 359.4h0M454 348h0M480 320.9h0M321.1 322.5h0M402.4 356h0M358.7 347.9h0" stroke="#3c46c8" stroke-width="3" stroke-opacity="0.4"/><path d="M458.6 348.7h0" stroke="#3c46d2" stroke-width="3" stroke-opacity="0.2"/><path d="M361 348.8h0M494.2 281.1h0" stroke="#3c46d2" stroke-width="3" stroke-opacity="0.4"/><path d="M477 306.1h0" stroke="#3c46dc" stroke-width="3" stroke-opacity="0.2"/><path d="M309.7 324.9h0" stroke="#3c46dc" stroke-width="3" stroke-opacity="0.4"/><path d="M394.4 350.3h0M455.3 297.1h0M450 358.9h0" stroke="#3c46e6" stroke-width="3" stroke-opacity="0.4"/><path d="M436 241.1h0M426.2 324.3h0" stroke="#3c50aa" stroke-width="3" stroke-opacity="0.4"/><path d="M313.2 329h0M498.9 338.4h0M465 349.6h0M439.7 353.3h0" stroke="#3c50b4" stroke-width="3" stroke-opacity="0.4"/><path d="M400.7 352.7h0M339.8 328.3h0M335.6 352.5h0M371.3 281.5h0" stroke="#3c50be" stroke-width="3" stroke-opacity="0.4"/><path d="M379.9 260.5h0" stroke="#3c50c8" stroke-width="3" stroke-opacity="0.2"/><path d="M482.6 364.2h0M457.8 356h0M329.6 350.4h0" stroke="#3c50c8" stroke-width="3" stroke-opacity="0.4"/><path d="M502.8 361.9h0M298.7 321h0" stroke="#3c50d2" stroke-width="3" stroke-opacity="0.4"/><path d="M514.3 351.6h0M517.6 358h0M355.1 335.4h0" stroke="#3c50dc" stroke-width="3" stroke-opacity="0.4"/><path d="M483.2 355.2h0M459.5 255.2h0" stroke="#3c50e6" stroke-width="3" stroke-opacity="0.4"/><path d="M471.1 367.1h0" stroke="#3c5aaa" stroke-width="3" stroke-opacity="0.2"/><path d="M360 275.3h0M492.8 336.6h0" stroke="#3c5aaa" stroke-width="3" stroke-opacity="0.4"/><path d="M328.1 297.1h0" stroke="#3c5ab4" stroke-width="3" stroke-opacity="0.2"/><path d="M482.1 349h0M345.7 348.8h0M450.3 275.2h0" stroke="#3c5ab4" stroke-width="3" stroke-opacity="0.4"/><path d="M377.4 369h0" stroke="#3c5abe" stroke-width="3" stroke-opacity="0.2"/><path d="M462.5 378.9h0M497.5 355.2h0M354.9 356.1h0M410.8 239.4h0M452.1 352.4h0" stroke="#3c5abe" stroke-width="3" stroke-opacity="0.4"/><path d="M455.6 303.3h0M433.6 381.2h0" stroke="#3c5ac8" stroke-width="3" stroke-opacity="0.4"/><path d="M500.8 321.6h0M363 343.9h0" stroke="#3c5ad2" stroke-width="3" stroke-opacity="0.4"/><path d="M353 331.6h0" stroke="#3c5adc" stroke-width="3" stroke-opacity="0.2"/><path d="M450.7 347.5h0M348.7 333.2h0" stroke="#3c5adc" stroke-width="3" stroke-opacity="0.4"/><path d="M307.5 328.4h0" stroke="#3c5ae6" stroke-width="3" stroke-opacity="0.4"/><path d="M496.5 367h0" stroke="#3c64c8" stroke-width="3" stroke-opacity="0.2"/><path d="M485.5 302.6h0M377.9 294h0M409.8 246.3h0" stroke="#463caa" stroke-width="3" stroke-opacity="0.4"/><path d="M310.7 309.1h0M493.7 351.2h0" stroke="#463cb4" stroke-width="3" stroke-opacity="0.4"/><path d="M327.4 336.5h0" stroke="#463cd2" stroke-width="3" stroke-opacity="0.4"/><path d="M467 351.4h0" stroke="#463cdc" stroke-width="3" stroke-opacity="0.4"/><path d="M407.3 235.2h0" stroke="#463ce6" stroke-width="3" stroke-opacity="0.2"/><path d="M443.1 387.3h0" stroke="#4646b4" stroke-width="3" stroke-opacity="0.2"/><path d="M388.5 238h0" stroke="#4646c8" stroke-width="3" stroke-opacity="0.4"/><path d="M458.9 326.7h0" stroke="#4646dc" stroke-width="3" stroke-opacity="0.2"/><path d="M475.8 359.4h0" stroke="#4650aa" stroke-width="3" stroke-opacity="0.4"/><path d="M380 354.5h0" stroke="#4650be" stroke-width="3" stroke-opacity="0.4"/><path d="M482 320.3h0M354.2 279h0M505.2 317.2h0" stroke="#4650c8" stroke-width="3" stroke-opacity="0.4"/><path d="M414 260h0" stroke="#4650d2" stroke-width="3" stroke-opacity="0.2"/><path d="M382.7 339.5h0M355.6 352.3h0" stroke="#4650d2" stroke-width="3" stroke-opacity="0.4"/><path d="M383.9 250.5h0" stroke="#4650dc" stroke-width="3" stroke-opacity="0.2"/><path d="M305.9 310.7h0M338.7 339h0" stroke="#4650dc" stroke-width="3" stroke-opacity="0.4"/><path d="M443 263.2h0" stroke="#4650e6" stroke-width="3" stroke-opacity="0.2"/><path d="M387.3 377h0" stroke="#4650e6" stroke-width="3" stroke-opacity="0.4"/><path d="M484.8 371.2h0" stroke="#465ab4" stroke-width="3" stroke-opacity="0.2"/><path d="M417.9 330.9h0M352.2 283h0" stroke="#465ab4" stroke-width="3" stroke-opacity="0.4"/><path d="M476.9 359.5h0M503.5 359.7h0" stroke="#465ac8" stroke-width="3" stroke-opacity="0.4"/><path d="M423 331.4h0" stroke="#465ad2" stroke-width="3" stroke-opacity="0.2"/><path d="M471.6 303.3h0M362.5 340h0" stroke="#465ad2" stroke-width="3" stroke-opacity="0.4"/><path d="M516.5 346.9h0" stroke="#465ae6" stroke-width="3" stroke-opacity="0.4"/><path d="M366.6 364.7h0" stroke="#4664aa" stroke-width="3" stroke-opacity="0.4"/><path d="M461.3 373.1h0" stroke="#283caa" stroke-width="3.5" stroke-opacity="0.4"/><path d="M344.2 355.7h0" stroke="#283cb4" stroke-width="3.5" stroke-opacity="0.4"/><path d="M471.2 360.3h0M505.4 332h0" stroke="#283cbe" stroke-width="3.5" stroke-opacity="0.4"/><path d="M422.7 378.5h0" stroke="#283cc8" stroke-width="3.5" stroke-opacity="0.4"/><path d="M378 287.7h0" stroke="#283cd2" stroke-width="3.5" stroke-opacity="0.4"/><path d="M444.4 258.3h0" stroke="#283cdc" stroke-width="3.5" stroke-opacity="0.2"/><path d="M437.9 356.4h0" stroke="#283cdc" stroke-width="3.5" stroke-opacity="0.4"/><path d="M309 307h0" stroke="#283ce6" stroke-width="3.5" stroke-opacity="0.4"/><path d="M375.3 333.6h0M498.4 358.2h0" stroke="#2846aa" stroke-width="3.5" stroke-opacity="0.4"/><path d="M508.7 350.6h0" stroke="#2846b4" stroke-width="3.5" stroke-opacity="0.2"/><path d="M355.3 311.4h0M459.2 340.1h0" stroke="#2846be" stroke-width="3.5" stroke-opacity="0.4"/><path d="M454 380.1h0M510.9 346.2h0" stroke="#2846c8" stroke-width="3.5" stroke-opacity="0.4"/><path d="M334.8 350.1h0" stroke="#2846d2" stroke-width="3.5" stroke-opacity="0.2"/><path d="M339.6 330.3h0M458.2 347.8h0M475.2 333.2h0" stroke="#2846d2" stroke-width="3.5" stroke-opacity="0.4"/><path d="M469 369.9h0M327.5 286.6h0M369.4 314.9h0M338.2 302.1h0" stroke="#2846dc" stroke-width="3.5" stroke-opacity="0.4"/><path d="M374.4 266.1h0M411.9 383.7h0M388.2 280.8h0" stroke="#2846e6" stroke-width="3.5" stroke-opacity="0.4"/><path d="M387.5 268.7h0M427.3 385.7h0" stroke="#2850aa" stroke-width="3.5" stroke-opacity="0.4"/><path d="M380.2 307.3h0" stroke="#2850b4" stroke-width="3.5" stroke-opacity="0.2"/><path d="M367.8 301.1h0" stroke="#2850be" stroke-width="3.5" stroke-opacity="0.2"/><path d="M335 283.6h0" stroke="#2850be" stroke-width="3.5" stroke-opacity="0.4"/><path d="M360.6 329.9h0" stroke="#2850d2" stroke-width="3.5" stroke-opacity="0.2"/><path d="M455.5 255.4h0M402.2 257.4h0M446.4 381.9h0" stroke="#2850d2" stroke-width="3.5" stroke-opacity="0.4"/><path d="M456.3 328.7h0" stroke="#2850dc" stroke-width="3.5" stroke-opacity="0.4"/><path d="M371.4 360.7h0" stroke="#2850e6" stroke-width="3.5" stroke-opacity="0.2"/><path d="M465.7 351.8h0" stroke="#285aaa" stroke-width="3.5" stroke-opacity="0.4"/><path d="M364.4 276.5h0M513.1 361.6h0" stroke="#285ab4" stroke-width="3.5" stroke-opacity="0.4"/><path d="M377.4 307.7h0M354.1 337.8h0" stroke="#285abe" stroke-width="3.5" stroke-opacity="0.4"/><path d="M479.2 382.2h0" stroke="#285ad2" stroke-width="3.5" stroke-opacity="0.2"/><path d="M357.1 322.2h0" stroke="#285ad2" stroke-width="3.5" stroke-opacity="0.4"/><path d="M358.3 315.5h0" stroke="#285adc" stroke-width="3.5" stroke-opacity="0.2"/><path d="M357.9 353.3h0M447.3 370.2h0" stroke="#285adc" stroke-width="3.5" stroke-opacity="0.4"/><path d="M499.7 361.1h0" stroke="#285ae6" stroke-width="3.5" stroke-opacity="0.2"/><path d="M485.8 281.9h0M461.6 304.9h0" stroke="#323cb4" stroke-width="3.5" stroke-opacity="0.4"/><path d="M301.9 322.2h0M320.3 297.5h0M474.8 297.5h0" stroke="#323cbe" stroke-width="3.5" stroke-opacity="0.4"/><path d="M424.4 383.8h0" stroke="#323cc8" stroke-width="3.5" stroke-opacity="0.4"/><path d="M484.6 363h0" stroke="#323cd2" stroke-width="3.5" stroke-opacity="0.4"/><path d="M498.4 343.7h0" stroke="#323cdc" stroke-width="3.5" stroke-opacity="0.2"/><path d="M403.2 345.5h0M371.2 293.1h0" stroke="#323cdc" stroke-width="3.5" stroke-opacity="0.4"/><path d="M499.3 292.3h0M326.8 304.1h0" stroke="#323ce6" stroke-width="3.5" stroke-opacity="0.4"/><path d="M440.4 344.1h0" stroke="#3246aa" stroke-width="3.5" stroke-opacity="0.2"/><path d="M316.7 340h0" stroke="#3246aa" stroke-width="3.5" stroke-opacity="0.4"/><path d="M306.1 315h0" stroke="#3246b4" stroke-width="3.5" stroke-opacity="0.2"/><path d="M345.6 319.7h0M380.2 337.1h0" stroke="#3246b4" stroke-width="3.5" stroke-opacity="0.4"/><path d="M407.3 298.7h0" stroke="#3246be" stroke-width="3.5" stroke-opacity="0.2"/><path d="M362.9 364.4h0" stroke="#3246be" stroke-width="3.5" stroke-opacity="0.4"/><path d="M391.5 272.1h0" stroke="#3246c8" stroke-width="3.5" stroke-opacity="0.2"/><path d="M422.6 372.6h0" stroke="#3246c8" stroke-width="3.5" stroke-opacity="0.4"/><path d="M502.5 333.4h0" stroke="#3246dc" stroke-width="3.5" stroke-opacity="0.2"/><path d="M501.5 302.4h0M504 352.6h0" stroke="#3246dc" stroke-width="3.5" stroke-opacity="0.4"/><path d="M504.5 371.3h0" stroke="#3250aa" stroke-width="3.5" stroke-opacity="0.4"/><path d="M480.5 323.8h0M444.5 386.2h0M302.1 313.1h0" stroke="#3250b4" stroke-width="3.5" stroke-opacity="0.4"/><path d="M439.7 283.2h0" stroke="#3250be" stroke-width="3.5" stroke-opacity="0.2"/><path d="M499.7 315h0" stroke="#3250be" stroke-width="3.5" stroke-opacity="0.4"/><path d="M343.3 356.2h0M448.5 339.6h0M375.7 309.2h0" stroke="#3250c8" stroke-width="3.5" stroke-opacity="0.4"/><path d="M516.7 339.3h0M405.4 342h0" stroke="#3250d2" stroke-width="3.5" stroke-opacity="0.4"/><path d="M468.9 342h0" stroke="#3250dc" stroke-width="3.5" stroke-opacity="0.2"/><path d="M387.2 358.8h0M473.1 319.6h0" stroke="#3250e6" stroke-width="3.5" stroke-opacity="0.4"/><path d="M367.7 327.8h0" stroke="#325aaa" stroke-width="3.5" stroke-opacity="0.2"/><path d="M456.8 322.7h0" stroke="#325abe" stroke-width="3.5" stroke-opacity="0.2"/><path d="M448 348.2h0" stroke="#325abe" stroke-width="3.5" stroke-opacity="0.4"/><path d="M406.3 360.5h0M357.8 304.2h0" stroke="#325ac8" stroke-width="3.5" stroke-opacity="0.2"/><path d="M475.1 378.1h0M394.8 366h0" stroke="#325ac8" stroke-width="3.5" stroke-opacity="0.4"/><path d="M404.1 270h0" stroke="#325ad2" stroke-width="3.5" stroke-opacity="0.4"/><path d="M325.7 334h0" stroke="#325adc" stroke-width="3.5" stroke-opacity="0.2"/><path d="M393.3 348.3h0M411.5 314.9h0M387.4 232.7h0" stroke="#325adc" stroke-width="3.5" stroke-opacity="0.4"/><path d="M415.6 230.8h0" stroke="#3264be" stroke-width="3.5" stroke-opacity="0.2"/><path d="M473.4 345.3h0" stroke="#3264d2" stroke-width="3.5" stroke-opacity="0.2"/><path d="M436.9 378.5h0M428.6 336.5h0" stroke="#3c3caa" stroke-width="3.5" stroke-opacity="0.4"/><path d="M441 234.9h0M463 320.9h0M373.2 363.9h0" stroke="#3c3cb4" stroke-width="3.5" stroke-opacity="0.4"/><path d="M476.2 277.7h0" stroke="#3c3cbe" stroke-width="3.5" stroke-opacity="0.2"/><path d="M484.5 291.8h0M434.9 319h0" stroke="#3c3cc8" stroke-width="3.5" stroke-opacity="0.2"/><path d="M462.3 356.7h0" stroke="#3c3cc8" stroke-width="3.5" stroke-opacity="0.4"/><path d="M516.1 336.2h0" stroke="#3c3cd2" stroke-width="3.5" stroke-opacity="0.2"/><path d="M369.8 306.8h0" stroke="#3c3cdc" stroke-width="3.5" stroke-opacity="0.4"/><path d="M440.9 343h0M417.1 380.3h0M425.1 241.7h0" stroke="#3c3ce6" stroke-width="3.5" stroke-opacity="0.4"/><path d="M353.8 304.3h0" stroke="#3c46aa" stroke-width="3.5" stroke-opacity="0.2"/><path d="M474.6 295.4h0" stroke="#3c46aa" stroke-width="3.5" stroke-opacity="0.4"/><path d="M389.3 359.1h0" stroke="#3c46b4" stroke-width="3.5" stroke-opacity="0.4"/><path d="M452.1 372.4h0" stroke="#3c46be" stroke-width="3.5" stroke-opacity="0.2"/><path d="M445.8 242.8h0" stroke="#3c46be" stroke-width="3.5" stroke-opacity="0.4"/><path d="M504.5 340h0" stroke="#3c46c8" stroke-width="3.5" stroke-opacity="0.2"/><path d="M399.2 351.7h0M457 333.4h0M448 242h0M394.4 322.6h0" stroke="#3c46c8" stroke-width="3.5" stroke-opacity="0.4"/><path d="M490.8 315.2h0" stroke="#3c46d2" stroke-width="3.5" stroke-opacity="0.2"/><path d="M298.6 326.1h0M440.2 252h0M357.6 293.1h0" stroke="#3c46dc" stroke-width="3.5" stroke-opacity="0.4"/><path d="M365.8 283.7h0M364.5 275.5h0" stroke="#3c46e6" stroke-width="3.5" stroke-opacity="0.4"/><path d="M320.6 301.7h0M481.7 370.7h0" stroke="#3c50aa" stroke-width="3.5" stroke-opacity="0.4"/><path d="M493.2 293h0" stroke="#3c50b4" stroke-width="3.5" stroke-opacity="0.2"/><path d="M473.8 351.6h0M331.9 323.1h0" stroke="#3c50b4" stroke-width="3.5" stroke-opacity="0.4"/><path d="M437.5 369.7h0" stroke="#3c50be" stroke-width="3.5" stroke-opacity="0.2"/><path d="M470 347.6h0" stroke="#3c50be" stroke-width="3.5" stroke-opacity="0.4"/><path d="M454.8 271.4h0M317.5 324.9h0" stroke="#3c50c8" stroke-width="3.5" stroke-opacity="0.4"/><path d="M481.1 326.9h0M434 345.3h0" stroke="#3c50d2" stroke-width="3.5" stroke-opacity="0.2"/><path d="M368.7 354.7h0M399.6 241h0M410.6 369.9h0" stroke="#3c50dc" stroke-width="3.5" stroke-opacity="0.4"/><path d="M402.4 230.9h0" stroke="#3c5ab4" stroke-width="3.5" stroke-opacity="0.2"/><path d="M419.5 366.9h0M496.2 362.3h0" stroke="#3c5ab4" stroke-width="3.5" stroke-opacity="0.4"/><path d="M486.8 341.8h0" stroke="#3c5ac8" stroke-width="3.5" stroke-opacity="0.4"/><path d="M314.7 294.7h0" stroke="#3c5ad2" stroke-width="3.5" stroke-opacity="0.2"/><path d="M364.5 343.7h0M304.4 311.6h0" stroke="#3c5ad2" stroke-width="3.5" stroke-opacity="0.4"/><path d="M338.8 290.3h0" stroke="#3c5adc" stroke-width="3.5" stroke-opacity="0.4"/><path d="M505.9 320h0" stroke="#3c5ae6" stroke-width="3.5" stroke-opacity="0.4"/><path d="M346.8 292.5h0" stroke="#3c64c8" stroke-width="3.5" stroke-opacity="0.4"/><path d="M510.6 341h0" stroke="#3c64d2" stroke-width="3.5" stroke-opacity="0.4"/><path d="M420.8 359.4h0" stroke="#3c64dc" stroke-width="3.5" stroke-opacity="0.4"/><path d="M485.9 369.6h0M359.5 331h0M433.7 230.7h0M503.1 317.1h0" stroke="#463cb4" stroke-width="3.5" stroke-opacity="0.4"/><path d="M452 377.8h0" stroke="#463cbe" stroke-width="3.5" stroke-opacity="0.4"/><path d="M338.6 315.7h0" stroke="#463cc8" stroke-width="3.5" stroke-opacity="0.4"/><path d="M495.9 288.9h0" stroke="#463cd2" stroke-width="3.5" stroke-opacity="0.2"/><path d="M358 292.7h0" stroke="#463cdc" stroke-width="3.5" stroke-opacity="0.4"/><path d="M307.2 321.7h0" stroke="#4646be" stroke-width="3.5" stroke-opacity="0.2"/><path d="M491.8 343.9h0" stroke="#4646c8" stroke-width="3.5" stroke-opacity="0.4"/><path d="M500.3 350.7h0" stroke="#4646d2" stroke-width="3.5" stroke-opacity="0.4"/><path d="M320.4 337.8h0" stroke="#4646dc" stroke-width="3.5" stroke-opacity="0.4"/><path d="M421.9 353.7h0" stroke="#4650be" stroke-width="3.5" stroke-opacity="0.4"/><path d="M455.8 366.8h0" stroke="#4650c8" stroke-width="3.5" stroke-opacity="0.2"/><path d="M520 357.5h0" stroke="#4650c8" stroke-width="3.5" stroke-opacity="0.4"/><path d="M439.7 231.4h0" stroke="#4650d2" stroke-width="3.5" stroke-opacity="0.2"/><path d="M482.7 358.8h0M353.1 352.2h0M412.9 379.8h0M340.2 355.5h0" stroke="#4650d2" stroke-width="3.5" stroke-opacity="0.4"/><path d="M479.7 329.5h0M429.6 371.4h0" stroke="#4650dc" stroke-width="3.5" stroke-opacity="0.4"/><path d="M498.2 374.2h0" stroke="#4650e6" stroke-width="3.5" stroke-opacity="0.4"/><path d="M320 344h0" stroke="#465aaa" stroke-width="3.5" stroke-opacity="0.4"/><path d="M412.5 356.8h0" stroke="#465ab4" stroke-width="3.5" stroke-opacity="0.4"/><path d="M486 348.2h0M416.5 254.4h0" stroke="#465abe" stroke-width="3.5" stroke-opacity="0.2"/><path d="M476.9 297h0" stroke="#465ac8" stroke-width="3.5" stroke-opacity="0.4"/><path d="M436.4 254h0" stroke="#465ad2" stroke-width="3.5" stroke-opacity="0.4"/><path d="M411.9 230.2h0M340.7 303.8h0M510.8 325.1h0M489.6 276.6h0" stroke="#465adc" stroke-width="3.5" stroke-opacity="0.4"/></g><rect x="380" y="228" width="80" height="70" fill="url(#tg)"/><path d="M386.4,230C386.3,231.7 386.1,237 385.8,240C385.5,243 385,245.8 384.5,248C384,250.2 383.9,251.5 382.7,253.5C381.5,255.5 379.6,257.6 377.5,260C375.4,262.4 372.8,265.9 370,268C367.2,270.1 364.1,271.3 361,272.5C357.9,273.7 354.8,274.2 351.7,275C348.6,275.8 345.6,276.6 342.6,277.5C339.6,278.4 336.5,279.3 333.5,280.7C330.5,282.1 327.5,284 324.5,285.6C321.5,287.2 318.1,288.5 315.4,290.2C312.7,291.9 310.2,293.5 308.1,295.6C306,297.7 304,300.2 302.6,302.9C301.2,305.6 300.4,309.1 299.5,312C298.6,314.9 297.7,317.8 297.4,320C297.1,322.2 297.1,324 297.6,325.5C298.1,327 299.2,328 300.5,328.8C301.8,329.6 303.9,329.6 305.6,330.5C307.3,331.4 309.1,332.6 310.8,334C312.5,335.4 314,337.1 315.7,339C317.4,340.9 319.2,343.8 321,345.5C322.8,347.2 324.6,348.2 326.5,349.5C328.4,350.8 330.4,352.2 332.5,353.5C334.6,354.8 335.8,355.9 339,357.5C342.2,359.1 347.4,361.3 351.7,362.9C355.9,364.4 360,365.2 364.5,366.8C369,368.4 374.9,370.7 378.8,372.5C382.8,374.3 385.1,375.9 388.2,377.6C391.3,379.3 394.3,381.3 397.3,382.7C400.3,384.1 403.4,385.2 406.4,386C409.4,386.8 412.5,386.9 415.5,387.3C418.5,387.7 421.5,388 424.5,388.2C427.5,388.4 430.6,388.6 433.6,388.5C436.6,388.4 439.7,388.1 442.7,387.8C445.7,387.5 448.8,387 451.8,386.7C454.8,386.4 457.9,386.1 460.9,385.8C463.9,385.5 466.4,385.6 470,385C473.6,384.4 478.2,383.2 482.4,382C486.6,380.8 491.2,379.2 495.1,377.5C499,375.8 502.7,373.8 506,372C509.3,370.2 512.7,368.6 515.1,366.5C517.5,364.4 519.1,361.7 520.5,359.3C521.9,356.9 523,354.4 523.3,352C523.6,349.6 523.5,348 522.4,344.7C521.3,341.4 518.7,335.9 516.9,332C515.1,328.1 513.4,324.4 511.5,321.1C509.6,317.8 507,315.3 505.5,312C504,308.7 503.4,304.4 502.4,301.1C501.4,297.8 500.5,295 499.6,292C498.7,289 498.2,285.3 496.9,282.9C495.5,280.5 493.9,279.6 491.5,277.5C489.1,275.4 485.4,272.9 482.4,270.2C479.4,267.5 476.3,264.1 473.3,261.1C470.3,258.1 467.2,254.7 464.2,252C461.2,249.3 458.1,246.9 455.1,244.7C452.1,242.4 448.7,240.9 446,238.5C443.3,236.1 440.2,231.4 439.1,230" fill="none" stroke="#02030a" stroke-width="14" stroke-opacity="0.92" filter="url(#bd25)"/><g filter="url(#bd04)" fill="none" stroke-linecap="round"><path d="M397.5 312.2h0" stroke="#465ac8" stroke-width="1" stroke-opacity="0.6"/><path d="M404.2 337.5h0" stroke="#465ad2" stroke-width="1" stroke-opacity="0.4"/><path d="M481.1 362.6h0" stroke="#465ad2" stroke-width="1" stroke-opacity="0.6"/><path d="M408.5 364h0M461.7 358.2h0" stroke="#465adc" stroke-width="1" stroke-opacity="0.6"/><path d="M403.9 245.1h0" stroke="#465af0" stroke-width="1" stroke-opacity="0.4"/><path d="M467 291.3h0" stroke="#465af0" stroke-width="1" stroke-opacity="0.6"/><path d="M448.1 240.6h0" stroke="#465af0" stroke-width="1" stroke-opacity="0.8"/><path d="M359.3 336h0" stroke="#465afa" stroke-width="1" stroke-opacity="0.6"/><path d="M496.4 331.9h0" stroke="#4664c8" stroke-width="1" stroke-opacity="0.4"/><path d="M399.3 235h0" stroke="#4664c8" stroke-width="1" stroke-opacity="0.8"/><path d="M378.3 301.1h0M409.9 354.6h0" stroke="#4664d2" stroke-width="1" stroke-opacity="0.4"/><path d="M329.8 334.1h0" stroke="#4664d2" stroke-width="1" stroke-opacity="0.6"/><path d="M433.4 367.9h0M305.5 315.1h0M402.5 234.6h0" stroke="#4664d2" stroke-width="1" stroke-opacity="0.8"/><path d="M356 318.9h0" stroke="#4664dc" stroke-width="1" stroke-opacity="0.4"/><path d="M488.1 284.1h0M355.7 285.6h0" stroke="#4664dc" stroke-width="1" stroke-opacity="0.6"/><path d="M361.1 293.4h0" stroke="#4664dc" stroke-width="1" stroke-opacity="0.8"/><path d="M479.8 378.7h0" stroke="#4664e6" stroke-width="1" stroke-opacity="0.4"/><path d="M340.7 290.1h0M489.1 327.2h0M473.6 383.9h0" stroke="#4664f0" stroke-width="1" stroke-opacity="0.4"/><path d="M352.7 287.8h0" stroke="#4664fa" stroke-width="1" stroke-opacity="0.4"/><path d="M493.5 353.3h0" stroke="#4664fa" stroke-width="1" stroke-opacity="0.8"/><path d="M304.4 317.3h0M425.7 346.9h0" stroke="#466ec8" stroke-width="1" stroke-opacity="0.4"/><path d="M383.2 366.8h0M503.9 320.2h0" stroke="#466ed2" stroke-width="1" stroke-opacity="0.6"/><path d="M416.6 287.7h0" stroke="#466edc" stroke-width="1" stroke-opacity="0.4"/><path d="M386.9 375.4h0M478.3 358.7h0" stroke="#466edc" stroke-width="1" stroke-opacity="0.6"/><path d="M504.1 336.9h0M368 274.5h0M455.8 336.1h0M350.9 297.5h0" stroke="#466edc" stroke-width="1" stroke-opacity="0.8"/><path d="M345 358.6h0" stroke="#466ee6" stroke-width="1" stroke-opacity="0.4"/><path d="M425.3 246.6h0M501.6 326.9h0M457.7 266.7h0" stroke="#466ee6" stroke-width="1" stroke-opacity="0.6"/><path d="M476.7 313.3h0" stroke="#466ef0" stroke-width="1" stroke-opacity="0.4"/><path d="M321.6 339.8h0" stroke="#466efa" stroke-width="1" stroke-opacity="0.6"/><path d="M315.3 328h0M480.2 283.1h0" stroke="#466efa" stroke-width="1" stroke-opacity="0.8"/><path d="M474.1 264.9h0" stroke="#4678c8" stroke-width="1" stroke-opacity="0.4"/><path d="M505.1 320.1h0" stroke="#4678d2" stroke-width="1" stroke-opacity="0.4"/><path d="M477.9 368.7h0M339.7 354.5h0M395.5 347.4h0" stroke="#4678d2" stroke-width="1" stroke-opacity="0.8"/><path d="M373.2 268h0M422.9 257.6h0M480.2 376.7h0" stroke="#4678dc" stroke-width="1" stroke-opacity="0.4"/><path d="M302.6 316.1h0" stroke="#4678dc" stroke-width="1" stroke-opacity="0.6"/><path d="M377 348.9h0" stroke="#4678dc" stroke-width="1" stroke-opacity="0.8"/><path d="M512 341.7h0M500.2 333.9h0" stroke="#4678e6" stroke-width="1" stroke-opacity="0.4"/><path d="M491.3 334.6h0" stroke="#4678e6" stroke-width="1" stroke-opacity="0.6"/><path d="M412.5 339.8h0" stroke="#4678f0" stroke-width="1" stroke-opacity="0.4"/><path d="M452.6 325.2h0M328.5 321.6h0" stroke="#4678f0" stroke-width="1" stroke-opacity="0.6"/><path d="M479.5 327.7h0M452.2 380.2h0" stroke="#4678f0" stroke-width="1" stroke-opacity="0.8"/><path d="M360.8 284.9h0M466.3 384.7h0" stroke="#4678fa" stroke-width="1" stroke-opacity="0.8"/><path d="M373.2 320.2h0M447.5 365.7h0" stroke="#4682d2" stroke-width="1" stroke-opacity="0.4"/><path d="M452.4 365h0" stroke="#4682d2" stroke-width="1" stroke-opacity="0.6"/><path d="M419.5 340.1h0M418.2 374.7h0" stroke="#4682dc" stroke-width="1" stroke-opacity="0.4"/><path d="M387 324.6h0M484.2 358.5h0M384.5 337.3h0" stroke="#4682dc" stroke-width="1" stroke-opacity="0.6"/><path d="M396.5 339h0" stroke="#4682e6" stroke-width="1" stroke-opacity="0.6"/><path d="M310.7 330.6h0" stroke="#4682f0" stroke-width="1" stroke-opacity="0.6"/><path d="M320 332.1h0" stroke="#4682ff" stroke-width="1" stroke-opacity="0.6"/><path d="M434 354.5h0M349.9 297.7h0" stroke="#468cc8" stroke-width="1" stroke-opacity="0.4"/><path d="M513.1 355.4h0" stroke="#468cc8" stroke-width="1" stroke-opacity="0.6"/><path d="M487.5 276.7h0M448.9 334.5h0" stroke="#468cd2" stroke-width="1" stroke-opacity="0.4"/><path d="M339.3 348.9h0" stroke="#468cd2" stroke-width="1" stroke-opacity="0.6"/><path d="M448.7 346.5h0M489.3 367.2h0" stroke="#468cd2" stroke-width="1" stroke-opacity="0.8"/><path d="M460.7 286.7h0" stroke="#468cdc" stroke-width="1" stroke-opacity="0.4"/><path d="M398 257.1h0M426.5 376.1h0" stroke="#468ce6" stroke-width="1" stroke-opacity="0.4"/><path d="M475.8 367.4h0" stroke="#468ce6" stroke-width="1" stroke-opacity="0.8"/><path d="M437.5 323.4h0" stroke="#468cf0" stroke-width="1" stroke-opacity="0.6"/><path d="M310.6 312.2h0" stroke="#468cf0" stroke-width="1" stroke-opacity="0.8"/><path d="M482.4 308.4h0M507.4 327.6h0" stroke="#468cfa" stroke-width="1" stroke-opacity="0.6"/><path d="M474.7 381.9h0M402 339.6h0" stroke="#505ac8" stroke-width="1" stroke-opacity="0.4"/><path d="M372.4 356.9h0" stroke="#505ac8" stroke-width="1" stroke-opacity="0.8"/><path d="M439 381.8h0" stroke="#505ad2" stroke-width="1" stroke-opacity="0.4"/><path d="M422.5 372.3h0M441.3 312.9h0M454.1 263.8h0" stroke="#505ad2" stroke-width="1" stroke-opacity="0.6"/><path d="M456.2 363.7h0" stroke="#505adc" stroke-width="1" stroke-opacity="0.4"/><path d="M412.5 319.6h0" stroke="#505adc" stroke-width="1" stroke-opacity="0.6"/><path d="M498.6 332.8h0M516.6 341.1h0" stroke="#505ae6" stroke-width="1" stroke-opacity="0.4"/><path d="M447.4 364.2h0" stroke="#505ae6" stroke-width="1" stroke-opacity="0.6"/><path d="M347.2 314.3h0" stroke="#505ae6" stroke-width="1" stroke-opacity="0.8"/><path d="M380.6 335.9h0M377.9 295.8h0M425.5 279.5h0M326.8 331.9h0" stroke="#505af0" stroke-width="1" stroke-opacity="0.4"/><path d="M508.5 321.3h0M503.3 346.4h0M339 353.4h0M457 382.3h0" stroke="#505af0" stroke-width="1" stroke-opacity="0.6"/><path d="M361.1 296.1h0M429 340.5h0M482.9 355.1h0" stroke="#505af0" stroke-width="1" stroke-opacity="0.8"/><path d="M349 297.7h0" stroke="#505afa" stroke-width="1" stroke-opacity="0.4"/><path d="M376.7 328.6h0" stroke="#505aff" stroke-width="1" stroke-opacity="0.8"/><path d="M409.3 261.9h0" stroke="#5064c8" stroke-width="1" stroke-opacity="0.6"/><path d="M406.4 378.7h0M355 325.2h0M468.7 377.1h0M467.1 292.2h0M508 356.7h0" stroke="#5064d2" stroke-width="1" stroke-opacity="0.6"/><path d="M397.1 350.5h0M467.9 315h0" stroke="#5064d2" stroke-width="1" stroke-opacity="0.8"/><path d="M351.8 350.2h0M371.5 359.8h0M433.8 345.3h0" stroke="#5064dc" stroke-width="1" stroke-opacity="0.4"/><path d="M482.3 361h0M318.9 299.8h0M484.3 350.3h0" stroke="#5064dc" stroke-width="1" stroke-opacity="0.6"/><path d="M312.1 295.8h0M375.3 357.8h0" stroke="#5064dc" stroke-width="1" stroke-opacity="0.8"/><path d="M485.1 362.7h0" stroke="#5064e6" stroke-width="1" stroke-opacity="0.4"/><path d="M393.3 254.2h0M395.2 379.7h0M480 377.9h0" stroke="#5064e6" stroke-width="1" stroke-opacity="0.6"/><path d="M487.8 343.1h0M437.6 366.9h0M497.3 311h0M502.9 369h0" stroke="#5064f0" stroke-width="1" stroke-opacity="0.4"/><path d="M309.4 331.9h0M510.4 354.4h0M467.7 358.1h0M484 377.4h0" stroke="#5064f0" stroke-width="1" stroke-opacity="0.6"/><path d="M335.8 350.8h0M474.7 382.1h0M489.2 284.5h0" stroke="#5064f0" stroke-width="1" stroke-opacity="0.8"/><path d="M313.4 336.4h0M501.8 364.6h0" stroke="#5064fa" stroke-width="1" stroke-opacity="0.4"/><path d="M315.2 336.6h0M364.8 364.9h0M427.5 235.1h0M392 319.3h0M516.7 349h0M338.3 292.5h0" stroke="#5064fa" stroke-width="1" stroke-opacity="0.6"/><path d="M476.3 300.9h0M418.1 370.8h0M516.1 351h0M484.8 359.8h0" stroke="#5064fa" stroke-width="1" stroke-opacity="0.8"/><path d="M381.4 273.3h0" stroke="#5064ff" stroke-width="1" stroke-opacity="0.8"/><path d="M308.1 329.1h0" stroke="#506ec8" stroke-width="1" stroke-opacity="0.6"/><path d="M403.5 268.3h0" stroke="#506ec8" stroke-width="1" stroke-opacity="0.8"/><path d="M480.9 372.3h0M330.9 316.7h0M472.8 357.8h0" stroke="#506ed2" stroke-width="1" stroke-opacity="0.4"/><path d="M399.1 382.9h0" stroke="#506ed2" stroke-width="1" stroke-opacity="0.6"/><path d="M367.2 313.9h0M409.1 350.1h0M479.9 338.5h0M378.3 281.4h0" stroke="#506ed2" stroke-width="1" stroke-opacity="0.8"/><path d="M430.6 382.5h0M479.6 302.3h0M334 318.7h0M400.3 254.6h0" stroke="#506edc" stroke-width="1" stroke-opacity="0.6"/><path d="M388.1 353h0" stroke="#506ee6" stroke-width="1" stroke-opacity="0.4"/><path d="M312.7 301.8h0M345.4 319.2h0" stroke="#506ee6" stroke-width="1" stroke-opacity="0.6"/><path d="M486.9 321.9h0M471.8 290.2h0M385.4 249.8h0" stroke="#506ee6" stroke-width="1" stroke-opacity="0.8"/><path d="M311.8 311.5h0" stroke="#506ef0" stroke-width="1" stroke-opacity="0.4"/><path d="M390.1 302h0M387.7 355.6h0" stroke="#506ef0" stroke-width="1" stroke-opacity="0.6"/><path d="M498.7 299.1h0" stroke="#506efa" stroke-width="1" stroke-opacity="0.4"/><path d="M350.2 354.3h0M472.5 355.6h0M432.5 374.8h0M327.1 319.1h0" stroke="#506efa" stroke-width="1" stroke-opacity="0.6"/><path d="M421.1 379.5h0M388.9 362.4h0M357.7 352.5h0M456.5 250.5h0" stroke="#5078c8" stroke-width="1" stroke-opacity="0.6"/><path d="M443.6 258h0" stroke="#5078c8" stroke-width="1" stroke-opacity="0.8"/><path d="M380 346.4h0" stroke="#5078d2" stroke-width="1" stroke-opacity="0.4"/><path d="M502 353.1h0" stroke="#5078d2" stroke-width="1" stroke-opacity="0.8"/><path d="M414 298.2h0M470.5 297h0M309.2 314.7h0" stroke="#5078dc" stroke-width="1" stroke-opacity="0.4"/><path d="M384.6 364.5h0" stroke="#5078dc" stroke-width="1" stroke-opacity="0.6"/><path d="M405.3 273.9h0" stroke="#5078e6" stroke-width="1" stroke-opacity="0.4"/><path d="M416.2 284h0" stroke="#5078e6" stroke-width="1" stroke-opacity="0.6"/><path d="M431.3 297h0M480.7 355.1h0M320.3 306.1h0M437.9 368.7h0" stroke="#5078e6" stroke-width="1" stroke-opacity="0.8"/><path d="M476.1 286.6h0M315.2 334.8h0M473.4 309.5h0M394.5 240.5h0" stroke="#5078f0" stroke-width="1" stroke-opacity="0.4"/><path d="M465.6 367.2h0M318.8 295.9h0M472.6 279h0" stroke="#5078f0" stroke-width="1" stroke-opacity="0.6"/><path d="M371 309h0M342.7 346.9h0M411.4 347.1h0M374.8 332.6h0" stroke="#5078f0" stroke-width="1" stroke-opacity="0.8"/><path d="M356.3 350.6h0" stroke="#5078fa" stroke-width="1" stroke-opacity="0.4"/><path d="M427.3 295.2h0M460.3 305h0M500.3 331.9h0M491.8 354.3h0M358.6 359.2h0" stroke="#5078fa" stroke-width="1" stroke-opacity="0.8"/><path d="M439.2 355.2h0" stroke="#5078ff" stroke-width="1" stroke-opacity="0.4"/><path d="M368.9 351.9h0M496.6 312.3h0M461.9 284.2h0" stroke="#5082c8" stroke-width="1" stroke-opacity="0.4"/><path d="M429.5 364.5h0" stroke="#5082c8" stroke-width="1" stroke-opacity="0.6"/><path d="M340.4 340.4h0M407.3 324.5h0M482.6 333.9h0" stroke="#5082d2" stroke-width="1" stroke-opacity="0.4"/><path d="M476.8 329.8h0" stroke="#5082d2" stroke-width="1" stroke-opacity="0.6"/><path d="M462.1 287.7h0M463.2 277.8h0M400.2 351.6h0" stroke="#5082d2" stroke-width="1" stroke-opacity="0.8"/><path d="M482.7 305.4h0M448 379.2h0M474.9 345.2h0M412.8 248.5h0M380.7 372.5h0M387.4 324.6h0M495 332.6h0" stroke="#5082dc" stroke-width="1" stroke-opacity="0.4"/><path d="M474 312.4h0M486 342.7h0" stroke="#5082dc" stroke-width="1" stroke-opacity="0.6"/><path d="M491.7 313h0M499.3 368.7h0" stroke="#5082dc" stroke-width="1" stroke-opacity="0.8"/><path d="M372.1 319.9h0M441 330.6h0M498.6 369.4h0" stroke="#5082e6" stroke-width="1" stroke-opacity="0.4"/><path d="M398.1 259.2h0M462.2 326.3h0" stroke="#5082e6" stroke-width="1" stroke-opacity="0.6"/><path d="M498 350.5h0M382.4 286.8h0M509.6 368.6h0" stroke="#5082f0" stroke-width="1" stroke-opacity="0.6"/><path d="M427.3 382.3h0" stroke="#5082f0" stroke-width="1" stroke-opacity="0.8"/><path d="M492.7 296.1h0M367.5 348h0" stroke="#5082fa" stroke-width="1" stroke-opacity="0.4"/><path d="M437.8 363.8h0M373.3 275.8h0M506.5 355.4h0M432.9 237.9h0" stroke="#5082fa" stroke-width="1" stroke-opacity="0.6"/><path d="M359.1 312.6h0" stroke="#5082fa" stroke-width="1" stroke-opacity="0.8"/><path d="M381 322.5h0M420.6 365.5h0" stroke="#508cc8" stroke-width="1" stroke-opacity="0.4"/><path d="M336.9 288.5h0M495.7 371.9h0" stroke="#508cc8" stroke-width="1" stroke-opacity="0.6"/><path d="M353.7 362.5h0M436.2 380.5h0" stroke="#508cc8" stroke-width="1" stroke-opacity="0.8"/><path d="M365 340h0M368.9 352.6h0M452.4 270.2h0M419.9 290.8h0" stroke="#508cd2" stroke-width="1" stroke-opacity="0.4"/><path d="M399 293.8h0M426.5 232.4h0M457.5 355.7h0" stroke="#508cd2" stroke-width="1" stroke-opacity="0.6"/><path d="M384.5 296.9h0M455.9 319.5h0M517.3 342.4h0M507.8 326.1h0" stroke="#508cdc" stroke-width="1" stroke-opacity="0.4"/><path d="M308 300.5h0M447.5 373.5h0M362.6 307.7h0M426.7 359h0M489 357.6h0M453 284.4h0M477.5 350.2h0M324.4 322h0M339.9 299.2h0" stroke="#508cdc" stroke-width="1" stroke-opacity="0.6"/><path d="M499.9 298.4h0M386.9 372.2h0M470.1 363.4h0" stroke="#508cdc" stroke-width="1" stroke-opacity="0.8"/><path d="M478.3 287.9h0M390.9 378.4h0" stroke="#508ce6" stroke-width="1" stroke-opacity="0.4"/><path d="M355.4 274.1h0M499.7 363.1h0M395.6 239.8h0M474.1 272.3h0M371.4 289.6h0M313.3 306.7h0" stroke="#508ce6" stroke-width="1" stroke-opacity="0.6"/><path d="M491.2 375h0M506.6 357h0" stroke="#508cf0" stroke-width="1" stroke-opacity="0.4"/><path d="M508.2 327.3h0M482.3 308.3h0M355.5 317.7h0" stroke="#508cf0" stroke-width="1" stroke-opacity="0.6"/><path d="M354.2 363.5h0M479.7 320.7h0" stroke="#508cf0" stroke-width="1" stroke-opacity="0.8"/><path d="M337.3 299.2h0M494.6 353.3h0" stroke="#508cfa" stroke-width="1" stroke-opacity="0.4"/><path d="M468.7 290.7h0" stroke="#508cfa" stroke-width="1" stroke-opacity="0.6"/><path d="M403.3 259.7h0M315.3 335.1h0" stroke="#508cfa" stroke-width="1" stroke-opacity="0.8"/><path d="M460.3 268.6h0" stroke="#5a5ac8" stroke-width="1" stroke-opacity="0.6"/><path d="M379.5 302.8h0" stroke="#5a5ad2" stroke-width="1" stroke-opacity="0.8"/><path d="M434.1 385.7h0" stroke="#5a5adc" stroke-width="1" stroke-opacity="0.6"/><path d="M342.6 329.8h0M424.9 371.4h0" stroke="#5a5ae6" stroke-width="1" stroke-opacity="0.8"/><path d="M347.1 279.5h0" stroke="#5a5af0" stroke-width="1" stroke-opacity="0.4"/><path d="M489.4 366.5h0" stroke="#5a5af0" stroke-width="1" stroke-opacity="0.6"/><path d="M361.6 365.2h0" stroke="#5a5afa" stroke-width="1" stroke-opacity="0.4"/><path d="M301.8 308.5h0" stroke="#5a5afa" stroke-width="1" stroke-opacity="0.6"/><path d="M333.9 338.9h0" stroke="#5a5afa" stroke-width="1" stroke-opacity="0.8"/><path d="M454.5 377.3h0" stroke="#5a64c8" stroke-width="1" stroke-opacity="0.4"/><path d="M455.1 368.9h0M350.9 345.8h0" stroke="#5a64c8" stroke-width="1" stroke-opacity="0.8"/><path d="M355.2 300.1h0" stroke="#5a64d2" stroke-width="1" stroke-opacity="0.4"/><path d="M437.5 308.2h0M413.1 347.4h0M432.1 257.1h0M426.5 259.9h0M410.4 371.3h0" stroke="#5a64d2" stroke-width="1" stroke-opacity="0.6"/><path d="M415.8 301.8h0M391.8 366.9h0M455 325h0M445 368.7h0" stroke="#5a64dc" stroke-width="1" stroke-opacity="0.4"/><path d="M365.6 324.5h0M517 355.2h0M372.6 315.8h0M464.2 361.2h0M338.3 324.6h0M502.2 354.7h0M337.1 295.1h0M311.8 322.3h0M441.8 333.3h0" stroke="#5a64dc" stroke-width="1" stroke-opacity="0.6"/><path d="M407.4 258.3h0M410.9 230.6h0" stroke="#5a64dc" stroke-width="1" stroke-opacity="0.8"/><path d="M333.3 304.9h0M330.3 350h0" stroke="#5a64e6" stroke-width="1" stroke-opacity="0.4"/><path d="M377.8 340.4h0M311.7 317.7h0M466.7 281.1h0" stroke="#5a64e6" stroke-width="1" stroke-opacity="0.6"/><path d="M457.3 362.2h0M333.1 289h0M354.2 292.5h0" stroke="#5a64e6" stroke-width="1" stroke-opacity="0.8"/><path d="M473.9 321.3h0M346.9 309.5h0" stroke="#5a64f0" stroke-width="1" stroke-opacity="0.4"/><path d="M405.4 237.3h0M481.5 292.3h0M339 289.3h0M388.3 337.2h0" stroke="#5a64f0" stroke-width="1" stroke-opacity="0.6"/><path d="M507.1 330.3h0M398.2 295.2h0" stroke="#5a64f0" stroke-width="1" stroke-opacity="0.8"/><path d="M436.1 256.4h0M468.7 355.3h0" stroke="#5a64fa" stroke-width="1" stroke-opacity="0.6"/><path d="M451.3 294.2h0M424.7 230h0M412.6 379.2h0M408.1 358.1h0" stroke="#5a64fa" stroke-width="1" stroke-opacity="0.8"/><path d="M354.4 327.8h0" stroke="#5a64ff" stroke-width="1" stroke-opacity="0.6"/><path d="M351 308h0M376.9 308.2h0M332.4 313.1h0" stroke="#5a6ec8" stroke-width="1" stroke-opacity="0.4"/><path d="M339.8 327.5h0" stroke="#5a6ec8" stroke-width="1" stroke-opacity="0.8"/><path d="M369.6 271.7h0M488.8 363.8h0" stroke="#5a6ed2" stroke-width="1" stroke-opacity="0.4"/><path d="M475.7 362.7h0M412.1 365.8h0" stroke="#5a6ed2" stroke-width="1" stroke-opacity="0.6"/><path d="M413.4 360.6h0" stroke="#5a6ed2" stroke-width="1" stroke-opacity="0.8"/><path d="M331.5 316.5h0M468.2 276.1h0" stroke="#5a6edc" stroke-width="1" stroke-opacity="0.6"/><path d="M491.2 378.8h0" stroke="#5a6ee6" stroke-width="1" stroke-opacity="0.6"/><path d="M314.4 310.4h0M373.9 362.7h0" stroke="#5a6ee6" stroke-width="1" stroke-opacity="0.8"/><path d="M342.8 356.3h0M455.2 326.6h0M490.8 370h0" stroke="#5a6ef0" stroke-width="1" stroke-opacity="0.4"/><path d="M521.2 353.7h0" stroke="#5a6ef0" stroke-width="1" stroke-opacity="0.6"/><path d="M318.6 303.9h0" stroke="#5a6ef0" stroke-width="1" stroke-opacity="0.8"/><path d="M507.9 322.1h0" stroke="#5a6efa" stroke-width="1" stroke-opacity="0.4"/><path d="M380.1 298h0" stroke="#5a78c8" stroke-width="1" stroke-opacity="0.4"/><path d="M477.8 357.2h0" stroke="#5a78c8" stroke-width="1" stroke-opacity="0.6"/><path d="M341.8 306.8h0M368 281.8h0M322.6 343.7h0M461 381.3h0" stroke="#5a78d2" stroke-width="1" stroke-opacity="0.4"/><path d="M373.7 370.4h0" stroke="#5a78d2" stroke-width="1" stroke-opacity="0.6"/><path d="M511.1 358.2h0M354.8 337.8h0" stroke="#5a78d2" stroke-width="1" stroke-opacity="0.8"/><path d="M389.7 365.9h0M318.7 329.2h0M362.8 324.6h0M430.6 383.6h0" stroke="#5a78dc" stroke-width="1" stroke-opacity="0.4"/><path d="M501.1 325.8h0M347.6 306.1h0M488.8 366.9h0M422 383.6h0" stroke="#5a78dc" stroke-width="1" stroke-opacity="0.6"/><path d="M495.5 353.9h0" stroke="#5a78dc" stroke-width="1" stroke-opacity="0.8"/><path d="M502.6 325.5h0M406.8 327.7h0" stroke="#5a78e6" stroke-width="1" stroke-opacity="0.4"/><path d="M405.6 262.6h0M373.2 310.1h0M493.7 343h0M367.2 342h0" stroke="#5a78e6" stroke-width="1" stroke-opacity="0.6"/><path d="M425 305.2h0M447.4 374.2h0" stroke="#5a78e6" stroke-width="1" stroke-opacity="0.8"/><path d="M468.7 367h0M370.1 324.1h0" stroke="#5a78f0" stroke-width="1" stroke-opacity="0.4"/><path d="M329.4 337.5h0M411.3 274.5h0M392.5 273.6h0M371.8 286.4h0" stroke="#5a78fa" stroke-width="1" stroke-opacity="0.4"/><path d="M334.1 331.7h0M348.8 298.4h0M514 335.4h0" stroke="#5a78fa" stroke-width="1" stroke-opacity="0.6"/><path d="M340.5 314.7h0" stroke="#5a78fa" stroke-width="1" stroke-opacity="0.8"/><path d="M325.8 304.6h0" stroke="#5a82c8" stroke-width="1" stroke-opacity="0.4"/><path d="M361.2 274.2h0M417.1 355.8h0M348.3 308.6h0" stroke="#5a82d2" stroke-width="1" stroke-opacity="0.4"/><path d="M385.6 322.6h0" stroke="#5a82d2" stroke-width="1" stroke-opacity="0.6"/><path d="M488.5 330.2h0M474.7 292h0M493.5 370.5h0" stroke="#5a82d2" stroke-width="1" stroke-opacity="0.8"/><path d="M308.2 304.9h0M468.8 267.5h0M483.5 294.9h0" stroke="#5a82dc" stroke-width="1" stroke-opacity="0.4"/><path d="M468.4 328.2h0M456.3 385h0M507.6 320.4h0" stroke="#5a82dc" stroke-width="1" stroke-opacity="0.6"/><path d="M463 288.1h0" stroke="#5a82dc" stroke-width="1" stroke-opacity="0.8"/><path d="M493.2 353h0M424.5 230.4h0M383.2 323.1h0M433.3 369.3h0" stroke="#5a82e6" stroke-width="1" stroke-opacity="0.4"/><path d="M449.9 375.8h0M504.7 340.9h0" stroke="#5a82e6" stroke-width="1" stroke-opacity="0.6"/><path d="M322.6 320.5h0" stroke="#5a82e6" stroke-width="1" stroke-opacity="0.8"/><path d="M467.2 375.4h0M347.2 339.4h0M410.7 303.9h0" stroke="#5a82f0" stroke-width="1" stroke-opacity="0.4"/><path d="M348.8 348.3h0M421.5 372.9h0M362 360.1h0" stroke="#5a82f0" stroke-width="1" stroke-opacity="0.6"/><path d="M479.5 278.6h0M481.8 271.3h0M416.5 273.9h0" stroke="#5a82f0" stroke-width="1" stroke-opacity="0.8"/><path d="M466.5 292.3h0" stroke="#5a82fa" stroke-width="1" stroke-opacity="0.6"/><path d="M346.7 353.3h0M338.3 356.9h0" stroke="#5a82fa" stroke-width="1" stroke-opacity="0.8"/><path d="M398.3 376.6h0" stroke="#5a8cc8" stroke-width="1" stroke-opacity="0.4"/><path d="M331.3 294.9h0M486.1 322h0" stroke="#5a8cc8" stroke-width="1" stroke-opacity="0.6"/><path d="M405.7 253h0" stroke="#5a8cc8" stroke-width="1" stroke-opacity="0.8"/><path d="M455.6 363.6h0" stroke="#5a8cd2" stroke-width="1" stroke-opacity="0.4"/><path d="M415.6 335.1h0" stroke="#5a8cd2" stroke-width="1" stroke-opacity="0.6"/><path d="M414 281h0M478.1 290.9h0M332.6 305.3h0" stroke="#5a8cdc" stroke-width="1" stroke-opacity="0.4"/><path d="M396 248.2h0M495.2 336.2h0M301.6 317.8h0M432.6 343.9h0M390.3 305.2h0M458.3 272.3h0" stroke="#5a8cdc" stroke-width="1" stroke-opacity="0.6"/><path d="M413.8 336.5h0" stroke="#5a8cdc" stroke-width="1" stroke-opacity="0.8"/><path d="M420.7 367.8h0" stroke="#5a8ce6" stroke-width="1" stroke-opacity="0.4"/><path d="M342.8 328.2h0M409.9 373.2h0M329.4 329h0M368.9 329.1h0M313.2 316.1h0M380.7 332.2h0M430.4 374.4h0" stroke="#5a8ce6" stroke-width="1" stroke-opacity="0.6"/><path d="M327.4 331.2h0M466.6 384.3h0" stroke="#5a8ce6" stroke-width="1" stroke-opacity="0.8"/><path d="M427.5 300.7h0" stroke="#5a8cf0" stroke-width="1" stroke-opacity="0.4"/><path d="M434 386.5h0" stroke="#5a8cf0" stroke-width="1" stroke-opacity="0.6"/><path d="M421.2 317.5h0" stroke="#5a8cf0" stroke-width="1" stroke-opacity="0.8"/><path d="M399.6 267.7h0" stroke="#5a8cfa" stroke-width="1" stroke-opacity="0.4"/><path d="M484.5 338.7h0M485.4 334.6h0M466.6 348.9h0M308.9 322.4h0" stroke="#5a8cfa" stroke-width="1" stroke-opacity="0.6"/><path d="M432.4 280.9h0M381 366.2h0" stroke="#5a8cfa" stroke-width="1" stroke-opacity="0.8"/><path d="M452.8 349h0" stroke="#645ac8" stroke-width="1" stroke-opacity="0.4"/><path d="M344.9 288.4h0" stroke="#645ac8" stroke-width="1" stroke-opacity="0.6"/><path d="M305.3 314.3h0" stroke="#645ad2" stroke-width="1" stroke-opacity="0.4"/><path d="M517 360.8h0M447.2 265.5h0" stroke="#645ad2" stroke-width="1" stroke-opacity="0.6"/><path d="M382.7 346.6h0" stroke="#645ad2" stroke-width="1" stroke-opacity="0.8"/><path d="M436.2 237.5h0" stroke="#645adc" stroke-width="1" stroke-opacity="0.4"/><path d="M376 359.8h0M464.5 278.9h0" stroke="#645adc" stroke-width="1" stroke-opacity="0.6"/><path d="M323.4 331.6h0M305.3 328.9h0M301.7 328.1h0" stroke="#645adc" stroke-width="1" stroke-opacity="0.8"/><path d="M434.4 381.8h0" stroke="#645ae6" stroke-width="1" stroke-opacity="0.4"/><path d="M365.1 300.4h0M309.8 317.2h0M475.5 296.3h0M449.9 384.5h0" stroke="#645af0" stroke-width="1" stroke-opacity="0.4"/><path d="M363.3 311.5h0" stroke="#645af0" stroke-width="1" stroke-opacity="0.6"/><path d="M509.6 328.6h0M343.6 312.3h0" stroke="#645afa" stroke-width="1" stroke-opacity="0.4"/><path d="M481.6 366.6h0" stroke="#645afa" stroke-width="1" stroke-opacity="0.6"/><path d="M388.2 263.7h0M471.3 343.2h0M459.4 365.8h0" stroke="#6464c8" stroke-width="1" stroke-opacity="0.6"/><path d="M326.3 284.6h0M356.2 311.9h0M387.8 344.5h0" stroke="#6464d2" stroke-width="1" stroke-opacity="0.4"/><path d="M411.4 239.1h0" stroke="#6464d2" stroke-width="1" stroke-opacity="0.6"/><path d="M421.6 337.8h0M493.6 373.3h0M378.6 347.9h0" stroke="#6464dc" stroke-width="1" stroke-opacity="0.4"/><path d="M326.5 294.2h0" stroke="#6464dc" stroke-width="1" stroke-opacity="0.8"/><path d="M462.8 375.6h0M312.8 301.8h0M302.4 304.1h0M376.7 347.2h0" stroke="#6464e6" stroke-width="1" stroke-opacity="0.4"/><path d="M354.9 276.8h0M355.3 348.9h0M418.6 366.3h0M472.8 296.4h0M387.5 376.7h0" stroke="#6464e6" stroke-width="1" stroke-opacity="0.6"/><path d="M330.4 312.4h0" stroke="#6464e6" stroke-width="1" stroke-opacity="0.8"/><path d="M399.1 241.2h0M326.1 323.2h0M438.2 386.1h0" stroke="#6464f0" stroke-width="1" stroke-opacity="0.4"/><path d="M380.6 357.2h0M453.5 377.6h0" stroke="#6464f0" stroke-width="1" stroke-opacity="0.6"/><path d="M377.3 304.5h0" stroke="#6464f0" stroke-width="1" stroke-opacity="0.8"/><path d="M464.9 325.3h0" stroke="#6464fa" stroke-width="1" stroke-opacity="0.4"/><path d="M342.3 318.1h0" stroke="#6464fa" stroke-width="1" stroke-opacity="0.8"/><path d="M365.7 279.8h0M317 299.5h0M446.4 347.3h0" stroke="#646ec8" stroke-width="1" stroke-opacity="0.6"/><path d="M474.6 360.1h0M425.3 353.4h0" stroke="#646ed2" stroke-width="1" stroke-opacity="0.6"/><path d="M467.6 352.5h0" stroke="#646ed2" stroke-width="1" stroke-opacity="0.8"/><path d="M444.5 362.3h0M428.6 302.8h0M314.7 332.7h0M338 333.9h0M452.5 314.4h0M476.1 319.4h0" stroke="#646edc" stroke-width="1" stroke-opacity="0.4"/><path d="M365.3 364h0" stroke="#646edc" stroke-width="1" stroke-opacity="0.6"/><path d="M457.9 362.6h0" stroke="#646edc" stroke-width="1" stroke-opacity="0.8"/><path d="M360.5 353.6h0M474.9 290.2h0" stroke="#646ee6" stroke-width="1" stroke-opacity="0.4"/><path d="M486.1 329.3h0" stroke="#646ee6" stroke-width="1" stroke-opacity="0.6"/><path d="M316.7 303.5h0M315.5 327.2h0M430.6 291.2h0" stroke="#646ef0" stroke-width="1" stroke-opacity="0.4"/><path d="M520.1 351.6h0" stroke="#646ef0" stroke-width="1" stroke-opacity="0.6"/><path d="M303.9 302.5h0M422.8 332.9h0" stroke="#646ef0" stroke-width="1" stroke-opacity="0.8"/><path d="M453.7 382.1h0M470.7 323.7h0M490.6 349.8h0" stroke="#646efa" stroke-width="1" stroke-opacity="0.4"/><path d="M516 338.3h0M483 373h0M386.7 242.5h0M451 317.4h0" stroke="#646efa" stroke-width="1" stroke-opacity="0.6"/><path d="M394.8 349.9h0M378.9 264.7h0" stroke="#646efa" stroke-width="1" stroke-opacity="0.8"/><path d="M365.6 365.8h0M335.7 323.1h0" stroke="#6478c8" stroke-width="1" stroke-opacity="0.4"/><path d="M470.8 303.6h0M510.1 331.2h0" stroke="#6478c8" stroke-width="1" stroke-opacity="0.6"/><path d="M298.8 320.1h0M421.7 314.2h0" stroke="#6478d2" stroke-width="1" stroke-opacity="0.4"/><path d="M419.5 238.2h0M498.1 292.6h0" stroke="#6478d2" stroke-width="1" stroke-opacity="0.6"/><path d="M418.3 358.8h0M487.7 377.9h0M333.3 335.1h0M437.4 273.2h0" stroke="#6478dc" stroke-width="1" stroke-opacity="0.4"/><path d="M421.3 250.7h0M482 327.2h0M497.7 307.8h0M507.6 364.5h0" stroke="#6478dc" stroke-width="1" stroke-opacity="0.6"/><path d="M341.1 324h0M392.9 377.7h0" stroke="#6478e6" stroke-width="1" stroke-opacity="0.4"/><path d="M405 346.3h0M417.1 288.1h0" stroke="#6478e6" stroke-width="1" stroke-opacity="0.6"/><path d="M344.9 283.1h0M468.5 335.6h0M456 294.4h0" stroke="#6478f0" stroke-width="1" stroke-opacity="0.4"/><path d="M433.7 376.3h0M313.7 335h0M312.3 304.6h0M452.5 319.7h0M473.5 379.3h0M493.2 288.2h0" stroke="#6478f0" stroke-width="1" stroke-opacity="0.6"/><path d="M515.5 352.5h0M484.8 331.1h0M371.6 276.3h0M318.8 309.3h0" stroke="#6478fa" stroke-width="1" stroke-opacity="0.4"/><path d="M396.5 261.4h0M417.5 265h0M450.4 364.1h0M370.6 336.1h0M306 324.8h0" stroke="#6478fa" stroke-width="1" stroke-opacity="0.6"/><path d="M488 335.6h0M406.9 255.8h0" stroke="#6478fa" stroke-width="1" stroke-opacity="0.8"/><path d="M310.6 325.2h0" stroke="#6482c8" stroke-width="1" stroke-opacity="0.6"/><path d="M420.1 287.1h0M365.4 337.6h0" stroke="#6482d2" stroke-width="1" stroke-opacity="0.4"/><path d="M474.9 347h0" stroke="#6482d2" stroke-width="1" stroke-opacity="0.6"/><path d="M311.7 302.9h0M340.8 289.8h0M372.3 342.1h0" stroke="#6482dc" stroke-width="1" stroke-opacity="0.4"/><path d="M418.4 328.4h0M318.2 333.7h0M358.6 322.1h0" stroke="#6482dc" stroke-width="1" stroke-opacity="0.6"/><path d="M492.5 324.6h0" stroke="#6482dc" stroke-width="1" stroke-opacity="0.8"/><path d="M438.2 264.8h0" stroke="#6482e6" stroke-width="1" stroke-opacity="0.4"/><path d="M313.3 313.3h0M448 277.5h0M361.2 356.4h0" stroke="#6482e6" stroke-width="1" stroke-opacity="0.6"/><path d="M426.9 268.7h0M301.2 318.8h0" stroke="#6482e6" stroke-width="1" stroke-opacity="0.8"/><path d="M460 308.7h0" stroke="#6482f0" stroke-width="1" stroke-opacity="0.4"/><path d="M427 232h0M504.6 315.3h0" stroke="#6482f0" stroke-width="1" stroke-opacity="0.6"/><path d="M505.5 318.6h0M345.2 317.5h0" stroke="#6482f0" stroke-width="1" stroke-opacity="0.8"/><path d="M318.4 315.7h0" stroke="#6482fa" stroke-width="1" stroke-opacity="0.4"/><path d="M425.4 379.9h0M415.4 236.8h0M463.4 323.5h0M394.5 361.3h0" stroke="#6482fa" stroke-width="1" stroke-opacity="0.6"/><path d="M316.2 332.4h0" stroke="#648cc8" stroke-width="1" stroke-opacity="0.4"/><path d="M406.2 377.3h0M501.2 372.1h0" stroke="#648cc8" stroke-width="1" stroke-opacity="0.6"/><path d="M383.2 272.2h0M501.5 349.7h0M371.2 363.2h0" stroke="#648cc8" stroke-width="1" stroke-opacity="0.8"/><path d="M456.7 344.6h0" stroke="#648cd2" stroke-width="1" stroke-opacity="0.4"/><path d="M482 369.9h0M491.2 295.2h0M392.7 251h0" stroke="#648cd2" stroke-width="1" stroke-opacity="0.8"/><path d="M458.5 368.3h0" stroke="#648cdc" stroke-width="1" stroke-opacity="0.4"/><path d="M427.8 349.7h0" stroke="#648cdc" stroke-width="1" stroke-opacity="0.6"/><path d="M405.5 232h0M384.7 329.8h0" stroke="#648ce6" stroke-width="1" stroke-opacity="0.4"/><path d="M512.7 358.1h0M376.4 321.4h0" stroke="#648ce6" stroke-width="1" stroke-opacity="0.6"/><path d="M489.6 356.6h0M365.7 277.3h0" stroke="#648ce6" stroke-width="1" stroke-opacity="0.8"/><path d="M425.9 256.4h0M332.6 339.3h0M388.2 246.9h0M500.9 346.7h0M367.7 359.6h0" stroke="#648cf0" stroke-width="1" stroke-opacity="0.4"/><path d="M466.7 326.5h0M366.1 290h0M341.6 354.6h0" stroke="#648cf0" stroke-width="1" stroke-opacity="0.6"/><path d="M323.5 314.9h0M379.9 356h0M339.3 302.6h0M354.6 353.9h0" stroke="#648cfa" stroke-width="1" stroke-opacity="0.4"/><path d="M338.2 321h0M466.8 281.9h0" stroke="#648cfa" stroke-width="1" stroke-opacity="0.6"/><path d="M370.4 270.6h0" stroke="#6e5ac8" stroke-width="1" stroke-opacity="0.6"/><path d="M467.9 377.3h0" stroke="#6e5ad2" stroke-width="1" stroke-opacity="0.4"/><path d="M348 293.7h0" stroke="#6e5ad2" stroke-width="1" stroke-opacity="0.6"/><path d="M445.5 260.6h0M497.9 314.4h0M361.6 285.5h0" stroke="#6e5adc" stroke-width="1" stroke-opacity="0.6"/><path d="M454.2 376.6h0" stroke="#6e5ae6" stroke-width="1" stroke-opacity="0.6"/><path d="M324.2 328.3h0" stroke="#6e5ae6" stroke-width="1" stroke-opacity="0.8"/><path d="M414 370.1h0" stroke="#6e5af0" stroke-width="1" stroke-opacity="0.4"/><path d="M449.5 249.8h0" stroke="#6e5afa" stroke-width="1" stroke-opacity="0.4"/><path d="M507.3 338.7h0" stroke="#6e64c8" stroke-width="1" stroke-opacity="0.4"/><path d="M466 356.1h0" stroke="#6e64c8" stroke-width="1" stroke-opacity="0.6"/><path d="M312.5 322.8h0" stroke="#6e64d2" stroke-width="1" stroke-opacity="0.4"/><path d="M318.5 315.5h0M478.6 329.7h0" stroke="#6e64d2" stroke-width="1" stroke-opacity="0.6"/><path d="M377.2 337.9h0" stroke="#6e64d2" stroke-width="1" stroke-opacity="0.8"/><path d="M399.3 312.9h0M466.8 345.7h0M367 286.9h0" stroke="#6e64dc" stroke-width="1" stroke-opacity="0.4"/><path d="M335 286.8h0" stroke="#6e64dc" stroke-width="1" stroke-opacity="0.6"/><path d="M351.2 288.4h0M503.8 352.9h0" stroke="#6e64dc" stroke-width="1" stroke-opacity="0.8"/><path d="M482.9 330.5h0M497.5 340.3h0" stroke="#6e64e6" stroke-width="1" stroke-opacity="0.4"/><path d="M361.3 361.5h0M487.3 334h0M441.3 286.1h0M460.8 370.6h0M434.5 343.4h0" stroke="#6e64e6" stroke-width="1" stroke-opacity="0.6"/><path d="M475.1 314.4h0" stroke="#6e64f0" stroke-width="1" stroke-opacity="0.4"/><path d="M432.2 388h0M483.4 293.7h0" stroke="#6e64f0" stroke-width="1" stroke-opacity="0.6"/><path d="M429.9 231h0M311.9 328.7h0M473.1 368.1h0M311.6 308.1h0M309.6 312.6h0" stroke="#6e64f0" stroke-width="1" stroke-opacity="0.8"/><path d="M393.6 319.5h0M406.3 285.1h0M394.3 379.8h0" stroke="#6e64fa" stroke-width="1" stroke-opacity="0.4"/><path d="M441 304.6h0M386.7 376.2h0" stroke="#6e64fa" stroke-width="1" stroke-opacity="0.8"/><path d="M465.5 358.7h0" stroke="#6e6ec8" stroke-width="1" stroke-opacity="0.4"/><path d="M471 259.7h0" stroke="#6e6ec8" stroke-width="1" stroke-opacity="0.6"/><path d="M494.8 337.8h0M326 312.3h0M320.1 341.9h0" stroke="#6e6ed2" stroke-width="1" stroke-opacity="0.4"/><path d="M497.7 337h0" stroke="#6e6ed2" stroke-width="1" stroke-opacity="0.6"/><path d="M476.2 322.9h0" stroke="#6e6ed2" stroke-width="1" stroke-opacity="0.8"/><path d="M407.2 385.9h0M446.3 318.6h0M428.5 305h0" stroke="#6e6edc" stroke-width="1" stroke-opacity="0.4"/><path d="M423.5 318.2h0" stroke="#6e6edc" stroke-width="1" stroke-opacity="0.6"/><path d="M461 358.7h0M336.4 285.5h0" stroke="#6e6edc" stroke-width="1" stroke-opacity="0.8"/><path d="M360.6 300.4h0M403.8 314.1h0M384.3 353.9h0" stroke="#6e6ee6" stroke-width="1" stroke-opacity="0.4"/><path d="M318.3 340.5h0" stroke="#6e6ee6" stroke-width="1" stroke-opacity="0.6"/><path d="M342.9 297.7h0M513.6 337.9h0M449.7 371.2h0" stroke="#6e6ee6" stroke-width="1" stroke-opacity="0.8"/><path d="M476.2 362.8h0" stroke="#6e6ef0" stroke-width="1" stroke-opacity="0.4"/><path d="M301.3 322.5h0M474.7 338.7h0" stroke="#6e6ef0" stroke-width="1" stroke-opacity="0.6"/><path d="M499.3 349.3h0" stroke="#6e6ef0" stroke-width="1" stroke-opacity="0.8"/><path d="M343.2 304.2h0" stroke="#6e6efa" stroke-width="1" stroke-opacity="0.6"/><path d="M403.9 296.1h0M456 339.3h0" stroke="#6e6efa" stroke-width="1" stroke-opacity="0.8"/><path d="M449.9 246.5h0" stroke="#6e78c8" stroke-width="1" stroke-opacity="0.4"/><path d="M493.9 373.4h0M415.6 372.4h0" stroke="#6e78c8" stroke-width="1" stroke-opacity="0.6"/><path d="M397.4 370h0" stroke="#6e78c8" stroke-width="1" stroke-opacity="0.8"/><path d="M306.2 301.8h0M423.9 290.4h0M437.8 250.5h0M488.4 319.3h0" stroke="#6e78d2" stroke-width="1" stroke-opacity="0.4"/><path d="M436.7 343.4h0M498.4 358.1h0" stroke="#6e78d2" stroke-width="1" stroke-opacity="0.6"/><path d="M376.2 320.5h0" stroke="#6e78d2" stroke-width="1" stroke-opacity="0.8"/><path d="M377.2 290.8h0M348 328.6h0M510 356.8h0" stroke="#6e78dc" stroke-width="1" stroke-opacity="0.4"/><path d="M393.8 342.9h0M437.5 266.4h0M474.7 375.1h0" stroke="#6e78dc" stroke-width="1" stroke-opacity="0.6"/><path d="M340.6 324.2h0" stroke="#6e78dc" stroke-width="1" stroke-opacity="0.8"/><path d="M469.7 379.5h0M503.5 370.3h0" stroke="#6e78e6" stroke-width="1" stroke-opacity="0.4"/><path d="M422.8 370.7h0M479.8 339.2h0M377.5 278.9h0" stroke="#6e78e6" stroke-width="1" stroke-opacity="0.6"/><path d="M354.4 295h0M492.4 347.3h0" stroke="#6e78e6" stroke-width="1" stroke-opacity="0.8"/><path d="M408 364.5h0M395.4 248.4h0M474.1 270.7h0" stroke="#6e78f0" stroke-width="1" stroke-opacity="0.4"/><path d="M492 361h0" stroke="#6e78f0" stroke-width="1" stroke-opacity="0.6"/><path d="M500.2 372.5h0" stroke="#6e78f0" stroke-width="1" stroke-opacity="0.8"/><path d="M358.6 319.2h0M471.6 350.4h0M389.3 363h0" stroke="#6e78fa" stroke-width="1" stroke-opacity="0.6"/><path d="M438.2 255.9h0" stroke="#6e78fa" stroke-width="1" stroke-opacity="0.8"/><path d="M453.3 376.8h0M412.8 282.7h0" stroke="#6e82c8" stroke-width="1" stroke-opacity="0.4"/><path d="M499.3 312.7h0M506.8 342.8h0" stroke="#6e82d2" stroke-width="1" stroke-opacity="0.4"/><path d="M429 255.3h0" stroke="#6e82d2" stroke-width="1" stroke-opacity="0.6"/><path d="M473.3 263.2h0M335.4 317.1h0" stroke="#6e82d2" stroke-width="1" stroke-opacity="0.8"/><path d="M391.2 326.8h0" stroke="#6e82dc" stroke-width="1" stroke-opacity="0.4"/><path d="M496.9 342.4h0M497 373.7h0M418.6 252.2h0M360.9 362.1h0" stroke="#6e82dc" stroke-width="1" stroke-opacity="0.6"/><path d="M300.6 311.9h0" stroke="#6e82dc" stroke-width="1" stroke-opacity="0.8"/><path d="M441.8 368.8h0M382.7 292.8h0" stroke="#6e82e6" stroke-width="1" stroke-opacity="0.4"/><path d="M406.2 372.1h0M448.7 298h0" stroke="#6e82e6" stroke-width="1" stroke-opacity="0.6"/><path d="M429.6 310h0M373.9 282.7h0" stroke="#6e82e6" stroke-width="1" stroke-opacity="0.8"/><path d="M516.2 333.6h0" stroke="#6e82f0" stroke-width="1" stroke-opacity="0.4"/><path d="M468.5 358.9h0" stroke="#6e82f0" stroke-width="1" stroke-opacity="0.6"/><path d="M328.3 322.9h0M362.7 287.1h0" stroke="#6e82fa" stroke-width="1" stroke-opacity="0.6"/><path d="M474.6 372.2h0" stroke="#6e82ff" stroke-width="1" stroke-opacity="0.6"/><path d="M343.8 281.4h0M354.5 358.6h0" stroke="#6e8cc8" stroke-width="1" stroke-opacity="0.4"/><path d="M491.4 367.4h0" stroke="#6e8cc8" stroke-width="1" stroke-opacity="0.6"/><path d="M427.5 326.6h0M395.4 380.4h0" stroke="#6e8cc8" stroke-width="1" stroke-opacity="0.8"/><path d="M365.4 284.6h0M424.1 310.7h0" stroke="#6e8cd2" stroke-width="1" stroke-opacity="0.4"/><path d="M474.2 282.2h0" stroke="#6e8cd2" stroke-width="1" stroke-opacity="0.6"/><path d="M437.3 360h0" stroke="#6e8cd2" stroke-width="1" stroke-opacity="0.8"/><path d="M421.9 250.1h0M367.6 280.8h0M471.1 357h0" stroke="#6e8cdc" stroke-width="1" stroke-opacity="0.4"/><path d="M385.6 328h0M375.1 293.2h0M518.9 345.3h0" stroke="#6e8cdc" stroke-width="1" stroke-opacity="0.6"/><path d="M450.3 371.7h0" stroke="#6e8cdc" stroke-width="1" stroke-opacity="0.8"/><path d="M438.8 383.7h0M522.6 352.6h0" stroke="#6e8ce6" stroke-width="1" stroke-opacity="0.4"/><path d="M498.9 321.1h0M347.4 316.4h0M424.7 365h0M503.7 318.9h0" stroke="#6e8ce6" stroke-width="1" stroke-opacity="0.6"/><path d="M392.5 368.6h0M315.4 296.6h0M460.7 301h0" stroke="#6e8ce6" stroke-width="1" stroke-opacity="0.8"/><path d="M415.8 276.4h0" stroke="#6e8cf0" stroke-width="1" stroke-opacity="0.6"/><path d="M417.5 367.5h0M434 386.8h0M497.6 347.4h0M498.5 301.4h0" stroke="#6e8cfa" stroke-width="1" stroke-opacity="0.4"/><path d="M491.8 286.8h0" stroke="#6e8cfa" stroke-width="1" stroke-opacity="0.6"/><path d="M345.2 300.4h0" stroke="#6e8cfa" stroke-width="1" stroke-opacity="0.8"/><path d="M383.7 258.6h0" stroke="#6e8cff" stroke-width="1" stroke-opacity="0.4"/><path d="M409.6 384.6h0M429.6 381h0" stroke="#785ac8" stroke-width="1" stroke-opacity="0.6"/><path d="M384 264.5h0M478 373.2h0" stroke="#785ad2" stroke-width="1" stroke-opacity="0.6"/><path d="M304.1 324.9h0M404.8 349.4h0M343.9 321.1h0M379.6 315.1h0M513.1 352.7h0" stroke="#785adc" stroke-width="1" stroke-opacity="0.4"/><path d="M468 383.4h0" stroke="#785adc" stroke-width="1" stroke-opacity="0.8"/><path d="M482.7 272.2h0M378.3 357h0" stroke="#785ae6" stroke-width="1" stroke-opacity="0.8"/><path d="M467.6 378.4h0" stroke="#785af0" stroke-width="1" stroke-opacity="0.4"/><path d="M413.4 306.9h0M492.8 296.2h0" stroke="#785af0" stroke-width="1" stroke-opacity="0.6"/><path d="M411.1 232.6h0M480.6 288.3h0M324.3 347.3h0" stroke="#785afa" stroke-width="1" stroke-opacity="0.6"/><path d="M393.1 369.4h0M482.5 373.1h0M377.8 325.9h0" stroke="#7864c8" stroke-width="1" stroke-opacity="0.4"/><path d="M352.4 358.5h0M461.5 355h0M376.2 301.6h0" stroke="#7864c8" stroke-width="1" stroke-opacity="0.6"/><path d="M489.2 379.4h0" stroke="#7864c8" stroke-width="1" stroke-opacity="0.8"/><path d="M371 367.5h0M510.1 349.9h0M410.4 302.7h0M324.3 295.8h0" stroke="#7864d2" stroke-width="1" stroke-opacity="0.4"/><path d="M493.7 352.2h0M330.7 286.7h0M478.8 274.1h0M465.6 322.7h0" stroke="#7864d2" stroke-width="1" stroke-opacity="0.6"/><path d="M370.6 369h0M491.4 357.2h0" stroke="#7864dc" stroke-width="1" stroke-opacity="0.4"/><path d="M330.3 293.7h0M324.3 287h0M471.1 280.1h0M393.7 253.2h0M336.3 329.8h0" stroke="#7864dc" stroke-width="1" stroke-opacity="0.6"/><path d="M411.9 363.3h0" stroke="#7864dc" stroke-width="1" stroke-opacity="0.8"/><path d="M477.3 272.1h0M477.3 376.9h0" stroke="#7864e6" stroke-width="1" stroke-opacity="0.4"/><path d="M454.6 303.9h0M417.7 386.9h0M483.3 328.2h0" stroke="#7864e6" stroke-width="1" stroke-opacity="0.6"/><path d="M305.5 309.9h0M325 291.5h0M504 332.5h0" stroke="#7864e6" stroke-width="1" stroke-opacity="0.8"/><path d="M370.7 280.8h0M448.1 364.3h0" stroke="#7864f0" stroke-width="1" stroke-opacity="0.4"/><path d="M364.7 285.5h0M447.3 375.2h0M488.1 281.3h0M479.7 284.3h0M461.6 335h0M410.7 312.8h0" stroke="#7864f0" stroke-width="1" stroke-opacity="0.6"/><path d="M318.5 324.7h0M492.9 322.8h0M492.6 296.8h0" stroke="#7864f0" stroke-width="1" stroke-opacity="0.8"/><path d="M355.1 276.7h0" stroke="#7864fa" stroke-width="1" stroke-opacity="0.4"/><path d="M366.5 366.2h0M494.8 370.9h0M475.8 381h0" stroke="#7864fa" stroke-width="1" stroke-opacity="0.6"/><path d="M450.1 329.4h0" stroke="#786ec8" stroke-width="1" stroke-opacity="0.6"/><path d="M463.9 382.4h0" stroke="#786ec8" stroke-width="1" stroke-opacity="0.8"/><path d="M356.6 300.5h0M462.3 381.4h0M326.2 325.9h0" stroke="#786ed2" stroke-width="1" stroke-opacity="0.6"/><path d="M305.4 301.3h0" stroke="#786ed2" stroke-width="1" stroke-opacity="0.8"/><path d="M457.2 371.5h0" stroke="#786edc" stroke-width="1" stroke-opacity="0.4"/><path d="M398.6 366.8h0M337.2 346.5h0M320.2 308.9h0" stroke="#786edc" stroke-width="1" stroke-opacity="0.6"/><path d="M475.8 362.2h0M424.2 299.3h0" stroke="#786edc" stroke-width="1" stroke-opacity="0.8"/><path d="M499.9 298.3h0" stroke="#786ee6" stroke-width="1" stroke-opacity="0.4"/><path d="M451.2 335.5h0M382.4 367.8h0M507.2 358.9h0M492.6 363.6h0M324.5 308.7h0" stroke="#786ee6" stroke-width="1" stroke-opacity="0.6"/><path d="M505.7 360.5h0M476.9 305.6h0M497.9 344h0M327.7 315.1h0M306.1 322.8h0" stroke="#786ef0" stroke-width="1" stroke-opacity="0.4"/><path d="M480.1 341.2h0M391.7 346.5h0" stroke="#786ef0" stroke-width="1" stroke-opacity="0.6"/><path d="M512.6 354.6h0M350.8 305.5h0" stroke="#786ef0" stroke-width="1" stroke-opacity="0.8"/><path d="M459.6 310h0M435.7 368.8h0" stroke="#786efa" stroke-width="1" stroke-opacity="0.4"/><path d="M385.2 327.9h0M509.4 336.9h0M474.8 349h0" stroke="#786efa" stroke-width="1" stroke-opacity="0.6"/><path d="M308.6 299.1h0M414 335.9h0" stroke="#786efa" stroke-width="1" stroke-opacity="0.8"/><path d="M308.5 303.3h0" stroke="#786eff" stroke-width="1" stroke-opacity="0.4"/><path d="M358.7 336.6h0" stroke="#786eff" stroke-width="1" stroke-opacity="0.8"/><path d="M449.8 385.1h0" stroke="#7878c8" stroke-width="1" stroke-opacity="0.4"/><path d="M504.2 344.9h0" stroke="#7878c8" stroke-width="1" stroke-opacity="0.6"/><path d="M453.3 375.1h0M418.4 264.2h0M515.7 365.3h0M384.5 344.9h0" stroke="#7878d2" stroke-width="1" stroke-opacity="0.4"/><path d="M347.7 322.6h0M403.7 290.7h0" stroke="#7878d2" stroke-width="1" stroke-opacity="0.6"/><path d="M465.4 326h0M510.5 337h0" stroke="#7878d2" stroke-width="1" stroke-opacity="0.8"/><path d="M500.7 353.4h0M369 271.9h0M406.1 382.5h0M398.5 368.9h0" stroke="#7878dc" stroke-width="1" stroke-opacity="0.4"/><path d="M504.9 324h0M327 294.3h0M332.9 330.4h0M450.2 382.7h0M453.2 283.1h0" stroke="#7878dc" stroke-width="1" stroke-opacity="0.6"/><path d="M414.2 386h0" stroke="#7878e6" stroke-width="1" stroke-opacity="0.4"/><path d="M486.8 360h0M395.2 326.6h0M463.3 382.3h0" stroke="#7878e6" stroke-width="1" stroke-opacity="0.6"/><path d="M483.8 322.5h0M474.8 381.4h0M489.4 307.5h0M411.3 368h0M318.9 340.5h0" stroke="#7878f0" stroke-width="1" stroke-opacity="0.4"/><path d="M433 235.9h0M502.5 338h0M437 338.2h0M487.1 356.2h0" stroke="#7878f0" stroke-width="1" stroke-opacity="0.6"/><path d="M330.9 313.9h0M412.1 339.1h0M346.4 285.7h0M310.8 325.6h0M313.7 317.5h0M383.4 343.7h0M386.9 266.3h0" stroke="#7878f0" stroke-width="1" stroke-opacity="0.8"/><path d="M398.5 358.4h0" stroke="#7878fa" stroke-width="1" stroke-opacity="0.4"/><path d="M517.2 354h0M453.5 248.4h0M461.3 342.5h0" stroke="#7878fa" stroke-width="1" stroke-opacity="0.6"/><path d="M308.5 323.2h0" stroke="#7878fa" stroke-width="1" stroke-opacity="0.8"/><path d="M486 292.6h0" stroke="#7882c8" stroke-width="1" stroke-opacity="0.6"/><path d="M314.4 298.1h0" stroke="#7882c8" stroke-width="1" stroke-opacity="0.8"/><path d="M364.3 282.4h0M338.3 343.2h0" stroke="#7882d2" stroke-width="1" stroke-opacity="0.4"/><path d="M469.9 279.9h0M437.3 360.5h0" stroke="#7882d2" stroke-width="1" stroke-opacity="0.6"/><path d="M361.4 323.9h0M352.5 348.5h0" stroke="#7882dc" stroke-width="1" stroke-opacity="0.6"/><path d="M370.8 268.3h0" stroke="#7882dc" stroke-width="1" stroke-opacity="0.8"/><path d="M464.7 264.3h0" stroke="#7882e6" stroke-width="1" stroke-opacity="0.6"/><path d="M314.7 320h0M403.3 353.9h0" stroke="#7882e6" stroke-width="1" stroke-opacity="0.8"/><path d="M486.3 293.4h0" stroke="#7882f0" stroke-width="1" stroke-opacity="0.4"/><path d="M504.7 367.6h0M308.1 317.3h0" stroke="#7882f0" stroke-width="1" stroke-opacity="0.6"/><path d="M475.6 380.6h0M418.1 380.9h0" stroke="#7882f0" stroke-width="1" stroke-opacity="0.8"/><path d="M374.1 368.8h0M387.9 289.6h0M368.8 361.7h0" stroke="#7882fa" stroke-width="1" stroke-opacity="0.4"/><path d="M412.1 367.4h0" stroke="#7882fa" stroke-width="1" stroke-opacity="0.6"/><path d="M478.8 362.7h0M339.5 343h0M316.5 336.2h0" stroke="#788cc8" stroke-width="1" stroke-opacity="0.4"/><path d="M502.3 331h0" stroke="#788cc8" stroke-width="1" stroke-opacity="0.8"/><path d="M415.1 371.7h0M371.7 334.8h0" stroke="#788cd2" stroke-width="1" stroke-opacity="0.4"/><path d="M317.2 332h0M511.8 336h0M480.7 319.2h0" stroke="#788cd2" stroke-width="1" stroke-opacity="0.6"/><path d="M478.7 380.2h0M482.4 373.9h0" stroke="#788cd2" stroke-width="1" stroke-opacity="0.8"/><path d="M345.6 340.7h0M406.5 280.4h0M492.6 282.9h0" stroke="#788cdc" stroke-width="1" stroke-opacity="0.6"/><path d="M417.7 344.5h0" stroke="#788cdc" stroke-width="1" stroke-opacity="0.8"/><path d="M472.7 288.4h0M382.6 357.7h0M356.8 277h0" stroke="#788ce6" stroke-width="1" stroke-opacity="0.4"/><path d="M319.6 299.8h0M503.6 327.7h0M330.3 323.5h0M490 338.4h0" stroke="#788ce6" stroke-width="1" stroke-opacity="0.6"/><path d="M489.9 287.9h0M384.5 370h0" stroke="#788ce6" stroke-width="1" stroke-opacity="0.8"/><path d="M397.1 260.1h0M416.8 366.5h0" stroke="#788cf0" stroke-width="1" stroke-opacity="0.4"/><path d="M467 365.8h0M318.6 291.2h0M474.9 337.4h0M492.8 340h0M502.7 351.5h0" stroke="#788cf0" stroke-width="1" stroke-opacity="0.6"/><path d="M413.1 278.8h0M311.5 314.8h0M430.5 387h0M447.1 364.5h0" stroke="#788cf0" stroke-width="1" stroke-opacity="0.8"/><path d="M475.3 363.6h0M513.3 357.4h0" stroke="#788cfa" stroke-width="1" stroke-opacity="0.4"/><path d="M436.4 380.7h0M511.5 330.2h0" stroke="#788cfa" stroke-width="1" stroke-opacity="0.6"/><path d="M329.5 310.3h0M324.3 346.6h0" stroke="#788cfa" stroke-width="1" stroke-opacity="0.8"/><path d="M473.4 336.8h0M381.3 333.4h0M509.3 353h0M512 340.5h0M335.6 319.9h0" stroke="#a04678" stroke-width="1" stroke-opacity="0.4"/><path d="M462.5 365.4h0M467.3 282.3h0M522.5 351.4h0M418.3 386.6h0M431.1 308.5h0M377.4 305.5h0M331.4 342.1h0M421.3 246.3h0M318 301.8h0M494.9 346.6h0M502.5 338.5h0M451.1 342.5h0M431.3 370h0" stroke="#a04678" stroke-width="1" stroke-opacity="0.6"/><path d="M460.5 283h0M516.3 349h0M432.2 376h0M312.9 324.7h0M328.6 301.6h0" stroke="#a04678" stroke-width="1" stroke-opacity="0.8"/><path d="M457.8 353.1h0M362.5 303.4h0M327.6 333.7h0M489.4 350.4h0M435.3 387.5h0M399.9 352.2h0M439.8 386.8h0M500.3 350.1h0M364.7 288.2h0M426.4 381h0M386.7 339.1h0" stroke="#a0aa78" stroke-width="1" stroke-opacity="0.4"/><path d="M511.3 349.2h0M451.5 278.6h0M430.7 233.4h0M385.9 282.1h0M314.2 334.1h0M320.6 309h0M364.1 306h0M505.7 333.4h0M435.7 359.5h0M448.6 378h0M483.3 336.4h0M428.2 263.5h0M497.7 344.7h0M379.4 290.5h0M413.6 299.3h0M376.5 357.4h0" stroke="#a0aa78" stroke-width="1" stroke-opacity="0.6"/><path d="M378.4 278.6h0M473.2 358h0M320.2 306.3h0M328.6 296.7h0M340.3 308.2h0M363.5 282h0M467.5 293.2h0M501.1 325.5h0M435.1 302.6h0M506.5 316h0M383.1 342.9h0M489.5 281.4h0M424.8 263.6h0M421.3 250.5h0" stroke="#a0aa78" stroke-width="1" stroke-opacity="0.8"/><path d="M494.5 331.9h0M466.9 331.8h0M427.1 379.3h0M501.1 372.1h0M414.2 377.8h0M385.7 351.8h0M467 341.2h0M515.9 332.5h0M363.5 309.8h0M448.2 273.9h0M305.9 320.8h0M350 361.7h0M400.5 335.1h0M464.5 335.4h0M443.1 301.4h0M492.5 329.9h0M460.7 351.9h0M310.1 319.1h0M357.6 341.3h0M413.1 235.9h0M504.4 353.4h0M504.8 328.5h0M396.1 371.8h0M389.3 368.1h0" stroke="#bec8e6" stroke-width="1" stroke-opacity="0.4"/><path d="M354.2 344h0M432.7 309.7h0M322.9 309.5h0M396.5 309.9h0M338.5 287.8h0M432.1 375.8h0M340.7 285.9h0M492.8 352.8h0M468 291.5h0M361.9 339.7h0M489 332.9h0M406.8 366.9h0M514.5 345.5h0M487.1 283.6h0M503.2 338h0M480.1 365.4h0M331.3 308.6h0M484 313.9h0M501.2 374.4h0M442.3 267h0M475.8 329.9h0M442.2 351.6h0M375.7 356.4h0M315 310.3h0M371.3 349.3h0M401.9 373.2h0M486.7 337.2h0M351.2 279.8h0M339.7 353.7h0M423.9 287.2h0M503.7 361h0M421.9 355.3h0M373.2 339.2h0M345.8 327.8h0" stroke="#bec8e6" stroke-width="1" stroke-opacity="0.6"/><path d="M471.4 344.1h0M395 244.6h0M374.5 270.7h0M469.3 263.1h0M420.5 329.9h0M409.8 264.7h0M444.2 248.7h0M487.8 346.8h0M495.6 333.1h0M475.9 314.7h0M458.3 299.6h0M398.3 351.3h0M517.8 350.6h0" stroke="#bec8e6" stroke-width="1" stroke-opacity="0.8"/><path d="M409 362h0" stroke="#465af0" stroke-width="1.5" stroke-opacity="0.4"/><path d="M305.4 306.8h0" stroke="#4664d2" stroke-width="1.5" stroke-opacity="0.4"/><path d="M456 350.1h0" stroke="#4664f0" stroke-width="1.5" stroke-opacity="0.4"/><path d="M301.1 320.2h0" stroke="#466efa" stroke-width="1.5" stroke-opacity="0.6"/><path d="M453.5 316.4h0" stroke="#4678d2" stroke-width="1.5" stroke-opacity="0.6"/><path d="M328.6 338.3h0" stroke="#4682c8" stroke-width="1.5" stroke-opacity="0.8"/><path d="M324.1 333.7h0" stroke="#4682d2" stroke-width="1.5" stroke-opacity="0.6"/><path d="M348.9 292.8h0" stroke="#4682e6" stroke-width="1.5" stroke-opacity="0.6"/><path d="M438.8 363.1h0" stroke="#4682fa" stroke-width="1.5" stroke-opacity="0.4"/><path d="M483.5 331.8h0" stroke="#468cd2" stroke-width="1.5" stroke-opacity="0.6"/><path d="M435.9 388.2h0" stroke="#468cf0" stroke-width="1.5" stroke-opacity="0.4"/><path d="M356.4 320.3h0" stroke="#468cfa" stroke-width="1.5" stroke-opacity="0.6"/><path d="M321.8 324h0" stroke="#505ac8" stroke-width="1.5" stroke-opacity="0.6"/><path d="M354.8 361.3h0" stroke="#505ae6" stroke-width="1.5" stroke-opacity="0.4"/><path d="M436.2 337.7h0" stroke="#505af0" stroke-width="1.5" stroke-opacity="0.6"/><path d="M495.4 343.7h0" stroke="#5064d2" stroke-width="1.5" stroke-opacity="0.4"/><path d="M302.3 322.7h0" stroke="#5064dc" stroke-width="1.5" stroke-opacity="0.6"/><path d="M500.9 343.5h0M481.1 343.9h0" stroke="#5064dc" stroke-width="1.5" stroke-opacity="0.8"/><path d="M358.2 292.4h0" stroke="#5064e6" stroke-width="1.5" stroke-opacity="0.6"/><path d="M419 336.8h0" stroke="#5064e6" stroke-width="1.5" stroke-opacity="0.8"/><path d="M448 242.2h0" stroke="#5064f0" stroke-width="1.5" stroke-opacity="0.6"/><path d="M452.4 302.3h0" stroke="#5064fa" stroke-width="1.5" stroke-opacity="0.6"/><path d="M301 320.8h0" stroke="#506ed2" stroke-width="1.5" stroke-opacity="0.6"/><path d="M518.2 356.8h0" stroke="#5078c8" stroke-width="1.5" stroke-opacity="0.4"/><path d="M483.5 282.3h0" stroke="#5078ff" stroke-width="1.5" stroke-opacity="0.6"/><path d="M457.9 344.8h0" stroke="#5082d2" stroke-width="1.5" stroke-opacity="0.6"/><path d="M347.7 303h0" stroke="#5082e6" stroke-width="1.5" stroke-opacity="0.4"/><path d="M455.1 336.9h0" stroke="#5082e6" stroke-width="1.5" stroke-opacity="0.6"/><path d="M484.7 299.6h0" stroke="#508cdc" stroke-width="1.5" stroke-opacity="0.4"/><path d="M385.3 339.4h0" stroke="#508cf0" stroke-width="1.5" stroke-opacity="0.8"/><path d="M397.7 351.7h0" stroke="#5a64c8" stroke-width="1.5" stroke-opacity="0.4"/><path d="M392.8 326h0" stroke="#5a64d2" stroke-width="1.5" stroke-opacity="0.4"/><path d="M415.4 339.2h0" stroke="#5a64dc" stroke-width="1.5" stroke-opacity="0.4"/><path d="M468.2 385.1h0" stroke="#5a6ef0" stroke-width="1.5" stroke-opacity="0.4"/><path d="M368.5 327.7h0" stroke="#5a78e6" stroke-width="1.5" stroke-opacity="0.6"/><path d="M396.8 374.4h0" stroke="#5a78f0" stroke-width="1.5" stroke-opacity="0.4"/><path d="M510.9 348.2h0" stroke="#5a78f0" stroke-width="1.5" stroke-opacity="0.6"/><path d="M425.8 363.2h0" stroke="#5a78fa" stroke-width="1.5" stroke-opacity="0.4"/><path d="M409.7 324.6h0" stroke="#5a82fa" stroke-width="1.5" stroke-opacity="0.8"/><path d="M340.2 324.7h0" stroke="#5a8cd2" stroke-width="1.5" stroke-opacity="0.4"/><path d="M350.5 298.6h0" stroke="#645adc" stroke-width="1.5" stroke-opacity="0.6"/><path d="M469.4 296.6h0" stroke="#645af0" stroke-width="1.5" stroke-opacity="0.4"/><path d="M442 386.8h0M320.8 329.6h0M405.4 376.9h0" stroke="#6464dc" stroke-width="1.5" stroke-opacity="0.6"/><path d="M332.5 312.9h0" stroke="#6464e6" stroke-width="1.5" stroke-opacity="0.6"/><path d="M457.1 286.6h0" stroke="#6464f0" stroke-width="1.5" stroke-opacity="0.6"/><path d="M366.8 365.2h0" stroke="#6464fa" stroke-width="1.5" stroke-opacity="0.4"/><path d="M437.6 360h0" stroke="#646ed2" stroke-width="1.5" stroke-opacity="0.6"/><path d="M393.3 303h0" stroke="#646ed2" stroke-width="1.5" stroke-opacity="0.8"/><path d="M451.6 369.9h0" stroke="#646edc" stroke-width="1.5" stroke-opacity="0.6"/><path d="M446.9 280.2h0" stroke="#646ee6" stroke-width="1.5" stroke-opacity="0.4"/><path d="M473 263.3h0" stroke="#646efa" stroke-width="1.5" stroke-opacity="0.4"/><path d="M305.7 299h0" stroke="#646efa" stroke-width="1.5" stroke-opacity="0.8"/><path d="M471.6 365.2h0" stroke="#6478c8" stroke-width="1.5" stroke-opacity="0.6"/><path d="M454.9 333.1h0" stroke="#6478d2" stroke-width="1.5" stroke-opacity="0.4"/><path d="M387 313.8h0" stroke="#6478dc" stroke-width="1.5" stroke-opacity="0.4"/><path d="M507.6 324.7h0" stroke="#6478fa" stroke-width="1.5" stroke-opacity="0.4"/><path d="M380.8 313.1h0" stroke="#6478ff" stroke-width="1.5" stroke-opacity="0.8"/><path d="M340.3 293.5h0M424.8 356.2h0" stroke="#6482d2" stroke-width="1.5" stroke-opacity="0.4"/><path d="M438 306.6h0" stroke="#6482dc" stroke-width="1.5" stroke-opacity="0.6"/><path d="M346.4 327.8h0" stroke="#6482e6" stroke-width="1.5" stroke-opacity="0.6"/><path d="M438.3 359.1h0" stroke="#6482f0" stroke-width="1.5" stroke-opacity="0.4"/><path d="M490.1 303.5h0" stroke="#6482fa" stroke-width="1.5" stroke-opacity="0.4"/><path d="M391.8 363h0" stroke="#648cc8" stroke-width="1.5" stroke-opacity="0.6"/><path d="M317.1 314.7h0" stroke="#648ce6" stroke-width="1.5" stroke-opacity="0.8"/><path d="M356.4 337.8h0" stroke="#648cf0" stroke-width="1.5" stroke-opacity="0.6"/><path d="M433.7 231.4h0M496.6 315.6h0" stroke="#648cf0" stroke-width="1.5" stroke-opacity="0.8"/><path d="M318.4 300.8h0M469.4 287.4h0M483.2 316.9h0" stroke="#648cfa" stroke-width="1.5" stroke-opacity="0.6"/><path d="M360.2 282.2h0" stroke="#648cff" stroke-width="1.5" stroke-opacity="0.6"/><path d="M496.5 324.8h0" stroke="#6e5ad2" stroke-width="1.5" stroke-opacity="0.4"/><path d="M497.9 359h0" stroke="#6e5ad2" stroke-width="1.5" stroke-opacity="0.8"/><path d="M309 319.2h0" stroke="#6e64d2" stroke-width="1.5" stroke-opacity="0.6"/><path d="M479.1 316.1h0" stroke="#6e64f0" stroke-width="1.5" stroke-opacity="0.4"/><path d="M448.9 371.1h0" stroke="#6e64f0" stroke-width="1.5" stroke-opacity="0.6"/><path d="M423.1 376h0" stroke="#6e6edc" stroke-width="1.5" stroke-opacity="0.6"/><path d="M337.1 282.2h0" stroke="#6e6ee6" stroke-width="1.5" stroke-opacity="0.4"/><path d="M298.2 324.4h0" stroke="#6e78e6" stroke-width="1.5" stroke-opacity="0.6"/><path d="M405.5 257.5h0M338.2 351.3h0" stroke="#6e78f0" stroke-width="1.5" stroke-opacity="0.4"/><path d="M416.1 313.7h0" stroke="#6e82d2" stroke-width="1.5" stroke-opacity="0.6"/><path d="M324.4 311.2h0" stroke="#6e82e6" stroke-width="1.5" stroke-opacity="0.8"/><path d="M363.5 296.3h0" stroke="#6e82fa" stroke-width="1.5" stroke-opacity="0.6"/><path d="M501.5 344h0M300.9 309.3h0" stroke="#6e8cdc" stroke-width="1.5" stroke-opacity="0.4"/><path d="M356 335.8h0" stroke="#6e8ce6" stroke-width="1.5" stroke-opacity="0.6"/><path d="M368 318.2h0" stroke="#785ad2" stroke-width="1.5" stroke-opacity="0.4"/><path d="M366.8 324.4h0" stroke="#785afa" stroke-width="1.5" stroke-opacity="0.4"/><path d="M468.8 276.7h0" stroke="#786ee6" stroke-width="1.5" stroke-opacity="0.6"/><path d="M356.9 340.2h0" stroke="#786efa" stroke-width="1.5" stroke-opacity="0.8"/><path d="M476 383.2h0" stroke="#7878dc" stroke-width="1.5" stroke-opacity="0.4"/><path d="M378.9 278.7h0M487.6 326.7h0" stroke="#7878e6" stroke-width="1.5" stroke-opacity="0.6"/><path d="M412.5 330.2h0" stroke="#7878e6" stroke-width="1.5" stroke-opacity="0.8"/><path d="M416.2 259.2h0" stroke="#7878fa" stroke-width="1.5" stroke-opacity="0.6"/><path d="M395.3 319h0" stroke="#7878ff" stroke-width="1.5" stroke-opacity="0.6"/><path d="M437.2 382.5h0" stroke="#7882d2" stroke-width="1.5" stroke-opacity="0.6"/><path d="M475.5 275h0" stroke="#788cd2" stroke-width="1.5" stroke-opacity="0.6"/><path d="M486 333.5h0" stroke="#788cf0" stroke-width="1.5" stroke-opacity="0.8"/><path d="M427.7 365.8h0" stroke="#788cfa" stroke-width="1.5" stroke-opacity="0.4"/><path d="M410.9 363h0" stroke="#a04678" stroke-width="1.5" stroke-opacity="0.4"/><path d="M395.3 371h0M449.8 347.8h0M483.3 367.1h0M467.1 346h0" stroke="#a04678" stroke-width="1.5" stroke-opacity="0.6"/><path d="M492.7 367.7h0" stroke="#a04678" stroke-width="1.5" stroke-opacity="0.8"/><path d="M438.9 232.4h0" stroke="#a0aa78" stroke-width="1.5" stroke-opacity="0.6"/><path d="M407.8 360h0" stroke="#a0aa78" stroke-width="1.5" stroke-opacity="0.8"/><path d="M387.5 236.6h0M491.5 345.5h0M475.9 378.5h0M382.5 272.6h0M369.8 305.7h0" stroke="#bec8e6" stroke-width="1.5" stroke-opacity="0.4"/><path d="M517.3 335.6h0" stroke="#bec8e6" stroke-width="1.5" stroke-opacity="0.6"/><path d="M427.1 371.6h0M488 315.2h0M472.6 372.9h0" stroke="#bec8e6" stroke-width="1.5" stroke-opacity="0.8"/></g></g><path d="M386.4,230C386.3,231.7 386.1,237 385.8,240C385.5,243 385,245.8 384.5,248C384,250.2 383.9,251.5 382.7,253.5C381.5,255.5 379.6,257.6 377.5,260C375.4,262.4 372.8,265.9 370,268C367.2,270.1 364.1,271.3 361,272.5C357.9,273.7 354.8,274.2 351.7,275C348.6,275.8 345.6,276.6 342.6,277.5C339.6,278.4 336.5,279.3 333.5,280.7C330.5,282.1 327.5,284 324.5,285.6C321.5,287.2 318.1,288.5 315.4,290.2C312.7,291.9 310.2,293.5 308.1,295.6C306,297.7 304,300.2 302.6,302.9C301.2,305.6 300.4,309.1 299.5,312C298.6,314.9 297.7,317.8 297.4,320C297.1,322.2 297.1,324 297.6,325.5C298.1,327 299.2,328 300.5,328.8C301.8,329.6 303.9,329.6 305.6,330.5C307.3,331.4 309.1,332.6 310.8,334C312.5,335.4 314,337.1 315.7,339C317.4,340.9 319.2,343.8 321,345.5C322.8,347.2 324.6,348.2 326.5,349.5C328.4,350.8 330.4,352.2 332.5,353.5C334.6,354.8 335.8,355.9 339,357.5C342.2,359.1 347.4,361.3 351.7,362.9C355.9,364.4 360,365.2 364.5,366.8C369,368.4 374.9,370.7 378.8,372.5C382.8,374.3 385.1,375.9 388.2,377.6C391.3,379.3 394.3,381.3 397.3,382.7C400.3,384.1 403.4,385.2 406.4,386C409.4,386.8 412.5,386.9 415.5,387.3C418.5,387.7 421.5,388 424.5,388.2C427.5,388.4 430.6,388.6 433.6,388.5C436.6,388.4 439.7,388.1 442.7,387.8C445.7,387.5 448.8,387 451.8,386.7C454.8,386.4 457.9,386.1 460.9,385.8C463.9,385.5 466.4,385.6 470,385C473.6,384.4 478.2,383.2 482.4,382C486.6,380.8 491.2,379.2 495.1,377.5C499,375.8 502.7,373.8 506,372C509.3,370.2 512.7,368.6 515.1,366.5C517.5,364.4 519.1,361.7 520.5,359.3C521.9,356.9 523,354.4 523.3,352C523.6,349.6 523.5,348 522.4,344.7C521.3,341.4 518.7,335.9 516.9,332C515.1,328.1 513.4,324.4 511.5,321.1C509.6,317.8 507,315.3 505.5,312C504,308.7 503.4,304.4 502.4,301.1C501.4,297.8 500.5,295 499.6,292C498.7,289 498.2,285.3 496.9,282.9C495.5,280.5 493.9,279.6 491.5,277.5C489.1,275.4 485.4,272.9 482.4,270.2C479.4,267.5 476.3,264.1 473.3,261.1C470.3,258.1 467.2,254.7 464.2,252C461.2,249.3 458.1,246.9 455.1,244.7C452.1,242.4 448.7,240.9 446,238.5C443.3,236.1 440.2,231.4 439.1,230" fill="none" stroke="#a0a2b4" stroke-width="1.6" stroke-opacity="0.9" filter="url(#bd04)"/><rect x="279" y="231.5" width="267" height="14" fill="url(#tg2)"/><rect x="541.5" y="231.5" width="4.5" height="211" fill="url(#tg3)"/><rect x="279" y="231.5" width="5" height="211" fill="url(#tg4)"/><circle cx="339.3" cy="251.6" r="5" fill="#c8d4ec" fill-opacity="0.6" filter="url(#bd2)"/><circle cx="339.3" cy="251.6" r="3" fill="#f4f8ff" filter="url(#bd04)"/><circle cx="534.2" cy="416" r="4.2" fill="#f2f4f8" filter="url(#bd04)"/><rect x="482.4" y="431" width="53.6" height="3.2" fill="#f6f6f6"/><rect x="503.8" y="434.6" width="10.4" height="4.8" fill="#d4d4d4"/><rect x="505.5" y="435.8" width="7" height="2.4" fill="#8a8a8a"/></g></g>
<text x="412.5" y="459.4" text-anchor="middle" class="lab">(D)</text>
</svg>
</body></html>
